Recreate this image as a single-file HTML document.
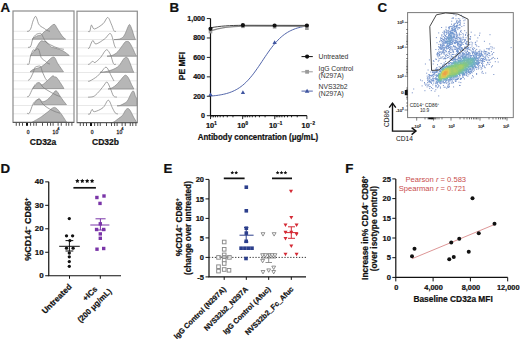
<!DOCTYPE html>
<html><head><meta charset="utf-8"><style>
html,body{margin:0;padding:0;background:#fff;width:520px;height:340px;overflow:hidden}
svg{display:block}
text{font-family:"Liberation Sans",sans-serif}
</style></head><body>
<svg width="520" height="340" viewBox="0 0 520 340">
<rect width="520" height="340" fill="#fff"/>
<text x="0.4" y="11.6" font-family="Liberation Sans" font-weight="bold" stroke="#111" stroke-width="0.22" font-size="13.3" text-anchor="start" fill="#111" >A</text>
<text x="169.5" y="11.8" font-family="Liberation Sans" font-weight="bold" stroke="#111" stroke-width="0.22" font-size="13.3" text-anchor="start" fill="#111" >B</text>
<text x="377.6" y="11.8" font-family="Liberation Sans" font-weight="bold" stroke="#111" stroke-width="0.22" font-size="13.3" text-anchor="start" fill="#111" >C</text>
<text x="0.4" y="172.8" font-family="Liberation Sans" font-weight="bold" stroke="#111" stroke-width="0.22" font-size="13.3" text-anchor="start" fill="#111" >D</text>
<text x="163.5" y="172.5" font-family="Liberation Sans" font-weight="bold" stroke="#111" stroke-width="0.22" font-size="13.3" text-anchor="start" fill="#111" >E</text>
<text x="345.3" y="173" font-family="Liberation Sans" font-weight="bold" stroke="#111" stroke-width="0.22" font-size="13.3" text-anchor="start" fill="#111" >F</text>
<rect x="13" y="11" width="61" height="111.4" fill="#fff" stroke="none"/>
<line x1="13" y1="31.3" x2="74" y2="31.3" stroke="#e2e2e2" stroke-width="0.8"/>
<line x1="13" y1="39.5" x2="74" y2="39.5" stroke="#e2e2e2" stroke-width="0.8"/>
<line x1="13" y1="47.8" x2="74" y2="47.8" stroke="#e2e2e2" stroke-width="0.8"/>
<line x1="13" y1="56.0" x2="74" y2="56.0" stroke="#e2e2e2" stroke-width="0.8"/>
<line x1="13" y1="64.3" x2="74" y2="64.3" stroke="#e2e2e2" stroke-width="0.8"/>
<line x1="13" y1="72.5" x2="74" y2="72.5" stroke="#e2e2e2" stroke-width="0.8"/>
<line x1="13" y1="80.8" x2="74" y2="80.8" stroke="#e2e2e2" stroke-width="0.8"/>
<line x1="13" y1="89.0" x2="74" y2="89.0" stroke="#e2e2e2" stroke-width="0.8"/>
<line x1="13" y1="97.3" x2="74" y2="97.3" stroke="#e2e2e2" stroke-width="0.8"/>
<line x1="13" y1="105.5" x2="74" y2="105.5" stroke="#e2e2e2" stroke-width="0.8"/>
<line x1="13" y1="113.8" x2="74" y2="113.8" stroke="#e2e2e2" stroke-width="0.8"/>
<path d="M32.20,39.20 C32.67,38.83 33.95,37.63 35.00,37.00 C36.05,36.37 37.50,35.73 38.50,35.40 C39.50,35.07 40.08,35.57 41.00,35.00 C41.92,34.43 42.83,33.00 44.00,32.00 C45.17,31.00 46.33,30.28 48.00,29.00 C49.67,27.72 52.50,24.47 54.00,24.30 C55.50,24.13 55.95,26.50 57.00,28.00 C58.05,29.50 59.30,31.80 60.30,33.30 C61.30,34.80 62.12,36.02 63.00,37.00 C63.88,37.98 65.17,38.83 65.60,39.20 Z" fill="#b6b6b6" stroke="#808080" stroke-width="0.65" stroke-linejoin="round"/>
<path d="M27.00,31.30 C27.33,31.25 28.33,31.55 29.00,31.00 C29.67,30.45 30.33,29.67 31.00,28.00 C31.67,26.33 32.27,22.93 33.00,21.00 C33.73,19.07 34.73,16.73 35.40,16.40 C36.07,16.07 36.48,17.77 37.00,19.00 C37.52,20.23 37.83,22.55 38.50,23.80 C39.17,25.05 40.02,25.72 41.00,26.50 C41.98,27.28 43.40,27.83 44.40,28.50 C45.40,29.17 46.07,30.03 47.00,30.50 C47.93,30.97 49.50,31.17 50.00,31.30" fill="none" stroke="#7a7a7a" stroke-width="0.7" stroke-linejoin="round"/>
<path d="M30.60,55.50 C31.42,54.45 34.02,51.35 35.50,49.20 C36.98,47.05 38.47,44.00 39.50,42.60 C40.53,41.20 41.07,41.02 41.70,40.80 C42.33,40.58 42.58,41.17 43.30,41.30 C44.02,41.43 45.25,41.23 46.00,41.60 C46.75,41.97 46.83,42.53 47.80,43.50 C48.77,44.47 50.92,46.73 51.80,47.40 C52.68,48.07 51.33,46.97 53.10,47.50 C54.87,48.03 59.70,49.27 62.40,50.60 C65.10,51.93 68.15,54.68 69.30,55.50 Z" fill="#b6b6b6" stroke="#808080" stroke-width="0.65" stroke-linejoin="round"/>
<path d="M28.00,47.30 C28.37,47.25 29.62,47.57 30.20,47.00 C30.78,46.43 31.07,45.30 31.50,43.90 C31.93,42.50 32.13,40.08 32.80,38.60 C33.47,37.12 34.62,35.82 35.50,35.00 C36.38,34.18 37.15,33.92 38.10,33.70 C39.05,33.48 40.32,33.03 41.20,33.70 C42.08,34.37 42.60,36.30 43.40,37.70 C44.20,39.10 44.82,40.92 46.00,42.10 C47.18,43.28 49.02,43.98 50.50,44.80 C51.98,45.62 53.43,46.38 54.90,47.00 C56.37,47.62 57.78,48.12 59.30,48.50 C60.82,48.88 63.22,49.17 64.00,49.30" fill="none" stroke="#7a7a7a" stroke-width="0.7" stroke-linejoin="round"/>
<path d="M30.00,71.80 C30.50,71.42 32.02,70.03 33.00,69.50 C33.98,68.97 34.62,69.02 35.90,68.60 C37.18,68.18 39.18,67.77 40.70,67.00 C42.22,66.23 42.88,65.67 45.00,64.00 C47.12,62.33 51.23,57.00 53.40,57.00 C55.57,57.00 56.32,61.53 58.00,64.00 C59.68,66.47 62.58,70.50 63.50,71.80 Z" fill="#b6b6b6" stroke="#808080" stroke-width="0.65" stroke-linejoin="round"/>
<path d="M27.00,64.00 C27.33,63.97 28.40,65.15 29.00,63.80 C29.60,62.45 29.90,58.20 30.60,55.90 C31.30,53.60 32.47,50.90 33.20,50.00 C33.93,49.10 34.12,50.67 35.00,50.50 C35.88,50.33 37.47,47.83 38.50,49.00 C39.53,50.17 40.05,55.47 41.20,57.50 C42.35,59.53 44.27,60.20 45.40,61.20 C46.53,62.20 47.23,63.03 48.00,63.50 C48.77,63.97 49.67,63.92 50.00,64.00" fill="none" stroke="#7a7a7a" stroke-width="0.7" stroke-linejoin="round"/>
<path d="M32.70,88.50 C33.08,88.08 34.03,86.88 35.00,86.00 C35.97,85.12 37.28,83.40 38.50,83.20 C39.72,83.00 40.62,85.42 42.30,84.80 C43.98,84.18 46.83,81.00 48.60,79.50 C50.37,78.00 51.92,76.22 52.90,75.80 C53.88,75.38 53.88,76.73 54.50,77.00 C55.12,77.27 55.63,76.45 56.60,77.40 C57.57,78.35 59.07,80.85 60.30,82.70 C61.53,84.55 63.38,87.53 64.00,88.50 Z" fill="#b6b6b6" stroke="#808080" stroke-width="0.65" stroke-linejoin="round"/>
<path d="M28.00,80.30 C28.33,80.08 29.13,80.28 30.00,79.00 C30.87,77.72 32.37,74.52 33.20,72.60 C34.03,70.68 34.37,68.52 35.00,67.50 C35.63,66.48 36.08,66.68 37.00,66.50 C37.92,66.32 39.62,65.55 40.50,66.40 C41.38,67.25 41.48,69.58 42.30,71.60 C43.12,73.62 44.62,77.05 45.40,78.50 C46.18,79.95 46.73,80.00 47.00,80.30" fill="none" stroke="#7a7a7a" stroke-width="0.7" stroke-linejoin="round"/>
<path d="M33.60,104.60 C33.98,104.05 35.03,102.20 35.90,101.30 C36.77,100.40 37.65,99.12 38.80,99.20 C39.95,99.28 41.33,101.75 42.80,101.80 C44.27,101.85 46.07,100.63 47.60,99.50 C49.13,98.37 50.60,96.47 52.00,95.00 C53.40,93.53 54.67,90.53 56.00,90.70 C57.33,90.87 58.75,94.28 60.00,96.00 C61.25,97.72 62.42,99.57 63.50,101.00 C64.58,102.43 66.00,104.00 66.50,104.60 Z" fill="#b6b6b6" stroke="#808080" stroke-width="0.65" stroke-linejoin="round"/>
<path d="M27.00,96.50 C27.33,96.42 28.05,97.33 29.00,96.00 C29.95,94.67 31.55,90.53 32.70,88.50 C33.85,86.47 34.75,84.77 35.90,83.80 C37.05,82.83 38.45,82.17 39.60,82.70 C40.75,83.23 41.57,85.78 42.80,87.00 C44.03,88.22 45.50,89.03 47.00,90.00 C48.50,90.97 50.30,91.97 51.80,92.80 C53.30,93.63 54.63,94.38 56.00,95.00 C57.37,95.62 59.33,96.25 60.00,96.50" fill="none" stroke="#7a7a7a" stroke-width="0.7" stroke-linejoin="round"/>
<path d="M32.20,122.20 C33.70,121.32 38.63,118.58 41.20,116.90 C43.77,115.22 45.40,113.68 47.60,112.10 C49.80,110.52 52.28,107.30 54.40,107.40 C56.52,107.50 58.27,110.23 60.30,112.70 C62.33,115.17 65.55,120.62 66.60,122.20 Z" fill="#b6b6b6" stroke="#808080" stroke-width="0.65" stroke-linejoin="round"/>
<path d="M27.00,113.20 C27.42,113.17 28.55,114.42 29.50,113.00 C30.45,111.58 31.72,106.70 32.70,104.70 C33.68,102.70 34.25,101.97 35.40,101.00 C36.55,100.03 38.55,98.63 39.60,98.90 C40.65,99.17 40.80,101.42 41.70,102.60 C42.60,103.78 43.67,104.93 45.00,106.00 C46.33,107.07 48.03,108.07 49.70,109.00 C51.37,109.93 53.28,110.90 55.00,111.60 C56.72,112.30 59.17,112.93 60.00,113.20" fill="none" stroke="#7a7a7a" stroke-width="0.7" stroke-linejoin="round"/>
<rect x="13" y="11" width="61" height="111.4" fill="none" stroke="#8c8c8c" stroke-width="1.2"/>
<path d="M16.25,122.4 v3.4 M19.40,122.4 v3.4 M22.50,122.4 v3.4 M30.60,122.4 v3.4 M33.75,122.4 v3.4 M36.25,122.4 v3.4 M42.50,122.4 v3.4 M47.50,122.4 v3.4 M50.60,122.4 v3.4 M53.10,122.4 v3.4 M58.10,122.4 v3.4 M61.25,122.4 v3.4 M66.25,122.4 v3.4 M68.75,122.4 v3.4 M71.90,122.4 v3.4" stroke="#222" stroke-width="0.8"/>
<rect x="26" y="122.4" width="2" height="3.4" fill="#111"/>
<line x1="13" y1="122.4" x2="74" y2="122.4" stroke="#555" stroke-width="1"/>
<text x="28.1" y="133.8" font-family="Liberation Sans" font-size="5" text-anchor="middle" fill="#333" stroke="#333" stroke-width="0.3">0</text>
<text x="55.4" y="133.8" font-family="Liberation Sans" font-size="5" text-anchor="middle" fill="#333" stroke="#333" stroke-width="0.3">10</text>
<text x="58.3" y="130.2" font-family="Liberation Sans" font-size="4" text-anchor="middle" fill="#333" stroke="#333" stroke-width="0.3">4</text>
<text x="43.1" y="144.5" font-family="Liberation Sans" font-weight="bold" stroke="#111" stroke-width="0.22" font-size="8.5" text-anchor="middle" fill="#111" >CD32a</text>
<rect x="77" y="11.2" width="60.30000000000001" height="111.39999999999999" fill="#fff" stroke="none"/>
<line x1="77" y1="31.3" x2="137.3" y2="31.3" stroke="#e2e2e2" stroke-width="0.8"/>
<line x1="77" y1="39.5" x2="137.3" y2="39.5" stroke="#e2e2e2" stroke-width="0.8"/>
<line x1="77" y1="47.8" x2="137.3" y2="47.8" stroke="#e2e2e2" stroke-width="0.8"/>
<line x1="77" y1="56.0" x2="137.3" y2="56.0" stroke="#e2e2e2" stroke-width="0.8"/>
<line x1="77" y1="64.3" x2="137.3" y2="64.3" stroke="#e2e2e2" stroke-width="0.8"/>
<line x1="77" y1="72.5" x2="137.3" y2="72.5" stroke="#e2e2e2" stroke-width="0.8"/>
<line x1="77" y1="80.8" x2="137.3" y2="80.8" stroke="#e2e2e2" stroke-width="0.8"/>
<line x1="77" y1="89.0" x2="137.3" y2="89.0" stroke="#e2e2e2" stroke-width="0.8"/>
<line x1="77" y1="97.3" x2="137.3" y2="97.3" stroke="#e2e2e2" stroke-width="0.8"/>
<line x1="77" y1="105.5" x2="137.3" y2="105.5" stroke="#e2e2e2" stroke-width="0.8"/>
<line x1="77" y1="113.8" x2="137.3" y2="113.8" stroke="#e2e2e2" stroke-width="0.8"/>
<path d="M114.00,39.60 C114.67,39.55 116.83,39.48 118.00,39.30 C119.17,39.12 120.08,38.97 121.00,38.50 C121.92,38.03 122.75,37.42 123.50,36.50 C124.25,35.58 124.83,34.42 125.50,33.00 C126.17,31.58 126.85,29.42 127.50,28.00 C128.15,26.58 128.82,24.67 129.40,24.50 C129.98,24.33 130.48,25.92 131.00,27.00 C131.52,28.08 132.00,29.50 132.50,31.00 C133.00,32.50 133.50,34.57 134.00,36.00 C134.50,37.43 135.25,39.00 135.50,39.60 Z" fill="#b6b6b6" stroke="#808080" stroke-width="0.65" stroke-linejoin="round"/>
<path d="M88.00,31.30 C88.30,31.30 89.22,32.35 89.80,31.30 C90.38,30.25 90.73,25.38 91.50,25.00 C92.27,24.62 92.48,29.20 94.40,29.00 C96.32,28.80 100.78,25.72 103.00,23.80 C105.22,21.88 106.33,17.50 107.70,17.50 C109.07,17.50 110.15,21.58 111.20,23.80 C112.25,26.02 113.20,29.55 114.00,30.80 C114.80,32.05 115.67,31.22 116.00,31.30" fill="none" stroke="#7a7a7a" stroke-width="0.7" stroke-linejoin="round"/>
<path d="M107.00,56.20 C107.80,56.08 110.47,55.87 111.80,55.50 C113.13,55.13 113.97,54.67 115.00,54.00 C116.03,53.33 117.00,52.58 118.00,51.50 C119.00,50.42 120.08,48.75 121.00,47.50 C121.92,46.25 122.78,44.95 123.50,44.00 C124.22,43.05 124.72,42.22 125.30,41.80 C125.88,41.38 126.42,41.50 127.00,41.50 C127.58,41.50 128.13,41.22 128.80,41.80 C129.47,42.38 130.22,43.63 131.00,45.00 C131.78,46.37 132.75,48.42 133.50,50.00 C134.25,51.58 134.95,53.47 135.50,54.50 C136.05,55.53 136.58,55.92 136.80,56.20 Z" fill="#b6b6b6" stroke="#808080" stroke-width="0.65" stroke-linejoin="round"/>
<path d="M88.00,48.00 C88.20,48.00 88.42,49.23 89.20,48.00 C89.98,46.77 91.57,41.27 92.70,40.60 C93.83,39.93 93.98,44.30 96.00,44.00 C98.02,43.70 102.37,40.52 104.80,38.80 C107.23,37.08 108.97,32.53 110.60,33.70 C112.23,34.87 113.70,43.45 114.60,45.80 C115.50,48.15 115.77,47.47 116.00,47.80" fill="none" stroke="#7a7a7a" stroke-width="0.7" stroke-linejoin="round"/>
<path d="M100.00,72.30 C100.83,72.22 103.33,72.10 105.00,71.80 C106.67,71.50 108.50,70.97 110.00,70.50 C111.50,70.03 112.75,69.58 114.00,69.00 C115.25,68.42 116.50,67.75 117.50,67.00 C118.50,66.25 119.17,65.58 120.00,64.50 C120.83,63.42 121.75,61.58 122.50,60.50 C123.25,59.42 123.88,58.53 124.50,58.00 C125.12,57.47 125.62,57.22 126.20,57.30 C126.78,57.38 127.37,57.55 128.00,58.50 C128.63,59.45 129.42,61.58 130.00,63.00 C130.58,64.42 131.00,65.67 131.50,67.00 C132.00,68.33 132.58,70.12 133.00,71.00 C133.42,71.88 133.83,72.08 134.00,72.30 Z" fill="#b6b6b6" stroke="#808080" stroke-width="0.65" stroke-linejoin="round"/>
<path d="M88.00,64.20 C88.20,64.20 88.42,64.68 89.20,64.20 C89.98,63.72 91.73,61.58 92.70,61.30 C93.67,61.02 93.65,63.17 95.00,62.50 C96.35,61.83 99.27,59.03 100.80,57.30 C102.33,55.57 103.15,53.35 104.20,52.10 C105.25,50.85 106.03,49.32 107.10,49.80 C108.17,50.28 109.53,52.68 110.60,55.00 C111.67,57.32 112.60,62.17 113.50,63.70 C114.40,65.23 115.58,64.12 116.00,64.20" fill="none" stroke="#7a7a7a" stroke-width="0.7" stroke-linejoin="round"/>
<path d="M108.00,89.00 C108.50,88.88 109.92,88.75 111.00,88.30 C112.08,87.85 113.40,87.10 114.50,86.30 C115.60,85.50 116.52,84.63 117.60,83.50 C118.68,82.37 120.02,80.67 121.00,79.50 C121.98,78.33 122.77,77.22 123.50,76.50 C124.23,75.78 124.73,75.20 125.40,75.20 C126.07,75.20 126.82,75.70 127.50,76.50 C128.18,77.30 128.83,78.67 129.50,80.00 C130.17,81.33 130.77,83.00 131.50,84.50 C132.23,86.00 133.50,88.25 133.90,89.00 Z" fill="#b6b6b6" stroke="#808080" stroke-width="0.65" stroke-linejoin="round"/>
<path d="M88.00,81.00 C88.30,81.00 88.25,81.78 89.80,81.00 C91.35,80.22 95.28,77.93 97.30,76.30 C99.32,74.67 100.45,72.73 101.90,71.20 C103.35,69.67 104.75,67.02 106.00,67.10 C107.25,67.18 108.63,70.45 109.40,71.70 C110.17,72.95 109.83,73.05 110.60,74.60 C111.37,76.15 113.43,79.93 114.00,81.00" fill="none" stroke="#7a7a7a" stroke-width="0.7" stroke-linejoin="round"/>
<path d="M117.00,105.80 C117.50,105.75 118.83,105.88 120.00,105.50 C121.17,105.12 122.83,104.17 124.00,103.50 C125.17,102.83 126.13,102.50 127.00,101.50 C127.87,100.50 128.60,98.68 129.20,97.50 C129.80,96.32 129.98,95.50 130.60,94.40 C131.22,93.30 132.25,91.13 132.90,90.90 C133.55,90.67 134.07,92.02 134.50,93.00 C134.93,93.98 135.12,95.83 135.50,96.80 C135.88,97.77 136.58,97.30 136.80,98.80 C137.02,100.30 136.80,104.63 136.80,105.80 Z" fill="#b6b6b6" stroke="#808080" stroke-width="0.65" stroke-linejoin="round"/>
<path d="M88.00,97.10 C88.30,97.10 88.73,97.28 89.80,97.10 C90.87,96.92 92.67,97.15 94.40,96.00 C96.13,94.85 98.57,92.03 100.20,90.20 C101.83,88.37 103.05,86.35 104.20,85.00 C105.35,83.65 106.03,81.43 107.10,82.10 C108.17,82.77 109.53,86.68 110.60,89.00 C111.67,91.32 112.43,94.65 113.50,96.00 C114.57,97.35 116.42,96.92 117.00,97.10" fill="none" stroke="#7a7a7a" stroke-width="0.7" stroke-linejoin="round"/>
<path d="M110.00,122.60 C110.50,122.55 112.12,122.57 113.00,122.30 C113.88,122.03 114.38,121.63 115.30,121.00 C116.22,120.37 117.32,119.40 118.50,118.50 C119.68,117.60 121.40,116.68 122.40,115.60 C123.40,114.52 123.92,112.98 124.50,112.00 C125.08,111.02 125.38,110.28 125.90,109.70 C126.42,109.12 127.00,108.53 127.60,108.50 C128.20,108.47 128.85,108.75 129.50,109.50 C130.15,110.25 130.83,111.75 131.50,113.00 C132.17,114.25 132.97,115.98 133.50,117.00 C134.03,118.02 134.15,118.17 134.70,119.10 C135.25,120.03 136.45,122.02 136.80,122.60 Z" fill="#b6b6b6" stroke="#808080" stroke-width="0.65" stroke-linejoin="round"/>
<path d="M88.00,114.00 C88.30,114.00 89.12,114.77 89.80,114.00 C90.48,113.23 91.33,109.78 92.10,109.40 C92.87,109.02 92.58,111.98 94.40,111.70 C96.22,111.42 100.68,109.62 103.00,107.70 C105.32,105.78 106.75,100.20 108.30,100.20 C109.85,100.20 111.15,105.58 112.30,107.70 C113.45,109.82 114.25,111.85 115.20,112.90 C116.15,113.95 117.53,113.82 118.00,114.00" fill="none" stroke="#7a7a7a" stroke-width="0.7" stroke-linejoin="round"/>
<rect x="77" y="11.2" width="60.30000000000001" height="111.39999999999999" fill="none" stroke="#8c8c8c" stroke-width="1.2"/>
<path d="M80.25,122.6 v3.4 M83.40,122.6 v3.4 M86.50,122.6 v3.4 M94.60,122.6 v3.4 M97.75,122.6 v3.4 M100.25,122.6 v3.4 M106.50,122.6 v3.4 M111.50,122.6 v3.4 M114.60,122.6 v3.4 M117.10,122.6 v3.4 M122.10,122.6 v3.4 M125.25,122.6 v3.4 M130.25,122.6 v3.4 M132.75,122.6 v3.4 M135.90,122.6 v3.4" stroke="#222" stroke-width="0.8"/>
<rect x="90" y="122.6" width="2" height="3.4" fill="#111"/>
<line x1="77" y1="122.6" x2="137.3" y2="122.6" stroke="#555" stroke-width="1"/>
<text x="92.1" y="133.8" font-family="Liberation Sans" font-size="5" text-anchor="middle" fill="#333" stroke="#333" stroke-width="0.3">0</text>
<text x="119.4" y="133.8" font-family="Liberation Sans" font-size="5" text-anchor="middle" fill="#333" stroke="#333" stroke-width="0.3">10</text>
<text x="122.3" y="130.2" font-family="Liberation Sans" font-size="4" text-anchor="middle" fill="#333" stroke="#333" stroke-width="0.3">4</text>
<text x="105.5" y="144.5" font-family="Liberation Sans" font-weight="bold" stroke="#111" stroke-width="0.22" font-size="8.5" text-anchor="middle" fill="#111" >CD32b</text>
<path d="M210.5,18.549999999999997 V115.7 H306.89" fill="none" stroke="#111" stroke-width="1.2"/>
<text x="205.0" y="118.2" font-family="Liberation Sans" font-weight="bold" stroke="#111" stroke-width="0.22" font-size="7.1" text-anchor="end" fill="#111" >0</text>
<text x="205.0" y="98.77000000000001" font-family="Liberation Sans" font-weight="bold" stroke="#111" stroke-width="0.22" font-size="7.1" text-anchor="end" fill="#111" >200</text>
<text x="205.0" y="79.34" font-family="Liberation Sans" font-weight="bold" stroke="#111" stroke-width="0.22" font-size="7.1" text-anchor="end" fill="#111" >400</text>
<text x="205.0" y="59.910000000000004" font-family="Liberation Sans" font-weight="bold" stroke="#111" stroke-width="0.22" font-size="7.1" text-anchor="end" fill="#111" >600</text>
<text x="205.0" y="40.480000000000004" font-family="Liberation Sans" font-weight="bold" stroke="#111" stroke-width="0.22" font-size="7.1" text-anchor="end" fill="#111" >800</text>
<text x="205.0" y="21.049999999999997" font-family="Liberation Sans" font-weight="bold" stroke="#111" stroke-width="0.22" font-size="7.1" text-anchor="end" fill="#111" >1,000</text>
<path d="M206.8,115.70 H210.5 M206.8,96.27 H210.5 M206.8,76.84 H210.5 M206.8,57.41 H210.5 M206.8,37.98 H210.5 M206.8,18.55 H210.5 M210.50,115.7 v3.4 M242.63,115.7 v3.4 M274.76,115.7 v3.4 M306.89,115.7 v3.4 M232.96,115.7 v1.6 M227.30,115.7 v1.6 M223.29,115.7 v1.6 M220.17,115.7 v1.6 M217.63,115.7 v1.6 M215.48,115.7 v1.6 M213.61,115.7 v1.6 M211.97,115.7 v1.6 M265.09,115.7 v1.6 M259.43,115.7 v1.6 M255.42,115.7 v1.6 M252.30,115.7 v1.6 M249.76,115.7 v1.6 M247.61,115.7 v1.6 M245.74,115.7 v1.6 M244.10,115.7 v1.6 M297.22,115.7 v1.6 M291.56,115.7 v1.6 M287.55,115.7 v1.6 M284.43,115.7 v1.6 M281.89,115.7 v1.6 M279.74,115.7 v1.6 M277.87,115.7 v1.6 M276.23,115.7 v1.6" stroke="#111" stroke-width="0.9"/>
<text x="211.3" y="127.7" font-family="Liberation Sans" font-weight="bold" stroke="#111" stroke-width="0.22" font-size="7.4" text-anchor="middle" fill="#111">10<tspan font-size="4.5" dy="-2.4">1</tspan></text>
<text x="242.6" y="127.7" font-family="Liberation Sans" font-weight="bold" stroke="#111" stroke-width="0.22" font-size="7.4" text-anchor="middle" fill="#111">10<tspan font-size="4.5" dy="-2.4">0</tspan></text>
<text x="275.6" y="127.7" font-family="Liberation Sans" font-weight="bold" stroke="#111" stroke-width="0.22" font-size="7.4" text-anchor="middle" fill="#111">10<tspan font-size="4.5" dy="-2.4">−1</tspan></text>
<text x="308.3" y="127.7" font-family="Liberation Sans" font-weight="bold" stroke="#111" stroke-width="0.22" font-size="7.4" text-anchor="middle" fill="#111">10<tspan font-size="4.5" dy="-2.4">−2</tspan></text>
<text x="257.9" y="139.8" font-family="Liberation Sans" font-weight="bold" stroke="#111" stroke-width="0.22" font-size="8.4" text-anchor="middle" fill="#111" textLength="120.5" lengthAdjust="spacingAndGlyphs">Antibody concentration (μg/mL)</text>
<text x="0" y="0" font-family="Liberation Sans" font-weight="bold" stroke="#111" stroke-width="0.22" font-size="8.5" text-anchor="middle" fill="#111" transform="translate(184.8,66.1) rotate(-90)">PE MFI</text>
<polyline points="210.50,96.08 212.11,95.95 213.71,95.79 215.32,95.62 216.93,95.42 218.53,95.19 220.14,94.93 221.75,94.64 223.35,94.31 224.96,93.94 226.56,93.52 228.17,93.05 229.78,92.52 231.38,91.92 232.99,91.24 234.60,90.49 236.20,89.66 237.81,88.72 239.42,87.69 241.02,86.55 242.63,85.30 244.24,83.93 245.84,82.44 247.45,80.82 249.06,79.08 250.66,77.22 252.27,75.25 253.88,73.16 255.48,70.98 257.09,68.72 258.69,66.38 260.30,64.00 261.91,61.58 263.51,59.16 265.12,56.75 266.73,54.38 268.33,52.06 269.94,49.81 271.55,47.64 273.15,45.58 274.76,43.63 276.37,41.79 277.97,40.08 279.58,38.49 281.19,37.02 282.79,35.67 284.40,34.44 286.01,33.33 287.61,32.31 289.22,31.40 290.82,30.58 292.43,29.85 294.04,29.19 295.64,28.60 297.25,28.08 298.86,27.62 300.46,27.21 302.07,26.85 303.68,26.53 305.28,26.24 306.89,25.99" fill="none" stroke="#3f55a0" stroke-width="0.9"/>
<path d="M210.5,30.8 C220,27.8 228,26.4 242.9,26.2 L306.9,26.3" fill="none" stroke="#8a8a8a" stroke-width="1.3"/>
<path d="M210.5,27.8 C220,26 230,25.4 242.9,25.3 L306.9,25.4" fill="none" stroke="#444" stroke-width="1.0"/>
<rect x="208.70" y="29.80" width="3.6" height="3.6" fill="#9a9a9a" stroke="none" stroke-width="0"/>
<rect x="241.10" y="24.50" width="3.6" height="3.6" fill="#9a9a9a" stroke="none" stroke-width="0"/>
<rect x="272.80" y="25.00" width="3.6" height="3.6" fill="#9a9a9a" stroke="none" stroke-width="0"/>
<rect x="305.10" y="26.40" width="3.6" height="3.6" fill="#9a9a9a" stroke="none" stroke-width="0"/>
<circle cx="210.50" cy="28.80" r="2.1" fill="#111"/>
<circle cx="242.90" cy="25.20" r="2.1" fill="#111"/>
<circle cx="274.60" cy="25.50" r="2.1" fill="#111"/>
<circle cx="306.90" cy="25.50" r="2.1" fill="#111"/>
<polygon points="210.5,92.4 208.3,96.1 212.7,96.1" fill="#3f55a0" stroke="none" stroke-width="0" stroke-linejoin="round"/>
<polygon points="242.9,90.3 240.8,94.0 245.1,94.0" fill="#3f55a0" stroke="none" stroke-width="0" stroke-linejoin="round"/>
<polygon points="274.6,40.2 272.5,43.9 276.8,43.9" fill="#3f55a0" stroke="none" stroke-width="0" stroke-linejoin="round"/>
<line x1="301.5" y1="56.6" x2="312.8" y2="56.6" stroke="#111" stroke-width="1"/>
<circle cx="307.10" cy="56.60" r="2.1" fill="#111"/>
<line x1="301.5" y1="71.8" x2="312.8" y2="71.8" stroke="#9a9a9a" stroke-width="1"/>
<rect x="305.20" y="69.90" width="3.8" height="3.8" fill="#9a9a9a" stroke="none" stroke-width="0"/>
<line x1="301.5" y1="91.1" x2="312.8" y2="91.1" stroke="#3f55a0" stroke-width="0.9"/>
<polygon points="307.1,88.7 304.8,92.7 309.4,92.7" fill="#3f55a0" stroke="none" stroke-width="0" stroke-linejoin="round"/>
<text x="318.5" y="59.1" font-family="Liberation Sans" font-size="6.8" text-anchor="start" fill="#333" >Untreated</text>
<text x="318.5" y="70.9" font-family="Liberation Sans" font-size="6.8" text-anchor="start" fill="#333" >IgG Control</text>
<text x="318.5" y="78.2" font-family="Liberation Sans" font-size="6.8" text-anchor="start" fill="#333" >(N297A)</text>
<text x="318.5" y="89.1" font-family="Liberation Sans" font-size="6.8" text-anchor="start" fill="#333" >NVS32b2</text>
<text x="318.5" y="96.0" font-family="Liberation Sans" font-size="6.8" text-anchor="start" fill="#333" >(N297A)</text>
<rect x="407.6" y="12.6" width="105.69999999999993" height="105.0" fill="#fff" stroke="#7a7a7a" stroke-width="1"/>
<g opacity="0.8"><rect x="510.6" y="47.1" width="1" height="1" fill="#5473ba"/><rect x="489.5" y="34.2" width="1" height="1" fill="#5473ba"/><rect x="424.9" y="63.5" width="1" height="1" fill="#5473ba"/><rect x="493.3" y="74.0" width="1" height="1" fill="#5473ba"/><rect x="411.8" y="92.3" width="1" height="1" fill="#5473ba"/><rect x="413.2" y="88.5" width="1" height="1" fill="#5473ba"/><rect x="435.9" y="37.1" width="1" height="1" fill="#5473ba"/><rect x="483.9" y="40.8" width="1" height="1" fill="#5473ba"/><rect x="438.2" y="95.4" width="1" height="1" fill="#5473ba"/><rect x="453.1" y="86.4" width="1" height="1" fill="#5473ba"/><rect x="441.1" y="27.0" width="1" height="1" fill="#5473ba"/><rect x="470.7" y="31.7" width="1" height="1" fill="#5474ba"/><rect x="474.4" y="34.6" width="1" height="1" fill="#5474ba"/><rect x="424.4" y="90.2" width="1" height="1" fill="#5474ba"/><rect x="489.2" y="43.4" width="1" height="1" fill="#5474ba"/><rect x="438.2" y="32.4" width="1" height="1" fill="#5474ba"/><rect x="427.6" y="69.5" width="1" height="1" fill="#5474ba"/><rect x="428.9" y="59.4" width="1" height="1" fill="#5474ba"/><rect x="477.3" y="37.4" width="1" height="1" fill="#5474ba"/><rect x="460.9" y="14.8" width="1" height="1" fill="#5474ba"/><rect x="497.7" y="61.5" width="1" height="1" fill="#5474ba"/><rect x="463.5" y="25.1" width="1" height="1" fill="#5474ba"/><rect x="497.0" y="57.9" width="1" height="1" fill="#5474ba"/><rect x="421.6" y="85.4" width="1" height="1" fill="#5474ba"/><rect x="494.8" y="61.2" width="1" height="1" fill="#5474ba"/><rect x="453.4" y="13.6" width="1" height="1" fill="#5474ba"/><rect x="420.0" y="79.5" width="1" height="1" fill="#5474ba"/><rect x="478.3" y="46.1" width="1" height="1" fill="#5474ba"/><rect x="464.2" y="30.2" width="1" height="1" fill="#5474ba"/><rect x="460.3" y="82.1" width="1" height="1" fill="#5474ba"/><rect x="432.7" y="63.5" width="1" height="1" fill="#5474ba"/><rect x="471.2" y="77.7" width="1" height="1" fill="#5474ba"/><rect x="479.4" y="32.6" width="1" height="1" fill="#5474ba"/><rect x="493.2" y="52.0" width="1" height="1" fill="#5474ba"/><rect x="434.4" y="90.7" width="1" height="1" fill="#5474ba"/><rect x="485.2" y="72.5" width="1" height="1" fill="#5374ba"/><rect x="492.0" y="65.3" width="1" height="1" fill="#5374ba"/><rect x="479.0" y="34.8" width="1" height="1" fill="#5374ba"/><rect x="455.5" y="15.2" width="1" height="1" fill="#5374ba"/><rect x="435.4" y="49.0" width="1" height="1" fill="#5374ba"/><rect x="435.3" y="89.2" width="1" height="1" fill="#5374bb"/><rect x="437.0" y="64.2" width="1" height="1" fill="#5374bb"/><rect x="421.7" y="80.3" width="1" height="1" fill="#5374bb"/><rect x="451.2" y="20.7" width="1" height="1" fill="#5374bb"/><rect x="436.5" y="42.2" width="1" height="1" fill="#5374bb"/><rect x="482.7" y="72.9" width="1" height="1" fill="#5374bb"/><rect x="432.9" y="60.2" width="1" height="1" fill="#5374bb"/><rect x="472.9" y="76.4" width="1" height="1" fill="#5374bb"/><rect x="463.7" y="22.8" width="1" height="1" fill="#5374bb"/><rect x="476.1" y="73.0" width="1" height="1" fill="#5374bb"/><rect x="476.1" y="73.9" width="1" height="1" fill="#5374bb"/><rect x="476.5" y="40.5" width="1" height="1" fill="#5374bb"/><rect x="491.0" y="66.4" width="1" height="1" fill="#5374bb"/><rect x="431.0" y="69.5" width="1" height="1" fill="#5374bb"/><rect x="433.4" y="60.9" width="1" height="1" fill="#5374bb"/><rect x="459.1" y="84.9" width="1" height="1" fill="#5374bb"/><rect x="459.5" y="85.0" width="1" height="1" fill="#5374bb"/><rect x="493.6" y="47.6" width="1" height="1" fill="#5374bb"/><rect x="486.0" y="64.4" width="1" height="1" fill="#5374bb"/><rect x="430.8" y="90.1" width="1" height="1" fill="#5374bb"/><rect x="481.4" y="72.3" width="1" height="1" fill="#5374bb"/><rect x="488.9" y="63.9" width="1" height="1" fill="#5374bb"/><rect x="463.7" y="17.2" width="1" height="1" fill="#5374bb"/><rect x="458.5" y="81.7" width="1" height="1" fill="#5374bb"/><rect x="424.0" y="82.1" width="1" height="1" fill="#5374bb"/><rect x="494.3" y="58.1" width="1" height="1" fill="#5374bb"/><rect x="484.7" y="67.2" width="1" height="1" fill="#5374bb"/><rect x="439.9" y="87.6" width="1" height="1" fill="#5374bb"/><rect x="475.8" y="44.5" width="1" height="1" fill="#5374bb"/><rect x="432.3" y="88.1" width="1" height="1" fill="#5374bb"/><rect x="463.4" y="20.2" width="1" height="1" fill="#5374bb"/><rect x="492.0" y="53.4" width="1" height="1" fill="#5374bb"/><rect x="440.6" y="63.1" width="1" height="1" fill="#5375bb"/><rect x="462.4" y="17.5" width="1" height="1" fill="#5375bb"/><rect x="481.8" y="70.9" width="1" height="1" fill="#5375bb"/><rect x="443.6" y="86.7" width="1" height="1" fill="#5375bb"/><rect x="426.2" y="72.7" width="1" height="1" fill="#5375bb"/><rect x="468.3" y="34.1" width="1" height="1" fill="#5375bb"/><rect x="490.9" y="51.1" width="1" height="1" fill="#5375bb"/><rect x="467.3" y="75.7" width="1" height="1" fill="#5375bb"/><rect x="435.3" y="58.5" width="1" height="1" fill="#5375bb"/><rect x="435.8" y="59.0" width="1" height="1" fill="#5375bb"/><rect x="476.3" y="45.6" width="1" height="1" fill="#5375bb"/><rect x="426.6" y="86.4" width="1" height="1" fill="#5375bb"/><rect x="464.6" y="19.4" width="1" height="1" fill="#5375bb"/><rect x="491.8" y="46.7" width="1" height="1" fill="#5375bb"/><rect x="465.8" y="32.3" width="1" height="1" fill="#5375bb"/><rect x="451.6" y="17.9" width="1" height="1" fill="#5375bb"/><rect x="452.6" y="17.1" width="1" height="1" fill="#5375bb"/><rect x="470.1" y="36.3" width="1" height="1" fill="#5375bb"/><rect x="469.9" y="36.1" width="1" height="1" fill="#5375bb"/><rect x="492.8" y="56.9" width="1" height="1" fill="#5375bb"/><rect x="455.4" y="18.3" width="1" height="1" fill="#5375bb"/><rect x="490.4" y="46.2" width="1" height="1" fill="#5375bb"/><rect x="445.6" y="26.6" width="1" height="1" fill="#5375bb"/><rect x="429.2" y="87.9" width="1" height="1" fill="#5375bb"/><rect x="491.6" y="48.6" width="1" height="1" fill="#5375bb"/><rect x="446.2" y="87.7" width="1" height="1" fill="#5375bb"/><rect x="442.9" y="85.0" width="1" height="1" fill="#5375bc"/><rect x="444.6" y="86.7" width="1" height="1" fill="#5375bc"/><rect x="460.6" y="29.9" width="1" height="1" fill="#5375bc"/><rect x="459.2" y="18.5" width="1" height="1" fill="#5375bc"/><rect x="486.2" y="48.2" width="1" height="1" fill="#5375bc"/><rect x="491.8" y="57.6" width="1" height="1" fill="#5375bc"/><rect x="452.8" y="17.8" width="1" height="1" fill="#5375bc"/><rect x="431.0" y="87.1" width="1" height="1" fill="#5375bc"/><rect x="491.5" y="54.2" width="1" height="1" fill="#5375bc"/><rect x="474.9" y="43.8" width="1" height="1" fill="#5375bc"/><rect x="469.5" y="38.1" width="1" height="1" fill="#5375bc"/><rect x="470.0" y="38.7" width="1" height="1" fill="#5375bc"/><rect x="457.8" y="18.1" width="1" height="1" fill="#5375bc"/><rect x="426.7" y="75.6" width="1" height="1" fill="#5375bc"/><rect x="467.0" y="35.3" width="1" height="1" fill="#5375bc"/><rect x="438.5" y="59.7" width="1" height="1" fill="#5375bc"/><rect x="437.8" y="60.6" width="1" height="1" fill="#5375bc"/><rect x="425.1" y="84.7" width="1" height="1" fill="#5375bc"/><rect x="472.0" y="75.2" width="1" height="1" fill="#5375bc"/><rect x="474.8" y="42.2" width="1" height="1" fill="#5375bc"/><rect x="475.1" y="41.8" width="1" height="1" fill="#5375bc"/><rect x="463.9" y="78.4" width="1" height="1" fill="#5375bc"/><rect x="462.4" y="33.1" width="1" height="1" fill="#5375bc"/><rect x="488.6" y="49.3" width="1" height="1" fill="#5375bc"/><rect x="451.0" y="23.7" width="1" height="1" fill="#5375bc"/><rect x="440.0" y="86.6" width="1" height="1" fill="#5375bc"/><rect x="471.5" y="45.5" width="1" height="1" fill="#5375bc"/><rect x="465.1" y="34.1" width="1" height="1" fill="#5375bc"/><rect x="469.0" y="38.4" width="1" height="1" fill="#5375bc"/><rect x="465.0" y="34.8" width="1" height="1" fill="#5375bc"/><rect x="491.1" y="58.3" width="1" height="1" fill="#5375bc"/><rect x="489.3" y="47.8" width="1" height="1" fill="#5375bc"/><rect x="428.7" y="86.1" width="1" height="1" fill="#5375bc"/><rect x="487.5" y="63.5" width="1" height="1" fill="#5375bc"/><rect x="461.3" y="26.0" width="1" height="1" fill="#5375bc"/><rect x="428.4" y="74.1" width="1" height="1" fill="#5375bc"/><rect x="460.7" y="31.8" width="1" height="1" fill="#5375bc"/><rect x="480.6" y="68.7" width="1" height="1" fill="#5375bc"/><rect x="487.5" y="48.2" width="1" height="1" fill="#5375bc"/><rect x="488.3" y="48.4" width="1" height="1" fill="#5375bc"/><rect x="432.3" y="84.4" width="1" height="1" fill="#5375bc"/><rect x="470.6" y="41.6" width="1" height="1" fill="#5275bc"/><rect x="472.1" y="42.4" width="1" height="1" fill="#5275bc"/><rect x="462.9" y="34.4" width="1" height="1" fill="#5275bc"/><rect x="465.5" y="37.2" width="1" height="1" fill="#5275bc"/><rect x="489.6" y="61.8" width="1" height="1" fill="#5275bc"/><rect x="429.7" y="85.9" width="1" height="1" fill="#5275bc"/><rect x="424.2" y="83.4" width="1" height="1" fill="#5275bc"/><rect x="483.7" y="49.7" width="1" height="1" fill="#5276bc"/><rect x="489.5" y="55.2" width="1" height="1" fill="#5276bc"/><rect x="435.4" y="86.4" width="1" height="1" fill="#5276bc"/><rect x="441.4" y="34.2" width="1" height="1" fill="#5276bc"/><rect x="471.5" y="43.7" width="1" height="1" fill="#5276bc"/><rect x="459.1" y="27.6" width="1" height="1" fill="#5276bc"/><rect x="448.6" y="86.5" width="1" height="1" fill="#5276bc"/><rect x="442.9" y="58.3" width="1" height="1" fill="#5276bd"/><rect x="489.1" y="52.9" width="1" height="1" fill="#5276bd"/><rect x="460.0" y="30.9" width="1" height="1" fill="#5276bd"/><rect x="440.4" y="58.0" width="1" height="1" fill="#5276bd"/><rect x="474.1" y="47.8" width="1" height="1" fill="#5276bd"/><rect x="489.6" y="59.1" width="1" height="1" fill="#5276bd"/><rect x="462.6" y="36.4" width="1" height="1" fill="#5276bd"/><rect x="445.1" y="60.9" width="1" height="1" fill="#5276bd"/><rect x="477.8" y="68.5" width="1" height="1" fill="#5276bd"/><rect x="441.5" y="57.2" width="1" height="1" fill="#5276bd"/><rect x="469.2" y="44.2" width="1" height="1" fill="#5276bd"/><rect x="438.6" y="66.2" width="1" height="1" fill="#5276bd"/><rect x="437.7" y="86.4" width="1" height="1" fill="#5276bd"/><rect x="440.0" y="37.4" width="1" height="1" fill="#5276bd"/><rect x="426.8" y="77.8" width="1" height="1" fill="#5276bd"/><rect x="427.7" y="84.9" width="1" height="1" fill="#5276bd"/><rect x="469.2" y="43.9" width="1" height="1" fill="#5276bd"/><rect x="487.1" y="62.0" width="1" height="1" fill="#5276bd"/><rect x="438.7" y="58.0" width="1" height="1" fill="#5276bd"/><rect x="427.0" y="79.7" width="1" height="1" fill="#5276bd"/><rect x="488.8" y="59.8" width="1" height="1" fill="#5276bd"/><rect x="459.6" y="20.0" width="1" height="1" fill="#5276bd"/><rect x="456.6" y="19.9" width="1" height="1" fill="#5276bd"/><rect x="479.4" y="49.5" width="1" height="1" fill="#5276bd"/><rect x="468.3" y="74.2" width="1" height="1" fill="#5276bd"/><rect x="436.9" y="87.2" width="1" height="1" fill="#5276bd"/><rect x="463.1" y="37.3" width="1" height="1" fill="#5276bd"/><rect x="472.8" y="47.3" width="1" height="1" fill="#5276bd"/><rect x="464.7" y="39.1" width="1" height="1" fill="#5276bd"/><rect x="453.0" y="81.9" width="1" height="1" fill="#5276bd"/><rect x="460.4" y="34.1" width="1" height="1" fill="#5276bd"/><rect x="427.0" y="82.2" width="1" height="1" fill="#5276bd"/><rect x="442.5" y="56.1" width="1" height="1" fill="#5276bd"/><rect x="430.2" y="71.5" width="1" height="1" fill="#5276bd"/><rect x="438.4" y="43.9" width="1" height="1" fill="#5276bd"/><rect x="488.1" y="57.2" width="1" height="1" fill="#5276bd"/><rect x="476.2" y="48.9" width="1" height="1" fill="#5276bd"/><rect x="442.4" y="31.9" width="1" height="1" fill="#5276bd"/><rect x="475.1" y="49.8" width="1" height="1" fill="#5276bd"/><rect x="487.4" y="61.8" width="1" height="1" fill="#5276bd"/><rect x="466.5" y="40.9" width="1" height="1" fill="#5276bd"/><rect x="447.9" y="86.8" width="1" height="1" fill="#5276bd"/><rect x="445.4" y="28.8" width="1" height="1" fill="#5276bd"/><rect x="468.8" y="42.1" width="1" height="1" fill="#5276bd"/><rect x="447.1" y="86.4" width="1" height="1" fill="#5276bd"/><rect x="447.4" y="86.4" width="1" height="1" fill="#5276bd"/><rect x="472.0" y="48.2" width="1" height="1" fill="#5276bd"/><rect x="426.7" y="84.5" width="1" height="1" fill="#5276bd"/><rect x="425.6" y="83.6" width="1" height="1" fill="#5276bd"/><rect x="449.0" y="85.7" width="1" height="1" fill="#5276bd"/><rect x="458.9" y="32.7" width="1" height="1" fill="#5276bd"/><rect x="445.3" y="57.8" width="1" height="1" fill="#5276bd"/><rect x="445.3" y="58.0" width="1" height="1" fill="#5276bd"/><rect x="459.8" y="79.0" width="1" height="1" fill="#5276bd"/><rect x="440.1" y="38.6" width="1" height="1" fill="#5276bd"/><rect x="483.5" y="65.3" width="1" height="1" fill="#5276bd"/><rect x="444.1" y="57.9" width="1" height="1" fill="#5276bd"/><rect x="484.0" y="66.5" width="1" height="1" fill="#5276bd"/><rect x="444.6" y="58.4" width="1" height="1" fill="#5276bd"/><rect x="440.3" y="56.6" width="1" height="1" fill="#5276bd"/><rect x="436.4" y="67.1" width="1" height="1" fill="#5276bd"/><rect x="436.2" y="67.7" width="1" height="1" fill="#5276bd"/><rect x="459.4" y="27.3" width="1" height="1" fill="#5276bd"/><rect x="454.9" y="22.8" width="1" height="1" fill="#5276bd"/><rect x="452.4" y="82.6" width="1" height="1" fill="#5276bd"/><rect x="451.1" y="82.5" width="1" height="1" fill="#5276bd"/><rect x="428.5" y="83.9" width="1" height="1" fill="#5276bd"/><rect x="481.4" y="67.8" width="1" height="1" fill="#5276bd"/><rect x="441.3" y="35.2" width="1" height="1" fill="#5276bd"/><rect x="457.3" y="29.1" width="1" height="1" fill="#5276bd"/><rect x="441.5" y="36.5" width="1" height="1" fill="#5276bd"/><rect x="435.5" y="85.6" width="1" height="1" fill="#5276be"/><rect x="438.2" y="85.5" width="1" height="1" fill="#5276be"/><rect x="487.4" y="59.5" width="1" height="1" fill="#5276be"/><rect x="435.2" y="84.7" width="1" height="1" fill="#5276be"/><rect x="438.4" y="85.2" width="1" height="1" fill="#5276be"/><rect x="488.5" y="59.6" width="1" height="1" fill="#5276be"/><rect x="435.7" y="85.2" width="1" height="1" fill="#5276be"/><rect x="478.4" y="67.6" width="1" height="1" fill="#5276be"/><rect x="447.6" y="85.2" width="1" height="1" fill="#5276be"/><rect x="447.6" y="52.6" width="1" height="1" fill="#5276be"/><rect x="480.6" y="67.0" width="1" height="1" fill="#5276be"/><rect x="464.9" y="39.6" width="1" height="1" fill="#5276be"/><rect x="448.6" y="83.8" width="1" height="1" fill="#5276be"/><rect x="448.6" y="83.1" width="1" height="1" fill="#5276be"/><rect x="443.6" y="62.4" width="1" height="1" fill="#5276be"/><rect x="439.8" y="40.3" width="1" height="1" fill="#5276be"/><rect x="444.6" y="63.1" width="1" height="1" fill="#5276be"/><rect x="432.2" y="70.7" width="1" height="1" fill="#5276be"/><rect x="486.0" y="59.6" width="1" height="1" fill="#5277be"/><rect x="487.6" y="52.4" width="1" height="1" fill="#5277be"/><rect x="488.4" y="52.3" width="1" height="1" fill="#5277be"/><rect x="443.4" y="33.2" width="1" height="1" fill="#5277be"/><rect x="464.2" y="39.3" width="1" height="1" fill="#5277be"/><rect x="443.8" y="53.6" width="1" height="1" fill="#5277be"/><rect x="486.2" y="51.3" width="1" height="1" fill="#5277be"/><rect x="488.6" y="54.9" width="1" height="1" fill="#5277be"/><rect x="437.7" y="56.5" width="1" height="1" fill="#5277be"/><rect x="444.9" y="55.4" width="1" height="1" fill="#5277be"/><rect x="443.3" y="53.3" width="1" height="1" fill="#5277be"/><rect x="453.2" y="53.9" width="1" height="1" fill="#5277be"/><rect x="445.8" y="53.9" width="1" height="1" fill="#5277be"/><rect x="447.7" y="84.2" width="1" height="1" fill="#5277be"/><rect x="444.4" y="57.3" width="1" height="1" fill="#5277be"/><rect x="435.8" y="68.9" width="1" height="1" fill="#5277be"/><rect x="434.9" y="68.7" width="1" height="1" fill="#5277be"/><rect x="435.8" y="69.5" width="1" height="1" fill="#5277be"/><rect x="458.8" y="34.2" width="1" height="1" fill="#5277be"/><rect x="459.0" y="34.5" width="1" height="1" fill="#5277be"/><rect x="459.6" y="20.4" width="1" height="1" fill="#5277be"/><rect x="459.4" y="21.4" width="1" height="1" fill="#5277be"/><rect x="443.7" y="30.5" width="1" height="1" fill="#5277be"/><rect x="440.0" y="83.2" width="1" height="1" fill="#5277be"/><rect x="428.3" y="76.2" width="1" height="1" fill="#5277be"/><rect x="476.1" y="68.8" width="1" height="1" fill="#5277be"/><rect x="483.1" y="51.5" width="1" height="1" fill="#5277be"/><rect x="447.7" y="57.0" width="1" height="1" fill="#5277be"/><rect x="454.7" y="54.2" width="1" height="1" fill="#5277be"/><rect x="447.0" y="57.2" width="1" height="1" fill="#5277be"/><rect x="450.1" y="25.9" width="1" height="1" fill="#5277be"/><rect x="464.0" y="46.9" width="1" height="1" fill="#5177be"/><rect x="464.6" y="46.7" width="1" height="1" fill="#5177be"/><rect x="456.0" y="20.7" width="1" height="1" fill="#5177be"/><rect x="456.8" y="21.6" width="1" height="1" fill="#5177be"/><rect x="470.3" y="47.2" width="1" height="1" fill="#5177be"/><rect x="481.5" y="51.2" width="1" height="1" fill="#5177be"/><rect x="448.7" y="56.2" width="1" height="1" fill="#5177be"/><rect x="440.7" y="53.6" width="1" height="1" fill="#5177be"/><rect x="466.3" y="41.1" width="1" height="1" fill="#5177be"/><rect x="466.1" y="42.3" width="1" height="1" fill="#5177be"/><rect x="482.0" y="64.2" width="1" height="1" fill="#5177be"/><rect x="439.1" y="41.2" width="1" height="1" fill="#5177be"/><rect x="488.4" y="53.2" width="1" height="1" fill="#5177be"/><rect x="464.2" y="40.2" width="1" height="1" fill="#5177be"/><rect x="461.0" y="77.9" width="1" height="1" fill="#5177be"/><rect x="460.2" y="78.5" width="1" height="1" fill="#5177be"/><rect x="460.8" y="78.2" width="1" height="1" fill="#5177be"/><rect x="486.7" y="56.3" width="1" height="1" fill="#5177be"/><rect x="444.2" y="52.2" width="1" height="1" fill="#5177be"/><rect x="448.6" y="51.7" width="1" height="1" fill="#5177be"/><rect x="449.3" y="54.2" width="1" height="1" fill="#5177be"/><rect x="449.1" y="53.1" width="1" height="1" fill="#5177be"/><rect x="436.9" y="55.4" width="1" height="1" fill="#5177be"/><rect x="479.7" y="65.4" width="1" height="1" fill="#5177be"/><rect x="446.1" y="63.2" width="1" height="1" fill="#5177be"/><rect x="446.3" y="63.2" width="1" height="1" fill="#5177be"/><rect x="482.1" y="65.6" width="1" height="1" fill="#5177be"/><rect x="445.2" y="54.9" width="1" height="1" fill="#5177be"/><rect x="482.1" y="65.2" width="1" height="1" fill="#5177be"/><rect x="445.7" y="51.0" width="1" height="1" fill="#5177be"/><rect x="445.7" y="51.3" width="1" height="1" fill="#5177be"/><rect x="481.9" y="65.7" width="1" height="1" fill="#5177be"/><rect x="445.6" y="55.7" width="1" height="1" fill="#5177be"/><rect x="428.9" y="74.9" width="1" height="1" fill="#5177be"/><rect x="428.7" y="74.3" width="1" height="1" fill="#5177be"/><rect x="429.2" y="74.7" width="1" height="1" fill="#5177be"/><rect x="485.5" y="51.3" width="1" height="1" fill="#5177be"/><rect x="477.5" y="67.1" width="1" height="1" fill="#5177be"/><rect x="484.1" y="50.9" width="1" height="1" fill="#5177be"/><rect x="484.9" y="51.0" width="1" height="1" fill="#5177be"/><rect x="485.0" y="51.3" width="1" height="1" fill="#5177be"/><rect x="447.4" y="55.0" width="1" height="1" fill="#5177be"/><rect x="447.1" y="54.8" width="1" height="1" fill="#5177be"/><rect x="485.4" y="59.4" width="1" height="1" fill="#5177be"/><rect x="463.9" y="41.3" width="1" height="1" fill="#5177bf"/><rect x="451.5" y="53.8" width="1" height="1" fill="#5177bf"/><rect x="452.2" y="54.0" width="1" height="1" fill="#5177bf"/><rect x="465.8" y="43.3" width="1" height="1" fill="#5177bf"/><rect x="465.1" y="43.2" width="1" height="1" fill="#5177bf"/><rect x="452.1" y="54.0" width="1" height="1" fill="#5177bf"/><rect x="465.0" y="42.7" width="1" height="1" fill="#5177bf"/><rect x="484.0" y="60.9" width="1" height="1" fill="#5177bf"/><rect x="481.5" y="62.3" width="1" height="1" fill="#5177bf"/><rect x="482.4" y="62.9" width="1" height="1" fill="#5177bf"/><rect x="449.0" y="50.8" width="1" height="1" fill="#5177bf"/><rect x="438.2" y="49.1" width="1" height="1" fill="#5177bf"/><rect x="448.2" y="51.0" width="1" height="1" fill="#5177bf"/><rect x="453.9" y="23.9" width="1" height="1" fill="#5177bf"/><rect x="441.0" y="38.0" width="1" height="1" fill="#5177bf"/><rect x="453.7" y="23.2" width="1" height="1" fill="#5177bf"/><rect x="478.7" y="65.1" width="1" height="1" fill="#5177bf"/><rect x="437.5" y="52.9" width="1" height="1" fill="#5177bf"/><rect x="437.2" y="52.0" width="1" height="1" fill="#5177bf"/><rect x="467.5" y="43.9" width="1" height="1" fill="#5177bf"/><rect x="466.5" y="43.9" width="1" height="1" fill="#5177bf"/><rect x="449.2" y="82.7" width="1" height="1" fill="#5177bf"/><rect x="438.4" y="50.8" width="1" height="1" fill="#5177bf"/><rect x="469.1" y="49.1" width="1" height="1" fill="#5177bf"/><rect x="469.8" y="49.6" width="1" height="1" fill="#5177bf"/><rect x="461.5" y="37.4" width="1" height="1" fill="#5177bf"/><rect x="427.2" y="77.2" width="1" height="1" fill="#5177bf"/><rect x="428.5" y="77.8" width="1" height="1" fill="#5177bf"/><rect x="459.9" y="22.4" width="1" height="1" fill="#5177bf"/><rect x="466.5" y="44.4" width="1" height="1" fill="#5177bf"/><rect x="467.5" y="45.5" width="1" height="1" fill="#5177bf"/><rect x="448.1" y="27.3" width="1" height="1" fill="#5177bf"/><rect x="449.1" y="26.8" width="1" height="1" fill="#5177bf"/><rect x="472.4" y="49.0" width="1" height="1" fill="#5177bf"/><rect x="472.8" y="49.3" width="1" height="1" fill="#5177bf"/><rect x="448.3" y="26.8" width="1" height="1" fill="#5177bf"/><rect x="448.9" y="26.3" width="1" height="1" fill="#5177bf"/><rect x="449.0" y="61.0" width="1" height="1" fill="#5177bf"/><rect x="433.2" y="82.6" width="1" height="1" fill="#5177bf"/><rect x="458.8" y="24.2" width="1" height="1" fill="#5177bf"/><rect x="459.8" y="23.4" width="1" height="1" fill="#5177bf"/><rect x="468.2" y="46.9" width="1" height="1" fill="#5177bf"/><rect x="459.0" y="24.3" width="1" height="1" fill="#5177bf"/><rect x="459.9" y="24.6" width="1" height="1" fill="#5177bf"/><rect x="485.6" y="55.1" width="1" height="1" fill="#5177bf"/><rect x="442.7" y="64.1" width="1" height="1" fill="#5177bf"/><rect x="457.2" y="78.8" width="1" height="1" fill="#5177bf"/><rect x="443.1" y="36.1" width="1" height="1" fill="#5177bf"/><rect x="451.0" y="55.8" width="1" height="1" fill="#5177bf"/><rect x="450.6" y="55.4" width="1" height="1" fill="#5177bf"/><rect x="462.6" y="39.0" width="1" height="1" fill="#5177bf"/><rect x="455.6" y="55.6" width="1" height="1" fill="#5177bf"/><rect x="452.6" y="51.8" width="1" height="1" fill="#5177bf"/><rect x="461.7" y="39.6" width="1" height="1" fill="#5177bf"/><rect x="437.0" y="69.0" width="1" height="1" fill="#5177bf"/><rect x="464.7" y="46.5" width="1" height="1" fill="#5177bf"/><rect x="430.9" y="83.0" width="1" height="1" fill="#5177bf"/><rect x="456.0" y="21.7" width="1" height="1" fill="#5177bf"/><rect x="430.9" y="81.7" width="1" height="1" fill="#5177bf"/><rect x="452.9" y="50.7" width="1" height="1" fill="#5177bf"/><rect x="453.1" y="51.6" width="1" height="1" fill="#5177bf"/><rect x="459.9" y="77.8" width="1" height="1" fill="#5177bf"/><rect x="485.4" y="53.3" width="1" height="1" fill="#5177bf"/><rect x="484.8" y="53.4" width="1" height="1" fill="#5177bf"/><rect x="458.0" y="21.4" width="1" height="1" fill="#5177bf"/><rect x="427.8" y="80.6" width="1" height="1" fill="#5177bf"/><rect x="428.6" y="80.6" width="1" height="1" fill="#5177bf"/><rect x="450.5" y="51.9" width="1" height="1" fill="#5177bf"/><rect x="458.6" y="20.6" width="1" height="1" fill="#5177bf"/><rect x="450.3" y="51.9" width="1" height="1" fill="#5177bf"/><rect x="438.2" y="46.0" width="1" height="1" fill="#5177bf"/><rect x="431.1" y="75.2" width="1" height="1" fill="#5178bf"/><rect x="430.1" y="75.0" width="1" height="1" fill="#5178bf"/><rect x="454.0" y="46.3" width="1" height="1" fill="#5178bf"/><rect x="453.5" y="46.3" width="1" height="1" fill="#5178bf"/><rect x="453.2" y="46.0" width="1" height="1" fill="#5178bf"/><rect x="484.4" y="52.5" width="1" height="1" fill="#5178bf"/><rect x="455.0" y="80.8" width="1" height="1" fill="#5178bf"/><rect x="455.6" y="80.7" width="1" height="1" fill="#5178bf"/><rect x="454.7" y="80.3" width="1" height="1" fill="#5178bf"/><rect x="427.6" y="78.8" width="1" height="1" fill="#5178bf"/><rect x="429.3" y="76.3" width="1" height="1" fill="#5178bf"/><rect x="487.0" y="54.1" width="1" height="1" fill="#5178bf"/><rect x="486.9" y="54.2" width="1" height="1" fill="#5178bf"/><rect x="486.5" y="53.8" width="1" height="1" fill="#5178bf"/><rect x="452.3" y="50.3" width="1" height="1" fill="#5178bf"/><rect x="452.6" y="50.9" width="1" height="1" fill="#5178bf"/><rect x="430.1" y="81.9" width="1" height="1" fill="#5178bf"/><rect x="428.6" y="82.1" width="1" height="1" fill="#5178bf"/><rect x="447.5" y="81.8" width="1" height="1" fill="#5178bf"/><rect x="443.5" y="51.7" width="1" height="1" fill="#5178bf"/><rect x="450.4" y="57.6" width="1" height="1" fill="#5178bf"/><rect x="438.6" y="47.2" width="1" height="1" fill="#5178bf"/><rect x="480.7" y="50.6" width="1" height="1" fill="#5178bf"/><rect x="439.0" y="47.4" width="1" height="1" fill="#5178bf"/><rect x="481.0" y="51.4" width="1" height="1" fill="#5178bf"/><rect x="449.6" y="58.1" width="1" height="1" fill="#5178bf"/><rect x="450.7" y="58.8" width="1" height="1" fill="#5178bf"/><rect x="457.2" y="33.7" width="1" height="1" fill="#5178bf"/><rect x="439.2" y="54.5" width="1" height="1" fill="#5178bf"/><rect x="439.2" y="53.9" width="1" height="1" fill="#5178bf"/><rect x="484.6" y="56.7" width="1" height="1" fill="#5178bf"/><rect x="438.6" y="54.6" width="1" height="1" fill="#5178bf"/><rect x="438.9" y="54.8" width="1" height="1" fill="#5178bf"/><rect x="484.7" y="56.3" width="1" height="1" fill="#5178bf"/><rect x="484.4" y="57.2" width="1" height="1" fill="#5178bf"/><rect x="438.6" y="55.5" width="1" height="1" fill="#5178bf"/><rect x="451.5" y="47.7" width="1" height="1" fill="#5178bf"/><rect x="451.8" y="49.1" width="1" height="1" fill="#5178bf"/><rect x="446.5" y="30.2" width="1" height="1" fill="#5178bf"/><rect x="445.7" y="29.7" width="1" height="1" fill="#5178bf"/><rect x="451.5" y="49.5" width="1" height="1" fill="#5178bf"/><rect x="451.5" y="46.6" width="1" height="1" fill="#5178bf"/><rect x="450.6" y="59.9" width="1" height="1" fill="#5178bf"/><rect x="455.0" y="46.5" width="1" height="1" fill="#5178bf"/><rect x="431.3" y="75.8" width="1" height="1" fill="#5178bf"/><rect x="483.8" y="53.4" width="1" height="1" fill="#5178bf"/><rect x="454.8" y="45.8" width="1" height="1" fill="#5178bf"/><rect x="466.0" y="75.1" width="1" height="1" fill="#5178bf"/><rect x="453.2" y="45.0" width="1" height="1" fill="#5178bf"/><rect x="445.1" y="31.6" width="1" height="1" fill="#5178bf"/><rect x="451.7" y="81.3" width="1" height="1" fill="#5178bf"/><rect x="451.7" y="80.3" width="1" height="1" fill="#5178bf"/><rect x="443.8" y="30.8" width="1" height="1" fill="#5178bf"/><rect x="443.9" y="31.6" width="1" height="1" fill="#5178bf"/><rect x="437.2" y="53.7" width="1" height="1" fill="#5178bf"/><rect x="437.4" y="84.0" width="1" height="1" fill="#5178bf"/><rect x="484.9" y="58.3" width="1" height="1" fill="#5178bf"/><rect x="453.5" y="48.7" width="1" height="1" fill="#5178bf"/><rect x="441.1" y="52.7" width="1" height="1" fill="#5178bf"/><rect x="436.8" y="54.4" width="1" height="1" fill="#5178bf"/><rect x="436.8" y="53.2" width="1" height="1" fill="#5178bf"/><rect x="442.0" y="52.2" width="1" height="1" fill="#5178bf"/><rect x="485.3" y="58.3" width="1" height="1" fill="#5178bf"/><rect x="436.4" y="53.7" width="1" height="1" fill="#5178bf"/><rect x="436.7" y="83.1" width="1" height="1" fill="#5178bf"/><rect x="481.0" y="62.9" width="1" height="1" fill="#5178bf"/><rect x="450.6" y="48.6" width="1" height="1" fill="#5178bf"/><rect x="451.9" y="25.7" width="1" height="1" fill="#5178bf"/><rect x="449.1" y="49.0" width="1" height="1" fill="#5178bf"/><rect x="449.5" y="49.8" width="1" height="1" fill="#5178bf"/><rect x="445.6" y="81.8" width="1" height="1" fill="#5178bf"/><rect x="446.2" y="82.9" width="1" height="1" fill="#5178bf"/><rect x="478.0" y="51.3" width="1" height="1" fill="#5178bf"/><rect x="440.3" y="43.7" width="1" height="1" fill="#5178bf"/><rect x="469.4" y="73.1" width="1" height="1" fill="#5178bf"/><rect x="469.9" y="73.1" width="1" height="1" fill="#5178bf"/><rect x="444.0" y="32.5" width="1" height="1" fill="#5178c0"/><rect x="471.8" y="51.6" width="1" height="1" fill="#5178c0"/><rect x="471.2" y="50.5" width="1" height="1" fill="#5178c0"/><rect x="444.6" y="34.9" width="1" height="1" fill="#5178c0"/><rect x="443.8" y="34.1" width="1" height="1" fill="#5178c0"/><rect x="448.5" y="28.5" width="1" height="1" fill="#5178c0"/><rect x="444.6" y="35.1" width="1" height="1" fill="#5178c0"/><rect x="448.9" y="28.2" width="1" height="1" fill="#5178c0"/><rect x="440.5" y="51.5" width="1" height="1" fill="#5178c0"/><rect x="440.4" y="51.4" width="1" height="1" fill="#5178c0"/><rect x="472.9" y="70.8" width="1" height="1" fill="#5178c0"/><rect x="463.1" y="49.8" width="1" height="1" fill="#5178c0"/><rect x="439.4" y="51.9" width="1" height="1" fill="#5178c0"/><rect x="442.0" y="38.6" width="1" height="1" fill="#5178c0"/><rect x="455.9" y="32.5" width="1" height="1" fill="#5178c0"/><rect x="455.8" y="33.4" width="1" height="1" fill="#5178c0"/><rect x="432.0" y="72.1" width="1" height="1" fill="#5178c0"/><rect x="441.4" y="38.2" width="1" height="1" fill="#5178c0"/><rect x="432.6" y="71.6" width="1" height="1" fill="#5178c0"/><rect x="461.7" y="43.4" width="1" height="1" fill="#5178c0"/><rect x="465.0" y="47.7" width="1" height="1" fill="#5178c0"/><rect x="466.3" y="46.4" width="1" height="1" fill="#5178c0"/><rect x="462.7" y="44.0" width="1" height="1" fill="#5178c0"/><rect x="457.2" y="22.7" width="1" height="1" fill="#5178c0"/><rect x="458.5" y="21.9" width="1" height="1" fill="#5178c0"/><rect x="467.8" y="48.6" width="1" height="1" fill="#5178c0"/><rect x="431.8" y="74.3" width="1" height="1" fill="#5178c0"/><rect x="431.9" y="75.1" width="1" height="1" fill="#5178c0"/><rect x="429.3" y="77.4" width="1" height="1" fill="#5178c0"/><rect x="478.7" y="50.8" width="1" height="1" fill="#5178c0"/><rect x="444.2" y="82.0" width="1" height="1" fill="#5178c0"/><rect x="479.1" y="51.3" width="1" height="1" fill="#5178c0"/><rect x="444.4" y="82.4" width="1" height="1" fill="#5178c0"/><rect x="429.3" y="77.5" width="1" height="1" fill="#5178c0"/><rect x="439.0" y="51.8" width="1" height="1" fill="#5178c0"/><rect x="437.7" y="52.9" width="1" height="1" fill="#5178c0"/><rect x="464.8" y="49.6" width="1" height="1" fill="#5178c0"/><rect x="447.8" y="30.0" width="1" height="1" fill="#5178c0"/><rect x="478.2" y="63.7" width="1" height="1" fill="#5178c0"/><rect x="450.0" y="48.2" width="1" height="1" fill="#5178c0"/><rect x="462.4" y="75.7" width="1" height="1" fill="#5178c0"/><rect x="449.6" y="47.4" width="1" height="1" fill="#5178c0"/><rect x="462.3" y="76.6" width="1" height="1" fill="#5178c0"/><rect x="462.7" y="77.0" width="1" height="1" fill="#5178c0"/><rect x="468.4" y="48.6" width="1" height="1" fill="#5178c0"/><rect x="468.1" y="47.2" width="1" height="1" fill="#5178c0"/><rect x="459.4" y="37.7" width="1" height="1" fill="#5178c0"/><rect x="459.0" y="37.8" width="1" height="1" fill="#5178c0"/><rect x="459.5" y="36.7" width="1" height="1" fill="#5178c0"/><rect x="456.4" y="53.2" width="1" height="1" fill="#5178c0"/><rect x="456.3" y="53.5" width="1" height="1" fill="#5178c0"/><rect x="482.8" y="56.3" width="1" height="1" fill="#5178c0"/><rect x="474.7" y="50.9" width="1" height="1" fill="#5178c0"/><rect x="456.9" y="23.1" width="1" height="1" fill="#5078c0"/><rect x="456.7" y="23.5" width="1" height="1" fill="#5078c0"/><rect x="458.5" y="27.0" width="1" height="1" fill="#5078c0"/><rect x="457.9" y="27.4" width="1" height="1" fill="#5078c0"/><rect x="450.8" y="26.1" width="1" height="1" fill="#5078c0"/><rect x="462.1" y="42.3" width="1" height="1" fill="#5078c0"/><rect x="462.7" y="41.8" width="1" height="1" fill="#5078c0"/><rect x="443.4" y="82.5" width="1" height="1" fill="#5078c0"/><rect x="442.6" y="81.8" width="1" height="1" fill="#5078c0"/><rect x="477.9" y="66.1" width="1" height="1" fill="#5078c0"/><rect x="441.0" y="40.0" width="1" height="1" fill="#5078c0"/><rect x="473.2" y="50.7" width="1" height="1" fill="#5078c0"/><rect x="472.3" y="51.5" width="1" height="1" fill="#5078c0"/><rect x="473.3" y="51.5" width="1" height="1" fill="#5078c0"/><rect x="433.1" y="73.7" width="1" height="1" fill="#5078c0"/><rect x="444.9" y="35.2" width="1" height="1" fill="#5078c0"/><rect x="451.5" y="56.5" width="1" height="1" fill="#5078c0"/><rect x="452.2" y="57.0" width="1" height="1" fill="#5078c0"/><rect x="452.5" y="56.1" width="1" height="1" fill="#5078c0"/><rect x="455.9" y="31.9" width="1" height="1" fill="#5078c0"/><rect x="456.0" y="32.0" width="1" height="1" fill="#5078c0"/><rect x="449.7" y="80.3" width="1" height="1" fill="#5078c0"/><rect x="482.0" y="61.4" width="1" height="1" fill="#5078c0"/><rect x="432.3" y="80.5" width="1" height="1" fill="#5078c0"/><rect x="482.3" y="61.1" width="1" height="1" fill="#5078c0"/><rect x="481.7" y="61.0" width="1" height="1" fill="#5078c0"/><rect x="458.0" y="78.1" width="1" height="1" fill="#5078c0"/><rect x="457.6" y="77.5" width="1" height="1" fill="#5078c0"/><rect x="444.2" y="63.9" width="1" height="1" fill="#5078c0"/><rect x="471.8" y="51.7" width="1" height="1" fill="#5078c0"/><rect x="473.9" y="69.6" width="1" height="1" fill="#5078c0"/><rect x="472.1" y="52.8" width="1" height="1" fill="#5078c0"/><rect x="438.6" y="53.5" width="1" height="1" fill="#5078c0"/><rect x="432.3" y="78.1" width="1" height="1" fill="#5078c0"/><rect x="432.7" y="78.2" width="1" height="1" fill="#5078c0"/><rect x="432.5" y="77.3" width="1" height="1" fill="#5078c0"/><rect x="460.1" y="38.3" width="1" height="1" fill="#5078c0"/><rect x="460.6" y="38.7" width="1" height="1" fill="#5078c0"/><rect x="464.3" y="50.7" width="1" height="1" fill="#5078c0"/><rect x="433.1" y="75.9" width="1" height="1" fill="#5078c0"/><rect x="455.7" y="33.8" width="1" height="1" fill="#5078c0"/><rect x="455.7" y="34.6" width="1" height="1" fill="#5078c0"/><rect x="483.0" y="60.5" width="1" height="1" fill="#5078c0"/><rect x="454.6" y="47.7" width="1" height="1" fill="#5078c0"/><rect x="470.7" y="71.4" width="1" height="1" fill="#5078c0"/><rect x="471.6" y="72.3" width="1" height="1" fill="#5078c0"/><rect x="470.6" y="71.8" width="1" height="1" fill="#5078c0"/><rect x="470.7" y="71.2" width="1" height="1" fill="#5078c0"/><rect x="455.8" y="55.9" width="1" height="1" fill="#5078c0"/><rect x="455.9" y="55.6" width="1" height="1" fill="#5078c0"/><rect x="466.6" y="49.3" width="1" height="1" fill="#5079c0"/><rect x="457.0" y="78.9" width="1" height="1" fill="#5079c0"/><rect x="455.6" y="79.2" width="1" height="1" fill="#5079c0"/><rect x="455.8" y="79.2" width="1" height="1" fill="#5079c0"/><rect x="456.5" y="78.9" width="1" height="1" fill="#5079c0"/><rect x="465.3" y="51.6" width="1" height="1" fill="#5079c0"/><rect x="462.6" y="48.3" width="1" height="1" fill="#5079c0"/><rect x="462.0" y="47.6" width="1" height="1" fill="#5079c0"/><rect x="457.4" y="25.0" width="1" height="1" fill="#5079c0"/><rect x="457.3" y="35.5" width="1" height="1" fill="#5079c0"/><rect x="455.2" y="56.8" width="1" height="1" fill="#5079c0"/><rect x="455.0" y="56.5" width="1" height="1" fill="#5079c0"/><rect x="437.2" y="70.6" width="1" height="1" fill="#5079c0"/><rect x="469.7" y="52.8" width="1" height="1" fill="#5079c0"/><rect x="440.3" y="48.9" width="1" height="1" fill="#5079c0"/><rect x="445.3" y="50.0" width="1" height="1" fill="#5079c0"/><rect x="455.7" y="46.9" width="1" height="1" fill="#5079c0"/><rect x="442.3" y="50.6" width="1" height="1" fill="#5079c0"/><rect x="442.5" y="51.3" width="1" height="1" fill="#5079c0"/><rect x="441.3" y="41.4" width="1" height="1" fill="#5079c0"/><rect x="441.9" y="41.2" width="1" height="1" fill="#5079c0"/><rect x="442.8" y="51.5" width="1" height="1" fill="#5079c0"/><rect x="442.5" y="51.6" width="1" height="1" fill="#5079c0"/><rect x="467.0" y="50.9" width="1" height="1" fill="#5079c0"/><rect x="466.8" y="50.5" width="1" height="1" fill="#5079c0"/><rect x="467.2" y="51.0" width="1" height="1" fill="#5079c0"/><rect x="466.9" y="47.6" width="1" height="1" fill="#5079c1"/><rect x="438.0" y="68.8" width="1" height="1" fill="#5079c1"/><rect x="466.2" y="48.1" width="1" height="1" fill="#5079c1"/><rect x="467.0" y="47.9" width="1" height="1" fill="#5079c1"/><rect x="467.4" y="47.2" width="1" height="1" fill="#5079c1"/><rect x="466.4" y="48.3" width="1" height="1" fill="#5079c1"/><rect x="446.0" y="32.1" width="1" height="1" fill="#5079c1"/><rect x="429.2" y="79.6" width="1" height="1" fill="#5079c1"/><rect x="446.3" y="30.7" width="1" height="1" fill="#5079c1"/><rect x="446.5" y="33.2" width="1" height="1" fill="#5079c1"/><rect x="433.3" y="74.2" width="1" height="1" fill="#5079c1"/><rect x="433.4" y="74.4" width="1" height="1" fill="#5079c1"/><rect x="450.5" y="46.2" width="1" height="1" fill="#5079c1"/><rect x="429.0" y="80.6" width="1" height="1" fill="#5079c1"/><rect x="450.1" y="46.5" width="1" height="1" fill="#5079c1"/><rect x="429.6" y="80.7" width="1" height="1" fill="#5079c1"/><rect x="428.9" y="80.9" width="1" height="1" fill="#5079c1"/><rect x="433.2" y="80.1" width="1" height="1" fill="#5079c1"/><rect x="433.3" y="80.6" width="1" height="1" fill="#5079c1"/><rect x="475.6" y="67.0" width="1" height="1" fill="#5079c1"/><rect x="475.4" y="67.2" width="1" height="1" fill="#5079c1"/><rect x="461.9" y="48.8" width="1" height="1" fill="#5079c1"/><rect x="462.8" y="49.9" width="1" height="1" fill="#5079c1"/><rect x="461.8" y="50.0" width="1" height="1" fill="#5079c1"/><rect x="462.1" y="49.5" width="1" height="1" fill="#5079c1"/><rect x="453.7" y="24.8" width="1" height="1" fill="#5079c1"/><rect x="454.0" y="26.0" width="1" height="1" fill="#5079c1"/><rect x="453.7" y="26.0" width="1" height="1" fill="#5079c1"/><rect x="453.2" y="25.2" width="1" height="1" fill="#5079c1"/><rect x="452.9" y="24.6" width="1" height="1" fill="#5079c1"/><rect x="435.5" y="83.0" width="1" height="1" fill="#5079c1"/><rect x="484.0" y="58.9" width="1" height="1" fill="#5079c1"/><rect x="435.1" y="82.5" width="1" height="1" fill="#5079c1"/><rect x="482.9" y="58.0" width="1" height="1" fill="#5079c1"/><rect x="448.2" y="47.6" width="1" height="1" fill="#5079c1"/><rect x="442.1" y="65.5" width="1" height="1" fill="#5079c1"/><rect x="442.0" y="65.4" width="1" height="1" fill="#5079c1"/><rect x="441.8" y="66.2" width="1" height="1" fill="#5079c1"/><rect x="453.2" y="78.8" width="1" height="1" fill="#5079c1"/><rect x="445.9" y="33.8" width="1" height="1" fill="#5079c1"/><rect x="431.4" y="80.2" width="1" height="1" fill="#5079c1"/><rect x="430.2" y="81.2" width="1" height="1" fill="#5079c1"/><rect x="448.4" y="80.5" width="1" height="1" fill="#5079c1"/><rect x="448.4" y="81.3" width="1" height="1" fill="#5079c1"/><rect x="454.8" y="49.0" width="1" height="1" fill="#5079c1"/><rect x="433.8" y="78.2" width="1" height="1" fill="#5079c1"/><rect x="455.6" y="78.9" width="1" height="1" fill="#5079c1"/><rect x="454.5" y="78.6" width="1" height="1" fill="#5079c1"/><rect x="455.4" y="78.7" width="1" height="1" fill="#5079c1"/><rect x="454.6" y="49.0" width="1" height="1" fill="#5079c1"/><rect x="457.6" y="37.3" width="1" height="1" fill="#5079c1"/><rect x="457.7" y="37.0" width="1" height="1" fill="#5079c1"/><rect x="459.6" y="38.8" width="1" height="1" fill="#5079c1"/><rect x="432.9" y="79.6" width="1" height="1" fill="#5079c1"/><rect x="432.5" y="79.4" width="1" height="1" fill="#5079c1"/><rect x="432.4" y="80.0" width="1" height="1" fill="#5079c1"/><rect x="457.3" y="39.2" width="1" height="1" fill="#5079c1"/><rect x="457.1" y="44.1" width="1" height="1" fill="#5079c1"/><rect x="440.0" y="44.7" width="1" height="1" fill="#5079c1"/><rect x="440.4" y="45.1" width="1" height="1" fill="#5079c1"/><rect x="450.1" y="62.0" width="1" height="1" fill="#5079c1"/><rect x="440.4" y="44.6" width="1" height="1" fill="#5079c1"/><rect x="440.3" y="44.4" width="1" height="1" fill="#5079c1"/><rect x="431.5" y="79.8" width="1" height="1" fill="#5079c1"/><rect x="441.2" y="82.6" width="1" height="1" fill="#5079c1"/><rect x="458.7" y="76.5" width="1" height="1" fill="#5079c1"/><rect x="430.6" y="78.9" width="1" height="1" fill="#5079c1"/><rect x="430.7" y="79.3" width="1" height="1" fill="#5079c1"/><rect x="444.1" y="37.8" width="1" height="1" fill="#5079c1"/><rect x="444.1" y="37.0" width="1" height="1" fill="#5079c1"/><rect x="444.9" y="37.9" width="1" height="1" fill="#5079c1"/><rect x="473.1" y="52.0" width="1" height="1" fill="#5079c1"/><rect x="451.7" y="26.8" width="1" height="1" fill="#5079c1"/><rect x="444.5" y="50.1" width="1" height="1" fill="#5079c1"/><rect x="443.7" y="48.8" width="1" height="1" fill="#5079c1"/><rect x="441.3" y="49.0" width="1" height="1" fill="#5079c1"/><rect x="454.3" y="34.3" width="1" height="1" fill="#5079c1"/><rect x="482.4" y="55.4" width="1" height="1" fill="#5079c1"/><rect x="440.0" y="68.1" width="1" height="1" fill="#5079c1"/><rect x="440.3" y="66.6" width="1" height="1" fill="#5079c1"/><rect x="451.1" y="28.2" width="1" height="1" fill="#5079c1"/><rect x="482.5" y="55.8" width="1" height="1" fill="#5079c1"/><rect x="439.6" y="66.8" width="1" height="1" fill="#5079c1"/><rect x="472.0" y="53.3" width="1" height="1" fill="#5079c1"/><rect x="443.1" y="39.5" width="1" height="1" fill="#5079c1"/><rect x="456.3" y="39.6" width="1" height="1" fill="#5079c1"/><rect x="442.7" y="39.1" width="1" height="1" fill="#5079c1"/><rect x="443.1" y="38.9" width="1" height="1" fill="#5079c1"/><rect x="466.2" y="73.7" width="1" height="1" fill="#5079c1"/><rect x="466.6" y="73.2" width="1" height="1" fill="#5079c1"/><rect x="433.2" y="71.7" width="1" height="1" fill="#5079c1"/><rect x="451.2" y="58.9" width="1" height="1" fill="#5079c1"/><rect x="434.3" y="71.6" width="1" height="1" fill="#5079c1"/><rect x="433.8" y="72.5" width="1" height="1" fill="#5079c1"/><rect x="451.3" y="58.6" width="1" height="1" fill="#5079c1"/><rect x="434.6" y="72.1" width="1" height="1" fill="#5079c1"/><rect x="433.7" y="71.5" width="1" height="1" fill="#5079c1"/><rect x="461.4" y="51.4" width="1" height="1" fill="#5079c1"/><rect x="460.4" y="40.3" width="1" height="1" fill="#5079c1"/><rect x="482.1" y="54.5" width="1" height="1" fill="#5079c1"/><rect x="481.5" y="54.3" width="1" height="1" fill="#5079c1"/><rect x="461.3" y="51.6" width="1" height="1" fill="#5079c1"/><rect x="460.6" y="40.7" width="1" height="1" fill="#5079c1"/><rect x="481.2" y="54.3" width="1" height="1" fill="#5079c1"/><rect x="481.2" y="53.5" width="1" height="1" fill="#5079c1"/><rect x="447.8" y="31.5" width="1" height="1" fill="#5079c1"/><rect x="448.0" y="31.6" width="1" height="1" fill="#5079c1"/><rect x="446.8" y="31.6" width="1" height="1" fill="#5079c1"/><rect x="482.4" y="59.1" width="1" height="1" fill="#5079c1"/><rect x="457.5" y="54.4" width="1" height="1" fill="#5079c1"/><rect x="441.8" y="43.6" width="1" height="1" fill="#5079c1"/><rect x="481.5" y="58.0" width="1" height="1" fill="#5079c1"/><rect x="482.3" y="58.4" width="1" height="1" fill="#5079c1"/><rect x="482.4" y="58.6" width="1" height="1" fill="#5079c1"/><rect x="457.5" y="53.4" width="1" height="1" fill="#5079c1"/><rect x="478.9" y="62.5" width="1" height="1" fill="#5079c1"/><rect x="442.8" y="49.5" width="1" height="1" fill="#5079c1"/><rect x="442.8" y="49.8" width="1" height="1" fill="#5079c1"/><rect x="443.3" y="49.5" width="1" height="1" fill="#5079c1"/><rect x="434.2" y="73.0" width="1" height="1" fill="#5079c1"/><rect x="433.3" y="73.9" width="1" height="1" fill="#5079c1"/><rect x="451.4" y="79.0" width="1" height="1" fill="#5079c1"/><rect x="481.2" y="60.0" width="1" height="1" fill="#5079c1"/><rect x="482.1" y="59.8" width="1" height="1" fill="#5079c1"/><rect x="481.9" y="59.5" width="1" height="1" fill="#5079c1"/><rect x="456.6" y="25.1" width="1" height="1" fill="#5079c1"/><rect x="468.0" y="52.1" width="1" height="1" fill="#5079c1"/><rect x="468.9" y="52.2" width="1" height="1" fill="#5079c1"/><rect x="456.0" y="35.8" width="1" height="1" fill="#5079c1"/><rect x="455.8" y="25.0" width="1" height="1" fill="#5079c1"/><rect x="457.0" y="35.3" width="1" height="1" fill="#5079c1"/><rect x="468.4" y="52.7" width="1" height="1" fill="#5079c1"/><rect x="456.2" y="36.6" width="1" height="1" fill="#5079c1"/><rect x="455.8" y="35.5" width="1" height="1" fill="#5079c1"/><rect x="455.9" y="25.6" width="1" height="1" fill="#5079c1"/><rect x="456.3" y="25.7" width="1" height="1" fill="#5079c1"/><rect x="460.5" y="44.2" width="1" height="1" fill="#5079c2"/><rect x="460.4" y="43.5" width="1" height="1" fill="#5079c2"/><rect x="460.7" y="44.5" width="1" height="1" fill="#5079c2"/><rect x="461.0" y="44.7" width="1" height="1" fill="#5079c2"/><rect x="460.3" y="45.2" width="1" height="1" fill="#5079c2"/><rect x="446.0" y="64.9" width="1" height="1" fill="#507ac2"/><rect x="448.0" y="80.4" width="1" height="1" fill="#507ac2"/><rect x="480.9" y="57.9" width="1" height="1" fill="#507ac2"/><rect x="480.1" y="58.6" width="1" height="1" fill="#507ac2"/><rect x="462.5" y="52.8" width="1" height="1" fill="#507ac2"/><rect x="462.2" y="52.3" width="1" height="1" fill="#507ac2"/><rect x="462.3" y="52.9" width="1" height="1" fill="#507ac2"/><rect x="480.9" y="53.0" width="1" height="1" fill="#507ac2"/><rect x="480.8" y="53.0" width="1" height="1" fill="#507ac2"/><rect x="456.2" y="38.0" width="1" height="1" fill="#507ac2"/><rect x="456.3" y="38.0" width="1" height="1" fill="#507ac2"/><rect x="456.5" y="37.3" width="1" height="1" fill="#507ac2"/><rect x="480.7" y="52.3" width="1" height="1" fill="#507ac2"/><rect x="436.0" y="71.1" width="1" height="1" fill="#507ac2"/><rect x="434.8" y="71.5" width="1" height="1" fill="#507ac2"/><rect x="435.3" y="71.6" width="1" height="1" fill="#507ac2"/><rect x="435.8" y="71.7" width="1" height="1" fill="#507ac2"/><rect x="440.3" y="47.6" width="1" height="1" fill="#507ac2"/><rect x="460.7" y="41.3" width="1" height="1" fill="#507ac2"/><rect x="461.1" y="42.2" width="1" height="1" fill="#507ac2"/><rect x="457.2" y="54.8" width="1" height="1" fill="#507ac2"/><rect x="440.3" y="47.2" width="1" height="1" fill="#507ac2"/><rect x="440.3" y="47.6" width="1" height="1" fill="#507ac2"/><rect x="457.9" y="55.9" width="1" height="1" fill="#507ac2"/><rect x="461.1" y="42.5" width="1" height="1" fill="#507ac2"/><rect x="439.6" y="47.7" width="1" height="1" fill="#507ac2"/><rect x="460.2" y="41.7" width="1" height="1" fill="#507ac2"/><rect x="448.1" y="63.5" width="1" height="1" fill="#507ac2"/><rect x="448.4" y="62.7" width="1" height="1" fill="#507ac2"/><rect x="449.0" y="63.2" width="1" height="1" fill="#507ac2"/><rect x="448.6" y="63.3" width="1" height="1" fill="#507ac2"/><rect x="448.3" y="62.4" width="1" height="1" fill="#507ac2"/><rect x="481.1" y="60.3" width="1" height="1" fill="#507ac2"/><rect x="479.8" y="59.6" width="1" height="1" fill="#507ac2"/><rect x="459.3" y="53.4" width="1" height="1" fill="#507ac2"/><rect x="447.5" y="47.5" width="1" height="1" fill="#507ac2"/><rect x="447.7" y="47.7" width="1" height="1" fill="#507ac2"/><rect x="448.0" y="47.4" width="1" height="1" fill="#507ac2"/><rect x="464.4" y="74.8" width="1" height="1" fill="#4f7ac2"/><rect x="463.6" y="74.5" width="1" height="1" fill="#4f7ac2"/><rect x="456.0" y="47.6" width="1" height="1" fill="#4f7ac2"/><rect x="459.1" y="41.1" width="1" height="1" fill="#4f7ac2"/><rect x="445.2" y="35.8" width="1" height="1" fill="#4f7ac2"/><rect x="459.7" y="41.1" width="1" height="1" fill="#4f7ac2"/><rect x="458.7" y="40.6" width="1" height="1" fill="#4f7ac2"/><rect x="459.9" y="40.4" width="1" height="1" fill="#4f7ac2"/><rect x="446.0" y="36.3" width="1" height="1" fill="#4f7ac2"/><rect x="457.7" y="40.9" width="1" height="1" fill="#4f7ac2"/><rect x="456.7" y="77.9" width="1" height="1" fill="#4f7ac2"/><rect x="460.2" y="48.6" width="1" height="1" fill="#4f7ac2"/><rect x="461.1" y="47.0" width="1" height="1" fill="#4f7ac2"/><rect x="439.7" y="46.5" width="1" height="1" fill="#4f7ac2"/><rect x="439.7" y="46.5" width="1" height="1" fill="#4f7ac2"/><rect x="456.3" y="26.2" width="1" height="1" fill="#4f7ac2"/><rect x="455.9" y="26.2" width="1" height="1" fill="#4f7ac2"/><rect x="456.2" y="26.6" width="1" height="1" fill="#4f7ac2"/><rect x="456.8" y="27.6" width="1" height="1" fill="#4f7ac2"/><rect x="456.3" y="26.4" width="1" height="1" fill="#4f7ac2"/><rect x="463.2" y="52.4" width="1" height="1" fill="#4f7ac2"/><rect x="464.2" y="53.1" width="1" height="1" fill="#4f7ac2"/><rect x="469.4" y="54.3" width="1" height="1" fill="#4f7ac2"/><rect x="470.7" y="70.1" width="1" height="1" fill="#4f7ac2"/><rect x="471.8" y="70.3" width="1" height="1" fill="#4f7ac2"/><rect x="442.8" y="48.4" width="1" height="1" fill="#4f7ac2"/><rect x="454.5" y="43.1" width="1" height="1" fill="#4f7ac2"/><rect x="466.0" y="51.7" width="1" height="1" fill="#4f7ac2"/><rect x="459.6" y="52.6" width="1" height="1" fill="#4f7ac2"/><rect x="459.4" y="53.0" width="1" height="1" fill="#4f7ac2"/><rect x="465.5" y="52.5" width="1" height="1" fill="#4f7ac2"/><rect x="459.4" y="53.1" width="1" height="1" fill="#4f7ac2"/><rect x="459.1" y="52.8" width="1" height="1" fill="#4f7ac2"/><rect x="458.8" y="52.7" width="1" height="1" fill="#4f7ac2"/><rect x="476.7" y="52.3" width="1" height="1" fill="#4f7ac2"/><rect x="476.8" y="52.8" width="1" height="1" fill="#4f7ac2"/><rect x="447.9" y="32.7" width="1" height="1" fill="#4f7ac2"/><rect x="478.6" y="52.8" width="1" height="1" fill="#4f7ac2"/><rect x="478.7" y="52.5" width="1" height="1" fill="#4f7ac2"/><rect x="435.8" y="74.3" width="1" height="1" fill="#4f7ac2"/><rect x="434.7" y="74.8" width="1" height="1" fill="#4f7ac2"/><rect x="435.9" y="74.7" width="1" height="1" fill="#4f7ac2"/><rect x="474.8" y="52.1" width="1" height="1" fill="#4f7ac2"/><rect x="474.3" y="52.3" width="1" height="1" fill="#4f7ac2"/><rect x="467.5" y="52.8" width="1" height="1" fill="#4f7ac2"/><rect x="453.3" y="26.9" width="1" height="1" fill="#4f7ac2"/><rect x="451.8" y="43.4" width="1" height="1" fill="#4f7ac2"/><rect x="443.7" y="48.4" width="1" height="1" fill="#4f7ac2"/><rect x="451.2" y="44.0" width="1" height="1" fill="#4f7ac2"/><rect x="452.2" y="43.1" width="1" height="1" fill="#4f7ac2"/><rect x="451.6" y="43.1" width="1" height="1" fill="#4f7ac2"/><rect x="444.2" y="48.3" width="1" height="1" fill="#4f7ac2"/><rect x="451.6" y="59.8" width="1" height="1" fill="#4f7ac2"/><rect x="451.9" y="59.7" width="1" height="1" fill="#4f7ac2"/><rect x="455.9" y="51.1" width="1" height="1" fill="#4f7ac2"/><rect x="457.0" y="51.5" width="1" height="1" fill="#4f7ac2"/><rect x="456.3" y="50.5" width="1" height="1" fill="#4f7ac2"/><rect x="456.8" y="51.0" width="1" height="1" fill="#4f7ac2"/><rect x="472.4" y="53.4" width="1" height="1" fill="#4f7ac2"/><rect x="455.0" y="38.4" width="1" height="1" fill="#4f7ac2"/><rect x="454.5" y="39.6" width="1" height="1" fill="#4f7ac2"/><rect x="472.3" y="68.1" width="1" height="1" fill="#4f7ac2"/><rect x="473.6" y="68.4" width="1" height="1" fill="#4f7ac2"/><rect x="457.4" y="52.0" width="1" height="1" fill="#4f7ac2"/><rect x="473.3" y="68.2" width="1" height="1" fill="#4f7ac2"/><rect x="457.8" y="52.9" width="1" height="1" fill="#4f7ac2"/><rect x="472.3" y="69.1" width="1" height="1" fill="#4f7ac2"/><rect x="436.8" y="71.4" width="1" height="1" fill="#4f7ac2"/><rect x="436.2" y="71.1" width="1" height="1" fill="#4f7ac2"/><rect x="460.8" y="54.5" width="1" height="1" fill="#4f7ac2"/><rect x="436.1" y="71.8" width="1" height="1" fill="#4f7ac2"/><rect x="439.2" y="82.5" width="1" height="1" fill="#4f7ac2"/><rect x="439.4" y="82.2" width="1" height="1" fill="#4f7ac2"/><rect x="440.2" y="82.3" width="1" height="1" fill="#4f7ac2"/><rect x="436.9" y="82.2" width="1" height="1" fill="#4f7ac2"/><rect x="435.9" y="76.3" width="1" height="1" fill="#4f7ac2"/><rect x="437.5" y="82.0" width="1" height="1" fill="#4f7ac2"/><rect x="436.7" y="82.1" width="1" height="1" fill="#4f7ac2"/><rect x="461.3" y="48.5" width="1" height="1" fill="#4f7ac2"/><rect x="461.1" y="48.3" width="1" height="1" fill="#4f7ac2"/><rect x="461.2" y="47.8" width="1" height="1" fill="#4f7ac2"/><rect x="442.6" y="40.6" width="1" height="1" fill="#4f7ac2"/><rect x="441.4" y="48.0" width="1" height="1" fill="#4f7ac2"/><rect x="441.3" y="48.3" width="1" height="1" fill="#4f7ac2"/><rect x="441.5" y="47.8" width="1" height="1" fill="#4f7ac2"/><rect x="442.5" y="40.6" width="1" height="1" fill="#4f7ac2"/><rect x="446.1" y="48.4" width="1" height="1" fill="#4f7ac2"/><rect x="458.7" y="54.7" width="1" height="1" fill="#4f7ac2"/><rect x="445.9" y="47.2" width="1" height="1" fill="#4f7ac2"/><rect x="459.8" y="54.6" width="1" height="1" fill="#4f7ac2"/><rect x="446.6" y="48.3" width="1" height="1" fill="#4f7ac2"/><rect x="445.7" y="47.7" width="1" height="1" fill="#4f7ac2"/><rect x="479.2" y="57.4" width="1" height="1" fill="#4f7ac2"/><rect x="478.4" y="57.6" width="1" height="1" fill="#4f7ac2"/><rect x="478.3" y="56.9" width="1" height="1" fill="#4f7ac2"/><rect x="479.4" y="56.3" width="1" height="1" fill="#4f7ac2"/><rect x="478.6" y="56.5" width="1" height="1" fill="#4f7ac2"/><rect x="449.0" y="47.0" width="1" height="1" fill="#4f7ac2"/><rect x="477.5" y="63.7" width="1" height="1" fill="#4f7ac2"/><rect x="477.3" y="65.0" width="1" height="1" fill="#4f7ac2"/><rect x="476.9" y="63.7" width="1" height="1" fill="#4f7ac2"/><rect x="458.3" y="45.8" width="1" height="1" fill="#4f7ac2"/><rect x="444.7" y="46.4" width="1" height="1" fill="#4f7ac2"/><rect x="443.8" y="47.1" width="1" height="1" fill="#4f7ac2"/><rect x="444.7" y="46.8" width="1" height="1" fill="#4f7ac2"/><rect x="476.4" y="51.6" width="1" height="1" fill="#4f7ac2"/><rect x="476.4" y="53.0" width="1" height="1" fill="#4f7ac2"/><rect x="476.1" y="52.4" width="1" height="1" fill="#4f7ac2"/><rect x="469.1" y="72.1" width="1" height="1" fill="#4f7ac2"/><rect x="470.1" y="71.2" width="1" height="1" fill="#4f7ac2"/><rect x="455.2" y="58.4" width="1" height="1" fill="#4f7ac2"/><rect x="454.9" y="59.0" width="1" height="1" fill="#4f7ac2"/><rect x="454.1" y="58.6" width="1" height="1" fill="#4f7ac2"/><rect x="454.9" y="58.6" width="1" height="1" fill="#4f7ac2"/><rect x="444.5" y="39.5" width="1" height="1" fill="#4f7ac2"/><rect x="444.3" y="39.4" width="1" height="1" fill="#4f7ac2"/><rect x="442.9" y="46.9" width="1" height="1" fill="#4f7ac2"/><rect x="438.8" y="70.5" width="1" height="1" fill="#4f7ac2"/><rect x="453.2" y="57.8" width="1" height="1" fill="#4f7ac2"/><rect x="453.5" y="58.7" width="1" height="1" fill="#4f7ac2"/><rect x="453.7" y="59.0" width="1" height="1" fill="#4f7ac2"/><rect x="453.9" y="57.7" width="1" height="1" fill="#4f7ac2"/><rect x="459.1" y="41.5" width="1" height="1" fill="#4f7ac2"/><rect x="442.1" y="45.5" width="1" height="1" fill="#4f7ac3"/><rect x="441.9" y="45.2" width="1" height="1" fill="#4f7ac3"/><rect x="443.8" y="44.8" width="1" height="1" fill="#4f7ac3"/><rect x="457.1" y="45.2" width="1" height="1" fill="#4f7ac3"/><rect x="458.3" y="45.3" width="1" height="1" fill="#4f7ac3"/><rect x="450.4" y="29.8" width="1" height="1" fill="#4f7ac3"/><rect x="456.0" y="40.4" width="1" height="1" fill="#4f7ac3"/><rect x="458.0" y="56.6" width="1" height="1" fill="#4f7ac3"/><rect x="457.6" y="57.6" width="1" height="1" fill="#4f7ac3"/><rect x="458.2" y="57.4" width="1" height="1" fill="#4f7ac3"/><rect x="442.8" y="44.5" width="1" height="1" fill="#4f7ac3"/><rect x="460.1" y="50.2" width="1" height="1" fill="#4f7ac3"/><rect x="442.5" y="44.6" width="1" height="1" fill="#4f7ac3"/><rect x="443.5" y="44.6" width="1" height="1" fill="#4f7ac3"/><rect x="442.6" y="45.3" width="1" height="1" fill="#4f7ac3"/><rect x="454.4" y="26.5" width="1" height="1" fill="#4f7ac3"/><rect x="454.8" y="26.1" width="1" height="1" fill="#4f7ac3"/><rect x="443.2" y="43.5" width="1" height="1" fill="#4f7ac3"/><rect x="443.6" y="43.0" width="1" height="1" fill="#4f7ac3"/><rect x="442.2" y="42.7" width="1" height="1" fill="#4f7ac3"/><rect x="442.7" y="42.4" width="1" height="1" fill="#4f7ac3"/><rect x="443.2" y="41.8" width="1" height="1" fill="#4f7ac3"/><rect x="445.6" y="80.4" width="1" height="1" fill="#4f7ac3"/><rect x="445.5" y="80.2" width="1" height="1" fill="#4f7ac3"/><rect x="454.2" y="36.7" width="1" height="1" fill="#4f7ac3"/><rect x="455.0" y="37.7" width="1" height="1" fill="#4f7ac3"/><rect x="449.6" y="31.6" width="1" height="1" fill="#4f7ac3"/><rect x="449.6" y="31.4" width="1" height="1" fill="#4f7ac3"/><rect x="456.2" y="59.0" width="1" height="1" fill="#4f7ac3"/><rect x="449.2" y="30.7" width="1" height="1" fill="#4f7ac3"/><rect x="455.5" y="30.9" width="1" height="1" fill="#4f7ac3"/><rect x="459.6" y="43.8" width="1" height="1" fill="#4f7ac3"/><rect x="454.1" y="30.9" width="1" height="1" fill="#4f7ac3"/><rect x="454.7" y="31.5" width="1" height="1" fill="#4f7ac3"/><rect x="479.6" y="61.5" width="1" height="1" fill="#4f7ac3"/><rect x="479.1" y="62.1" width="1" height="1" fill="#4f7ac3"/><rect x="478.3" y="61.9" width="1" height="1" fill="#4f7ac3"/><rect x="457.3" y="75.9" width="1" height="1" fill="#4f7ac3"/><rect x="449.6" y="79.4" width="1" height="1" fill="#4f7ac3"/><rect x="451.1" y="79.2" width="1" height="1" fill="#4f7ac3"/><rect x="450.3" y="78.7" width="1" height="1" fill="#4f7ac3"/><rect x="435.7" y="80.4" width="1" height="1" fill="#4f7ac3"/><rect x="435.8" y="81.4" width="1" height="1" fill="#4f7ac3"/><rect x="448.0" y="34.8" width="1" height="1" fill="#4f7ac3"/><rect x="441.7" y="46.4" width="1" height="1" fill="#4f7ac3"/><rect x="446.2" y="37.5" width="1" height="1" fill="#4f7ac3"/><rect x="441.2" y="46.2" width="1" height="1" fill="#4f7ac3"/><rect x="441.8" y="47.1" width="1" height="1" fill="#4f7ac3"/><rect x="451.8" y="29.0" width="1" height="1" fill="#4f7ac3"/><rect x="451.7" y="27.9" width="1" height="1" fill="#4f7ac3"/><rect x="452.5" y="28.5" width="1" height="1" fill="#4f7ac3"/><rect x="456.8" y="49.1" width="1" height="1" fill="#4f7ac3"/><rect x="456.3" y="48.7" width="1" height="1" fill="#4f7ac3"/><rect x="456.8" y="49.7" width="1" height="1" fill="#4f7ac3"/><rect x="456.6" y="49.9" width="1" height="1" fill="#4f7ac3"/><rect x="456.6" y="50.1" width="1" height="1" fill="#4f7ac3"/><rect x="451.9" y="28.4" width="1" height="1" fill="#4f7ac3"/><rect x="475.8" y="66.6" width="1" height="1" fill="#4f7bc3"/><rect x="434.8" y="77.8" width="1" height="1" fill="#4f7bc3"/><rect x="478.5" y="59.7" width="1" height="1" fill="#4f7bc3"/><rect x="435.5" y="78.0" width="1" height="1" fill="#4f7bc3"/><rect x="479.5" y="60.0" width="1" height="1" fill="#4f7bc3"/><rect x="435.2" y="77.3" width="1" height="1" fill="#4f7bc3"/><rect x="443.1" y="65.7" width="1" height="1" fill="#4f7bc3"/><rect x="480.7" y="55.1" width="1" height="1" fill="#4f7bc3"/><rect x="479.8" y="55.9" width="1" height="1" fill="#4f7bc3"/><rect x="479.9" y="55.9" width="1" height="1" fill="#4f7bc3"/><rect x="480.2" y="55.8" width="1" height="1" fill="#4f7bc3"/><rect x="479.9" y="55.0" width="1" height="1" fill="#4f7bc3"/><rect x="460.0" y="45.0" width="1" height="1" fill="#4f7bc3"/><rect x="458.9" y="44.5" width="1" height="1" fill="#4f7bc3"/><rect x="460.0" y="44.3" width="1" height="1" fill="#4f7bc3"/><rect x="446.5" y="46.0" width="1" height="1" fill="#4f7bc3"/><rect x="445.8" y="46.7" width="1" height="1" fill="#4f7bc3"/><rect x="453.6" y="33.9" width="1" height="1" fill="#4f7bc3"/><rect x="452.8" y="41.4" width="1" height="1" fill="#4f7bc3"/><rect x="453.9" y="42.6" width="1" height="1" fill="#4f7bc3"/><rect x="453.9" y="42.3" width="1" height="1" fill="#4f7bc3"/><rect x="459.7" y="49.4" width="1" height="1" fill="#4f7bc3"/><rect x="460.0" y="50.0" width="1" height="1" fill="#4f7bc3"/><rect x="459.3" y="48.8" width="1" height="1" fill="#4f7bc3"/><rect x="455.0" y="40.3" width="1" height="1" fill="#4f7bc3"/><rect x="454.5" y="40.0" width="1" height="1" fill="#4f7bc3"/><rect x="458.5" y="48.6" width="1" height="1" fill="#4f7bc3"/><rect x="458.1" y="48.0" width="1" height="1" fill="#4f7bc3"/><rect x="478.7" y="55.4" width="1" height="1" fill="#4f7bc3"/><rect x="456.9" y="43.2" width="1" height="1" fill="#4f7bc3"/><rect x="478.4" y="55.0" width="1" height="1" fill="#4f7bc3"/><rect x="457.6" y="47.2" width="1" height="1" fill="#4f7bc3"/><rect x="456.8" y="43.5" width="1" height="1" fill="#4f7bc3"/><rect x="457.1" y="48.1" width="1" height="1" fill="#4f7bc3"/><rect x="465.3" y="73.5" width="1" height="1" fill="#4f7bc3"/><rect x="480.1" y="53.5" width="1" height="1" fill="#4f7bc3"/><rect x="481.0" y="54.2" width="1" height="1" fill="#4f7bc3"/><rect x="468.7" y="53.5" width="1" height="1" fill="#4f7bc3"/><rect x="467.7" y="54.4" width="1" height="1" fill="#4f7bc3"/><rect x="467.7" y="53.2" width="1" height="1" fill="#4f7bc3"/><rect x="468.1" y="54.2" width="1" height="1" fill="#4f7bc3"/><rect x="477.3" y="54.9" width="1" height="1" fill="#4f7bc3"/><rect x="458.1" y="42.5" width="1" height="1" fill="#4f7bc3"/><rect x="457.7" y="42.4" width="1" height="1" fill="#4f7bc3"/><rect x="471.5" y="55.0" width="1" height="1" fill="#4f7bc3"/><rect x="471.1" y="55.3" width="1" height="1" fill="#4f7bc3"/><rect x="452.9" y="40.4" width="1" height="1" fill="#4f7bc3"/><rect x="459.2" y="46.4" width="1" height="1" fill="#4f7bc3"/><rect x="459.4" y="46.2" width="1" height="1" fill="#4f7bc3"/><rect x="459.6" y="46.6" width="1" height="1" fill="#4f7bc3"/><rect x="459.7" y="45.7" width="1" height="1" fill="#4f7bc3"/><rect x="447.5" y="46.0" width="1" height="1" fill="#4f7bc3"/><rect x="447.9" y="45.7" width="1" height="1" fill="#4f7bc3"/><rect x="478.3" y="54.4" width="1" height="1" fill="#4f7bc3"/><rect x="479.1" y="53.7" width="1" height="1" fill="#4f7bc3"/><rect x="479.5" y="53.5" width="1" height="1" fill="#4f7bc3"/><rect x="478.9" y="54.4" width="1" height="1" fill="#4f7bc3"/><rect x="446.9" y="45.8" width="1" height="1" fill="#4f7bc3"/><rect x="457.1" y="51.5" width="1" height="1" fill="#4f7bc3"/><rect x="457.2" y="51.3" width="1" height="1" fill="#4f7bc3"/><rect x="457.4" y="50.9" width="1" height="1" fill="#4f7bc3"/><rect x="458.0" y="51.2" width="1" height="1" fill="#4f7bc3"/><rect x="457.5" y="43.3" width="1" height="1" fill="#4f7bc3"/><rect x="457.9" y="43.2" width="1" height="1" fill="#4f7bc3"/><rect x="458.6" y="43.8" width="1" height="1" fill="#4f7bc3"/><rect x="457.3" y="43.8" width="1" height="1" fill="#4f7bc3"/><rect x="458.4" y="43.3" width="1" height="1" fill="#4f7bc3"/><rect x="477.5" y="53.4" width="1" height="1" fill="#4f7bc3"/><rect x="459.3" y="47.3" width="1" height="1" fill="#4f7bc3"/><rect x="459.5" y="47.2" width="1" height="1" fill="#4f7bc3"/><rect x="458.6" y="48.2" width="1" height="1" fill="#4f7bc3"/><rect x="446.2" y="45.2" width="1" height="1" fill="#4f7bc3"/><rect x="445.8" y="45.5" width="1" height="1" fill="#4f7bc3"/><rect x="455.3" y="27.9" width="1" height="1" fill="#4f7bc3"/><rect x="454.4" y="27.8" width="1" height="1" fill="#4f7bc3"/><rect x="455.0" y="28.2" width="1" height="1" fill="#4f7bc3"/><rect x="453.9" y="33.5" width="1" height="1" fill="#4f7bc4"/><rect x="453.1" y="33.3" width="1" height="1" fill="#4f7bc4"/><rect x="452.7" y="32.8" width="1" height="1" fill="#4f7bc4"/><rect x="461.2" y="55.7" width="1" height="1" fill="#4f7bc4"/><rect x="462.8" y="74.1" width="1" height="1" fill="#4f7bc4"/><rect x="462.1" y="74.7" width="1" height="1" fill="#4f7bc4"/><rect x="462.4" y="75.0" width="1" height="1" fill="#4f7bc4"/><rect x="445.0" y="80.8" width="1" height="1" fill="#4f7bc4"/><rect x="474.9" y="66.9" width="1" height="1" fill="#4f7bc4"/><rect x="475.0" y="67.1" width="1" height="1" fill="#4f7bc4"/><rect x="436.1" y="78.7" width="1" height="1" fill="#4f7bc4"/><rect x="435.4" y="78.8" width="1" height="1" fill="#4f7bc4"/><rect x="436.1" y="78.8" width="1" height="1" fill="#4f7bc4"/><rect x="435.5" y="79.0" width="1" height="1" fill="#4f7bc4"/><rect x="444.8" y="42.9" width="1" height="1" fill="#4e7bc4"/><rect x="467.0" y="54.1" width="1" height="1" fill="#4e7bc4"/><rect x="466.5" y="54.6" width="1" height="1" fill="#4e7bc4"/><rect x="466.1" y="53.3" width="1" height="1" fill="#4e7bc4"/><rect x="466.3" y="53.9" width="1" height="1" fill="#4e7bc4"/><rect x="466.2" y="54.4" width="1" height="1" fill="#4e7bc4"/><rect x="453.2" y="39.1" width="1" height="1" fill="#4e7bc4"/><rect x="457.7" y="49.8" width="1" height="1" fill="#4e7bc4"/><rect x="461.8" y="53.2" width="1" height="1" fill="#4e7bc4"/><rect x="462.3" y="53.3" width="1" height="1" fill="#4e7bc4"/><rect x="462.1" y="53.6" width="1" height="1" fill="#4e7bc4"/><rect x="455.1" y="29.5" width="1" height="1" fill="#4e7bc4"/><rect x="458.7" y="57.3" width="1" height="1" fill="#4e7bc4"/><rect x="459.8" y="56.1" width="1" height="1" fill="#4e7bc4"/><rect x="454.7" y="30.6" width="1" height="1" fill="#4e7bc4"/><rect x="459.3" y="57.2" width="1" height="1" fill="#4e7bc4"/><rect x="454.7" y="30.2" width="1" height="1" fill="#4e7bc4"/><rect x="454.2" y="29.5" width="1" height="1" fill="#4e7bc4"/><rect x="454.7" y="30.2" width="1" height="1" fill="#4e7bc4"/><rect x="459.9" y="57.5" width="1" height="1" fill="#4e7bc4"/><rect x="454.7" y="29.3" width="1" height="1" fill="#4e7bc4"/><rect x="459.4" y="57.4" width="1" height="1" fill="#4e7bc4"/><rect x="455.3" y="30.1" width="1" height="1" fill="#4e7bc4"/><rect x="452.0" y="41.7" width="1" height="1" fill="#4e7bc4"/><rect x="471.4" y="68.7" width="1" height="1" fill="#4e7bc4"/><rect x="468.4" y="71.8" width="1" height="1" fill="#4e7bc4"/><rect x="467.8" y="72.1" width="1" height="1" fill="#4e7bc4"/><rect x="453.7" y="27.6" width="1" height="1" fill="#4e7bc4"/><rect x="468.4" y="72.1" width="1" height="1" fill="#4e7bc4"/><rect x="467.8" y="71.8" width="1" height="1" fill="#4e7bc4"/><rect x="468.4" y="71.2" width="1" height="1" fill="#4e7bc4"/><rect x="454.0" y="28.9" width="1" height="1" fill="#4e7bc4"/><rect x="473.9" y="53.4" width="1" height="1" fill="#4e7bc4"/><rect x="474.9" y="54.1" width="1" height="1" fill="#4e7bc4"/><rect x="474.5" y="53.3" width="1" height="1" fill="#4e7bc4"/><rect x="474.2" y="53.3" width="1" height="1" fill="#4e7bc4"/><rect x="454.1" y="41.9" width="1" height="1" fill="#4e7bc4"/><rect x="455.0" y="42.6" width="1" height="1" fill="#4e7bc4"/><rect x="455.1" y="41.4" width="1" height="1" fill="#4e7bc4"/><rect x="455.3" y="41.7" width="1" height="1" fill="#4e7bc4"/><rect x="454.3" y="42.3" width="1" height="1" fill="#4e7bc4"/><rect x="454.4" y="41.9" width="1" height="1" fill="#4e7bc4"/><rect x="454.2" y="41.9" width="1" height="1" fill="#4e7bc4"/><rect x="454.0" y="35.4" width="1" height="1" fill="#4e7bc4"/><rect x="452.8" y="35.6" width="1" height="1" fill="#4e7bc4"/><rect x="454.1" y="36.2" width="1" height="1" fill="#4e7bc4"/><rect x="453.3" y="36.1" width="1" height="1" fill="#4e7bc4"/><rect x="452.6" y="35.3" width="1" height="1" fill="#4e7bc4"/><rect x="452.7" y="35.8" width="1" height="1" fill="#4e7bc4"/><rect x="470.3" y="55.2" width="1" height="1" fill="#4e7bc4"/><rect x="470.6" y="55.4" width="1" height="1" fill="#4e7bc4"/><rect x="470.2" y="55.5" width="1" height="1" fill="#4e7bc4"/><rect x="449.0" y="79.5" width="1" height="1" fill="#4e7bc4"/><rect x="449.1" y="78.8" width="1" height="1" fill="#4e7bc4"/><rect x="449.6" y="78.6" width="1" height="1" fill="#4e7bc4"/><rect x="470.0" y="54.9" width="1" height="1" fill="#4e7bc4"/><rect x="446.0" y="38.9" width="1" height="1" fill="#4e7bc4"/><rect x="446.2" y="38.2" width="1" height="1" fill="#4e7bc4"/><rect x="465.4" y="54.4" width="1" height="1" fill="#4e7bc4"/><rect x="473.2" y="55.0" width="1" height="1" fill="#4e7bc4"/><rect x="473.2" y="54.9" width="1" height="1" fill="#4e7bc4"/><rect x="472.9" y="55.2" width="1" height="1" fill="#4e7bc4"/><rect x="465.4" y="54.5" width="1" height="1" fill="#4e7bc4"/><rect x="473.1" y="55.9" width="1" height="1" fill="#4e7bc4"/><rect x="456.8" y="42.1" width="1" height="1" fill="#4e7bc4"/><rect x="456.0" y="41.9" width="1" height="1" fill="#4e7bc4"/><rect x="456.9" y="41.5" width="1" height="1" fill="#4e7bc4"/><rect x="456.5" y="41.2" width="1" height="1" fill="#4e7bc4"/><rect x="456.5" y="41.4" width="1" height="1" fill="#4e7bc4"/><rect x="443.8" y="39.7" width="1" height="1" fill="#4e7bc4"/><rect x="452.7" y="77.7" width="1" height="1" fill="#4e7bc4"/><rect x="445.0" y="40.8" width="1" height="1" fill="#4e7bc4"/><rect x="453.9" y="77.4" width="1" height="1" fill="#4e7bc4"/><rect x="444.4" y="40.8" width="1" height="1" fill="#4e7bc4"/><rect x="476.4" y="54.4" width="1" height="1" fill="#4e7cc4"/><rect x="476.3" y="53.8" width="1" height="1" fill="#4e7cc4"/><rect x="475.5" y="53.6" width="1" height="1" fill="#4e7cc4"/><rect x="475.4" y="53.7" width="1" height="1" fill="#4e7cc4"/><rect x="475.9" y="53.2" width="1" height="1" fill="#4e7cc4"/><rect x="476.0" y="53.7" width="1" height="1" fill="#4e7cc4"/><rect x="448.0" y="35.5" width="1" height="1" fill="#4e7cc4"/><rect x="447.1" y="36.4" width="1" height="1" fill="#4e7cc4"/><rect x="448.0" y="35.4" width="1" height="1" fill="#4e7cc4"/><rect x="470.3" y="70.8" width="1" height="1" fill="#4e7cc4"/><rect x="451.3" y="30.4" width="1" height="1" fill="#4e7cc4"/><rect x="451.4" y="29.7" width="1" height="1" fill="#4e7cc4"/><rect x="451.8" y="30.2" width="1" height="1" fill="#4e7cc4"/><rect x="452.0" y="30.1" width="1" height="1" fill="#4e7cc4"/><rect x="451.5" y="30.0" width="1" height="1" fill="#4e7cc4"/><rect x="440.4" y="69.0" width="1" height="1" fill="#4e7cc4"/><rect x="477.0" y="58.2" width="1" height="1" fill="#4e7cc4"/><rect x="476.8" y="57.9" width="1" height="1" fill="#4e7cc4"/><rect x="477.6" y="58.0" width="1" height="1" fill="#4e7cc4"/><rect x="463.5" y="53.6" width="1" height="1" fill="#4e7cc4"/><rect x="463.4" y="53.9" width="1" height="1" fill="#4e7cc4"/><rect x="463.4" y="53.7" width="1" height="1" fill="#4e7cc4"/><rect x="463.6" y="54.2" width="1" height="1" fill="#4e7cc4"/><rect x="442.9" y="81.3" width="1" height="1" fill="#4e7cc4"/><rect x="442.5" y="80.6" width="1" height="1" fill="#4e7cc4"/><rect x="442.6" y="81.4" width="1" height="1" fill="#4e7cc4"/><rect x="448.5" y="33.3" width="1" height="1" fill="#4e7cc5"/><rect x="449.6" y="33.2" width="1" height="1" fill="#4e7cc5"/><rect x="449.5" y="32.7" width="1" height="1" fill="#4e7cc5"/><rect x="453.2" y="37.1" width="1" height="1" fill="#4e7cc5"/><rect x="452.6" y="37.4" width="1" height="1" fill="#4e7cc5"/><rect x="453.3" y="37.2" width="1" height="1" fill="#4e7cc5"/><rect x="453.8" y="37.5" width="1" height="1" fill="#4e7cc5"/><rect x="449.8" y="31.1" width="1" height="1" fill="#4e7cc5"/><rect x="450.2" y="31.5" width="1" height="1" fill="#4e7cc5"/><rect x="476.1" y="55.3" width="1" height="1" fill="#4e7cc5"/><rect x="450.8" y="31.8" width="1" height="1" fill="#4e7cc5"/><rect x="475.9" y="56.0" width="1" height="1" fill="#4e7cc5"/><rect x="475.3" y="54.7" width="1" height="1" fill="#4e7cc5"/><rect x="453.8" y="31.1" width="1" height="1" fill="#4e7cc5"/><rect x="452.4" y="62.0" width="1" height="1" fill="#4e7cc5"/><rect x="468.8" y="55.7" width="1" height="1" fill="#4e7cc5"/><rect x="468.5" y="55.1" width="1" height="1" fill="#4e7cc5"/><rect x="453.1" y="59.2" width="1" height="1" fill="#4e7cc5"/><rect x="452.7" y="59.5" width="1" height="1" fill="#4e7cc5"/><rect x="449.8" y="62.2" width="1" height="1" fill="#4e7cc5"/><rect x="450.9" y="62.5" width="1" height="1" fill="#4e7cc5"/><rect x="457.6" y="57.8" width="1" height="1" fill="#4e7cc5"/><rect x="458.3" y="58.0" width="1" height="1" fill="#4e7cc5"/><rect x="449.1" y="44.1" width="1" height="1" fill="#4e7cc5"/><rect x="448.6" y="45.4" width="1" height="1" fill="#4e7cc5"/><rect x="449.3" y="44.4" width="1" height="1" fill="#4e7cc5"/><rect x="449.3" y="45.3" width="1" height="1" fill="#4e7cc5"/><rect x="448.2" y="44.8" width="1" height="1" fill="#4e7cc5"/><rect x="451.8" y="41.1" width="1" height="1" fill="#4e7cc5"/><rect x="452.3" y="40.5" width="1" height="1" fill="#4e7cc5"/><rect x="451.4" y="40.3" width="1" height="1" fill="#4e7cc5"/><rect x="449.9" y="44.0" width="1" height="1" fill="#4e7cc5"/><rect x="450.4" y="42.6" width="1" height="1" fill="#4e7cc5"/><rect x="449.7" y="42.8" width="1" height="1" fill="#4e7cc5"/><rect x="444.7" y="41.4" width="1" height="1" fill="#4e7cc5"/><rect x="444.6" y="41.9" width="1" height="1" fill="#4e7cc5"/><rect x="444.4" y="41.9" width="1" height="1" fill="#4e7cc5"/><rect x="445.1" y="41.8" width="1" height="1" fill="#4e7cc5"/><rect x="478.0" y="62.8" width="1" height="1" fill="#4e7cc5"/><rect x="477.4" y="63.3" width="1" height="1" fill="#4e7cc5"/><rect x="478.0" y="63.2" width="1" height="1" fill="#4e7cc5"/><rect x="447.2" y="45.5" width="1" height="1" fill="#4e7cc5"/><rect x="448.0" y="45.3" width="1" height="1" fill="#4e7cc5"/><rect x="447.4" y="45.1" width="1" height="1" fill="#4e7cc5"/><rect x="441.9" y="68.1" width="1" height="1" fill="#4e7cc5"/><rect x="453.2" y="29.7" width="1" height="1" fill="#4e7cc5"/><rect x="452.9" y="29.6" width="1" height="1" fill="#4e7cc5"/><rect x="453.4" y="29.1" width="1" height="1" fill="#4e7cc5"/><rect x="444.9" y="65.8" width="1" height="1" fill="#4e7cc5"/><rect x="443.8" y="65.9" width="1" height="1" fill="#4e7cc5"/><rect x="446.5" y="43.2" width="1" height="1" fill="#4e7cc5"/><rect x="437.7" y="72.5" width="1" height="1" fill="#4e7cc5"/><rect x="461.5" y="56.4" width="1" height="1" fill="#4e7cc5"/><rect x="452.6" y="33.8" width="1" height="1" fill="#4e7cc5"/><rect x="474.5" y="55.2" width="1" height="1" fill="#4e7cc5"/><rect x="466.1" y="72.5" width="1" height="1" fill="#4e7cc5"/><rect x="466.2" y="71.6" width="1" height="1" fill="#4e7cc5"/><rect x="466.7" y="71.1" width="1" height="1" fill="#4e7cc5"/><rect x="451.2" y="32.0" width="1" height="1" fill="#4e7cc5"/><rect x="452.6" y="31.6" width="1" height="1" fill="#4e7cc5"/><rect x="449.1" y="34.0" width="1" height="1" fill="#4e7cc5"/><rect x="448.8" y="34.3" width="1" height="1" fill="#4e7cc5"/><rect x="448.4" y="33.8" width="1" height="1" fill="#4e7cc5"/><rect x="449.4" y="34.8" width="1" height="1" fill="#4e7cc5"/><rect x="449.4" y="34.3" width="1" height="1" fill="#4e7cc5"/><rect x="452.2" y="77.4" width="1" height="1" fill="#4e7cc5"/><rect x="451.6" y="78.4" width="1" height="1" fill="#4e7cc5"/><rect x="476.4" y="63.7" width="1" height="1" fill="#4d7dc5"/><rect x="476.2" y="56.9" width="1" height="1" fill="#4d7dc5"/><rect x="476.4" y="57.2" width="1" height="1" fill="#4d7dc5"/><rect x="447.0" y="37.3" width="1" height="1" fill="#4d7dc5"/><rect x="447.7" y="37.9" width="1" height="1" fill="#4d7dc5"/><rect x="447.1" y="37.3" width="1" height="1" fill="#4d7dc5"/><rect x="447.8" y="37.0" width="1" height="1" fill="#4d7dc5"/><rect x="447.9" y="37.8" width="1" height="1" fill="#4d7dc5"/><rect x="451.9" y="32.1" width="1" height="1" fill="#4d7dc5"/><rect x="451.4" y="32.3" width="1" height="1" fill="#4d7dc5"/><rect x="452.0" y="32.2" width="1" height="1" fill="#4d7dc5"/><rect x="452.3" y="32.8" width="1" height="1" fill="#4d7dc5"/><rect x="451.2" y="33.5" width="1" height="1" fill="#4d7dc5"/><rect x="451.5" y="33.3" width="1" height="1" fill="#4d7dc5"/><rect x="452.1" y="32.4" width="1" height="1" fill="#4d7dc5"/><rect x="452.2" y="33.1" width="1" height="1" fill="#4d7dc5"/><rect x="455.3" y="59.7" width="1" height="1" fill="#4d7dc5"/><rect x="454.4" y="59.9" width="1" height="1" fill="#4d7dc5"/><rect x="462.5" y="54.6" width="1" height="1" fill="#4d7dc5"/><rect x="462.5" y="55.7" width="1" height="1" fill="#4d7dc5"/><rect x="461.7" y="55.9" width="1" height="1" fill="#4d7dc5"/><rect x="461.7" y="55.4" width="1" height="1" fill="#4d7dc5"/><rect x="462.5" y="55.0" width="1" height="1" fill="#4d7dc5"/><rect x="461.7" y="56.1" width="1" height="1" fill="#4d7dc5"/><rect x="445.8" y="40.4" width="1" height="1" fill="#4d7ec5"/><rect x="451.2" y="38.5" width="1" height="1" fill="#4d7ec5"/><rect x="451.5" y="38.7" width="1" height="1" fill="#4d7ec5"/><rect x="452.1" y="39.5" width="1" height="1" fill="#4d7ec5"/><rect x="459.0" y="74.3" width="1" height="1" fill="#4d7ec5"/><rect x="447.9" y="79.1" width="1" height="1" fill="#4d7ec5"/><rect x="446.8" y="79.5" width="1" height="1" fill="#4d7ec5"/><rect x="459.4" y="74.9" width="1" height="1" fill="#4d7ec5"/><rect x="459.0" y="74.6" width="1" height="1" fill="#4d7ec5"/><rect x="459.3" y="74.3" width="1" height="1" fill="#4d7ec5"/><rect x="459.6" y="75.3" width="1" height="1" fill="#4d7ec5"/><rect x="477.1" y="59.9" width="1" height="1" fill="#4d7ec5"/><rect x="478.0" y="59.4" width="1" height="1" fill="#4d7ec5"/><rect x="477.5" y="59.3" width="1" height="1" fill="#4d7ec5"/><rect x="477.4" y="60.3" width="1" height="1" fill="#4d7ec5"/><rect x="470.1" y="68.1" width="1" height="1" fill="#4d7ec5"/><rect x="464.0" y="73.9" width="1" height="1" fill="#4d7ec5"/><rect x="470.1" y="68.9" width="1" height="1" fill="#4d7ec5"/><rect x="470.6" y="68.5" width="1" height="1" fill="#4d7ec5"/><rect x="469.7" y="69.2" width="1" height="1" fill="#4d7ec5"/><rect x="469.4" y="68.5" width="1" height="1" fill="#4d7ec5"/><rect x="463.1" y="73.2" width="1" height="1" fill="#4d7ec5"/><rect x="463.3" y="73.9" width="1" height="1" fill="#4d7ec5"/><rect x="469.3" y="69.2" width="1" height="1" fill="#4d7ec5"/><rect x="463.9" y="73.1" width="1" height="1" fill="#4d7ec5"/><rect x="472.5" y="67.2" width="1" height="1" fill="#4d7ec4"/><rect x="473.0" y="66.9" width="1" height="1" fill="#4d7ec4"/><rect x="472.3" y="66.8" width="1" height="1" fill="#4d7ec4"/><rect x="465.3" y="55.7" width="1" height="1" fill="#4d7fc4"/><rect x="464.9" y="55.8" width="1" height="1" fill="#4d7fc4"/><rect x="465.6" y="54.6" width="1" height="1" fill="#4d7fc4"/><rect x="455.6" y="76.4" width="1" height="1" fill="#4d7fc4"/><rect x="456.4" y="76.5" width="1" height="1" fill="#4d7fc4"/><rect x="436.6" y="80.7" width="1" height="1" fill="#4d7fc4"/><rect x="436.3" y="81.5" width="1" height="1" fill="#4d7fc4"/><rect x="436.7" y="81.6" width="1" height="1" fill="#4d7fc4"/><rect x="437.3" y="80.1" width="1" height="1" fill="#4d7fc4"/><rect x="450.4" y="32.3" width="1" height="1" fill="#4d7fc4"/><rect x="449.8" y="33.0" width="1" height="1" fill="#4d7fc4"/><rect x="451.0" y="32.6" width="1" height="1" fill="#4d7fc4"/><rect x="450.0" y="32.3" width="1" height="1" fill="#4d7fc4"/><rect x="477.7" y="61.6" width="1" height="1" fill="#4d7fc4"/><rect x="477.8" y="61.2" width="1" height="1" fill="#4d7fc4"/><rect x="477.6" y="61.8" width="1" height="1" fill="#4d7fc4"/><rect x="476.8" y="61.5" width="1" height="1" fill="#4d7fc4"/><rect x="450.8" y="42.0" width="1" height="1" fill="#4d80c4"/><rect x="451.0" y="42.0" width="1" height="1" fill="#4d80c4"/><rect x="449.8" y="41.5" width="1" height="1" fill="#4d80c4"/><rect x="450.3" y="41.7" width="1" height="1" fill="#4d80c4"/><rect x="468.5" y="70.9" width="1" height="1" fill="#4d80c3"/><rect x="468.2" y="70.0" width="1" height="1" fill="#4d80c3"/><rect x="467.8" y="70.1" width="1" height="1" fill="#4d80c3"/><rect x="468.4" y="71.0" width="1" height="1" fill="#4d80c3"/><rect x="448.2" y="35.4" width="1" height="1" fill="#4d80c3"/><rect x="449.5" y="35.3" width="1" height="1" fill="#4d80c3"/><rect x="449.0" y="36.5" width="1" height="1" fill="#4d80c3"/><rect x="451.6" y="37.4" width="1" height="1" fill="#4d80c3"/><rect x="451.4" y="37.3" width="1" height="1" fill="#4d80c3"/><rect x="451.4" y="38.0" width="1" height="1" fill="#4d80c3"/><rect x="451.4" y="37.1" width="1" height="1" fill="#4d80c3"/><rect x="452.5" y="36.8" width="1" height="1" fill="#4d80c3"/><rect x="451.3" y="36.6" width="1" height="1" fill="#4d80c3"/><rect x="459.7" y="57.9" width="1" height="1" fill="#4d80c3"/><rect x="459.6" y="57.7" width="1" height="1" fill="#4d80c3"/><rect x="450.5" y="34.4" width="1" height="1" fill="#4d80c3"/><rect x="450.4" y="34.7" width="1" height="1" fill="#4d80c3"/><rect x="450.4" y="34.7" width="1" height="1" fill="#4d80c3"/><rect x="446.6" y="41.3" width="1" height="1" fill="#4d81c3"/><rect x="446.4" y="42.2" width="1" height="1" fill="#4d81c3"/><rect x="446.3" y="41.7" width="1" height="1" fill="#4d81c3"/><rect x="445.3" y="41.5" width="1" height="1" fill="#4d81c3"/><rect x="446.2" y="42.1" width="1" height="1" fill="#4d81c3"/><rect x="446.6" y="41.3" width="1" height="1" fill="#4d81c3"/><rect x="445.9" y="41.3" width="1" height="1" fill="#4d81c3"/><rect x="446.4" y="41.2" width="1" height="1" fill="#4d81c3"/><rect x="446.5" y="41.4" width="1" height="1" fill="#4d81c3"/><rect x="447.8" y="38.4" width="1" height="1" fill="#4d81c3"/><rect x="446.8" y="38.4" width="1" height="1" fill="#4d81c3"/><rect x="447.4" y="43.2" width="1" height="1" fill="#4d81c3"/><rect x="447.1" y="43.5" width="1" height="1" fill="#4d81c3"/><rect x="446.8" y="43.8" width="1" height="1" fill="#4d81c3"/><rect x="446.7" y="43.3" width="1" height="1" fill="#4d81c3"/><rect x="474.7" y="66.3" width="1" height="1" fill="#4d82c3"/><rect x="473.8" y="66.2" width="1" height="1" fill="#4d82c3"/><rect x="474.4" y="66.1" width="1" height="1" fill="#4d82c3"/><rect x="474.8" y="66.4" width="1" height="1" fill="#4d82c3"/><rect x="473.6" y="65.4" width="1" height="1" fill="#4d82c3"/><rect x="450.9" y="35.5" width="1" height="1" fill="#4d82c2"/><rect x="450.2" y="35.2" width="1" height="1" fill="#4d82c2"/><rect x="450.5" y="36.3" width="1" height="1" fill="#4d82c2"/><rect x="450.9" y="35.8" width="1" height="1" fill="#4d82c2"/><rect x="449.9" y="36.1" width="1" height="1" fill="#4d82c2"/><rect x="449.7" y="35.5" width="1" height="1" fill="#4d82c2"/><rect x="449.5" y="43.7" width="1" height="1" fill="#4d82c2"/><rect x="448.8" y="42.7" width="1" height="1" fill="#4d82c2"/><rect x="449.3" y="43.0" width="1" height="1" fill="#4d82c2"/><rect x="448.4" y="43.3" width="1" height="1" fill="#4d82c2"/><rect x="448.7" y="43.4" width="1" height="1" fill="#4d82c2"/><rect x="449.6" y="43.9" width="1" height="1" fill="#4d82c2"/><rect x="448.5" y="65.1" width="1" height="1" fill="#4d82c2"/><rect x="463.8" y="55.5" width="1" height="1" fill="#4d82c2"/><rect x="463.8" y="55.8" width="1" height="1" fill="#4d82c2"/><rect x="449.8" y="77.7" width="1" height="1" fill="#4d83c2"/><rect x="450.9" y="77.3" width="1" height="1" fill="#4d83c2"/><rect x="450.6" y="78.6" width="1" height="1" fill="#4d83c2"/><rect x="450.4" y="77.3" width="1" height="1" fill="#4d83c2"/><rect x="441.0" y="80.4" width="1" height="1" fill="#4d83c2"/><rect x="441.4" y="81.3" width="1" height="1" fill="#4d83c2"/><rect x="437.3" y="74.9" width="1" height="1" fill="#4d83c2"/><rect x="436.9" y="75.0" width="1" height="1" fill="#4d83c2"/><rect x="437.0" y="75.2" width="1" height="1" fill="#4d83c2"/><rect x="471.5" y="66.7" width="1" height="1" fill="#4d83c2"/><rect x="471.9" y="67.3" width="1" height="1" fill="#4d83c2"/><rect x="450.8" y="39.7" width="1" height="1" fill="#4d84c1"/><rect x="449.8" y="41.1" width="1" height="1" fill="#4d84c1"/><rect x="449.9" y="40.0" width="1" height="1" fill="#4d84c1"/><rect x="450.2" y="40.9" width="1" height="1" fill="#4d84c1"/><rect x="465.4" y="72.1" width="1" height="1" fill="#4d85c1"/><rect x="464.9" y="71.9" width="1" height="1" fill="#4d85c1"/><rect x="465.4" y="71.2" width="1" height="1" fill="#4d85c1"/><rect x="465.7" y="72.2" width="1" height="1" fill="#4d85c1"/><rect x="475.2" y="59.0" width="1" height="1" fill="#4d85c1"/><rect x="476.2" y="57.6" width="1" height="1" fill="#4d85c1"/><rect x="475.2" y="58.1" width="1" height="1" fill="#4d85c1"/><rect x="475.2" y="58.3" width="1" height="1" fill="#4d85c1"/><rect x="475.8" y="57.8" width="1" height="1" fill="#4d85c1"/><rect x="447.3" y="40.8" width="1" height="1" fill="#4d85c1"/><rect x="446.6" y="40.6" width="1" height="1" fill="#4d85c1"/><rect x="447.5" y="40.2" width="1" height="1" fill="#4d85c1"/><rect x="447.6" y="39.7" width="1" height="1" fill="#4d85c1"/><rect x="447.5" y="40.9" width="1" height="1" fill="#4d85c1"/><rect x="472.2" y="57.2" width="1" height="1" fill="#4d85c1"/><rect x="473.6" y="56.9" width="1" height="1" fill="#4d85c0"/><rect x="474.8" y="56.3" width="1" height="1" fill="#4d85c0"/><rect x="473.9" y="56.8" width="1" height="1" fill="#4d85c0"/><rect x="473.9" y="56.5" width="1" height="1" fill="#4d85c0"/><rect x="474.6" y="57.0" width="1" height="1" fill="#4d85c0"/><rect x="474.1" y="57.0" width="1" height="1" fill="#4d85c0"/><rect x="474.2" y="57.4" width="1" height="1" fill="#4d85c0"/><rect x="474.2" y="57.5" width="1" height="1" fill="#4d85c0"/><rect x="448.6" y="37.5" width="1" height="1" fill="#4d86c0"/><rect x="449.4" y="36.7" width="1" height="1" fill="#4d86c0"/><rect x="448.8" y="37.0" width="1" height="1" fill="#4d86c0"/><rect x="462.5" y="56.3" width="1" height="1" fill="#4d86c0"/><rect x="462.1" y="57.3" width="1" height="1" fill="#4d86c0"/><rect x="462.2" y="57.0" width="1" height="1" fill="#4d86c0"/><rect x="462.8" y="57.3" width="1" height="1" fill="#4d86c0"/><rect x="448.0" y="42.5" width="1" height="1" fill="#4d86c0"/><rect x="447.8" y="41.1" width="1" height="1" fill="#4d86c0"/><rect x="450.4" y="36.9" width="1" height="1" fill="#4d86c0"/><rect x="450.5" y="36.9" width="1" height="1" fill="#4d86c0"/><rect x="449.8" y="37.8" width="1" height="1" fill="#4d86c0"/><rect x="469.8" y="57.4" width="1" height="1" fill="#4d86c0"/><rect x="469.9" y="56.5" width="1" height="1" fill="#4d86c0"/><rect x="469.5" y="57.2" width="1" height="1" fill="#4d86c0"/><rect x="469.8" y="57.5" width="1" height="1" fill="#4d86c0"/><rect x="470.3" y="57.0" width="1" height="1" fill="#4d86c0"/><rect x="448.7" y="41.3" width="1" height="1" fill="#4d87c0"/><rect x="449.6" y="42.0" width="1" height="1" fill="#4d87c0"/><rect x="448.9" y="42.6" width="1" height="1" fill="#4d87c0"/><rect x="448.6" y="41.3" width="1" height="1" fill="#4d87c0"/><rect x="460.5" y="57.7" width="1" height="1" fill="#4d87c0"/><rect x="460.8" y="58.5" width="1" height="1" fill="#4d87c0"/><rect x="476.5" y="63.1" width="1" height="1" fill="#4d87c0"/><rect x="476.2" y="63.4" width="1" height="1" fill="#4d87c0"/><rect x="476.5" y="63.6" width="1" height="1" fill="#4d87c0"/><rect x="475.5" y="63.3" width="1" height="1" fill="#4d87c0"/><rect x="475.4" y="62.2" width="1" height="1" fill="#4d87c0"/><rect x="476.0" y="62.9" width="1" height="1" fill="#4d87c0"/><rect x="476.6" y="63.3" width="1" height="1" fill="#4d87c0"/><rect x="446.3" y="66.4" width="1" height="1" fill="#4d87bf"/><rect x="445.8" y="66.2" width="1" height="1" fill="#4d87bf"/><rect x="446.1" y="66.1" width="1" height="1" fill="#4d87bf"/><rect x="450.9" y="39.6" width="1" height="1" fill="#4d87bf"/><rect x="450.5" y="39.1" width="1" height="1" fill="#4d87bf"/><rect x="450.1" y="38.3" width="1" height="1" fill="#4d87bf"/><rect x="450.2" y="38.3" width="1" height="1" fill="#4d87bf"/><rect x="439.6" y="71.0" width="1" height="1" fill="#4d88bf"/><rect x="439.6" y="71.0" width="1" height="1" fill="#4d88bf"/><rect x="439.4" y="70.0" width="1" height="1" fill="#4d88bf"/><rect x="440.1" y="70.9" width="1" height="1" fill="#4d88bf"/><rect x="439.9" y="70.5" width="1" height="1" fill="#4d88bf"/><rect x="439.6" y="69.8" width="1" height="1" fill="#4d88bf"/><rect x="436.6" y="75.8" width="1" height="1" fill="#4d88bf"/><rect x="436.2" y="75.8" width="1" height="1" fill="#4d88bf"/><rect x="467.2" y="56.5" width="1" height="1" fill="#4d88bf"/><rect x="467.2" y="57.5" width="1" height="1" fill="#4d88bf"/><rect x="466.3" y="57.2" width="1" height="1" fill="#4d88bf"/><rect x="467.8" y="56.8" width="1" height="1" fill="#4d88bf"/><rect x="467.8" y="56.3" width="1" height="1" fill="#4d88bf"/><rect x="446.3" y="80.0" width="1" height="1" fill="#4d89be"/><rect x="446.4" y="78.8" width="1" height="1" fill="#4d89be"/><rect x="445.3" y="78.8" width="1" height="1" fill="#4d89be"/><rect x="445.9" y="79.5" width="1" height="1" fill="#4d89be"/><rect x="448.6" y="40.9" width="1" height="1" fill="#4d89be"/><rect x="449.2" y="40.1" width="1" height="1" fill="#4d89be"/><rect x="448.8" y="40.8" width="1" height="1" fill="#4d89be"/><rect x="449.1" y="40.5" width="1" height="1" fill="#4d89be"/><rect x="466.6" y="70.1" width="1" height="1" fill="#4d89be"/><rect x="468.7" y="68.4" width="1" height="1" fill="#4d89be"/><rect x="466.3" y="70.6" width="1" height="1" fill="#4d89be"/><rect x="468.5" y="68.9" width="1" height="1" fill="#4d89be"/><rect x="468.4" y="68.7" width="1" height="1" fill="#4d89be"/><rect x="437.3" y="78.7" width="1" height="1" fill="#4d89be"/><rect x="437.1" y="79.4" width="1" height="1" fill="#4d89be"/><rect x="437.3" y="79.0" width="1" height="1" fill="#4d89be"/><rect x="462.6" y="73.1" width="1" height="1" fill="#4d89be"/><rect x="463.0" y="73.1" width="1" height="1" fill="#4d89be"/><rect x="462.2" y="73.2" width="1" height="1" fill="#4d89be"/><rect x="462.1" y="74.0" width="1" height="1" fill="#4d89be"/><rect x="462.6" y="72.6" width="1" height="1" fill="#4d89be"/><rect x="448.5" y="38.5" width="1" height="1" fill="#4d8abe"/><rect x="448.3" y="38.9" width="1" height="1" fill="#4d8abe"/><rect x="448.4" y="38.6" width="1" height="1" fill="#4d8abe"/><rect x="448.7" y="38.3" width="1" height="1" fill="#4d8abe"/><rect x="448.8" y="38.4" width="1" height="1" fill="#4d8abe"/><rect x="448.6" y="38.3" width="1" height="1" fill="#4d8abe"/><rect x="448.6" y="38.6" width="1" height="1" fill="#4d8abe"/><rect x="448.3" y="38.2" width="1" height="1" fill="#4d8abe"/><rect x="469.4" y="67.8" width="1" height="1" fill="#4d8abe"/><rect x="449.5" y="78.5" width="1" height="1" fill="#4d8abe"/><rect x="449.6" y="77.5" width="1" height="1" fill="#4d8abe"/><rect x="436.5" y="77.8" width="1" height="1" fill="#4c8abe"/><rect x="436.4" y="78.2" width="1" height="1" fill="#4c8abe"/><rect x="475.6" y="59.4" width="1" height="1" fill="#4c8abd"/><rect x="475.9" y="60.4" width="1" height="1" fill="#4c8abd"/><rect x="475.4" y="59.4" width="1" height="1" fill="#4c8abd"/><rect x="476.3" y="60.1" width="1" height="1" fill="#4c8abd"/><rect x="475.5" y="60.5" width="1" height="1" fill="#4c8abd"/><rect x="465.1" y="56.2" width="1" height="1" fill="#4c8bbd"/><rect x="464.7" y="56.1" width="1" height="1" fill="#4c8bbd"/><rect x="465.1" y="56.5" width="1" height="1" fill="#4c8bbd"/><rect x="465.2" y="56.1" width="1" height="1" fill="#4c8bbd"/><rect x="465.3" y="57.4" width="1" height="1" fill="#4c8bbd"/><rect x="465.2" y="56.7" width="1" height="1" fill="#4c8bbd"/><rect x="465.9" y="56.5" width="1" height="1" fill="#4c8bbd"/><rect x="453.1" y="61.5" width="1" height="1" fill="#4c8bbd"/><rect x="453.9" y="61.8" width="1" height="1" fill="#4c8bbd"/><rect x="452.9" y="60.6" width="1" height="1" fill="#4c8bbd"/><rect x="458.5" y="59.7" width="1" height="1" fill="#4c8bbd"/><rect x="457.7" y="60.3" width="1" height="1" fill="#4c8bbd"/><rect x="457.1" y="59.2" width="1" height="1" fill="#4c8bbd"/><rect x="457.9" y="60.0" width="1" height="1" fill="#4c8bbd"/><rect x="457.2" y="59.4" width="1" height="1" fill="#4c8bbd"/><rect x="475.4" y="62.0" width="1" height="1" fill="#4c8bbd"/><rect x="475.3" y="62.1" width="1" height="1" fill="#4c8bbd"/><rect x="476.5" y="61.9" width="1" height="1" fill="#4c8bbd"/><rect x="476.6" y="60.9" width="1" height="1" fill="#4c8bbd"/><rect x="439.1" y="80.4" width="1" height="1" fill="#4c8cbd"/><rect x="438.5" y="80.4" width="1" height="1" fill="#4c8cbd"/><rect x="438.2" y="80.8" width="1" height="1" fill="#4c8cbd"/><rect x="438.3" y="80.8" width="1" height="1" fill="#4c8cbd"/><rect x="474.3" y="64.1" width="1" height="1" fill="#4c8cbd"/><rect x="473.8" y="64.8" width="1" height="1" fill="#4c8cbd"/><rect x="474.6" y="63.9" width="1" height="1" fill="#4c8cbd"/><rect x="474.8" y="64.8" width="1" height="1" fill="#4c8cbd"/><rect x="474.1" y="64.5" width="1" height="1" fill="#4c8cbd"/><rect x="443.0" y="68.0" width="1" height="1" fill="#4c8cbd"/><rect x="442.5" y="67.0" width="1" height="1" fill="#4c8cbd"/><rect x="442.2" y="68.0" width="1" height="1" fill="#4c8cbd"/><rect x="443.6" y="67.4" width="1" height="1" fill="#4c8cbd"/><rect x="442.6" y="67.7" width="1" height="1" fill="#4c8cbd"/><rect x="442.5" y="67.5" width="1" height="1" fill="#4c8cbd"/><rect x="452.0" y="63.3" width="1" height="1" fill="#4c8cbd"/><rect x="452.2" y="63.2" width="1" height="1" fill="#4c8cbd"/><rect x="451.1" y="63.2" width="1" height="1" fill="#4c8cbd"/><rect x="451.4" y="62.3" width="1" height="1" fill="#4c8cbd"/><rect x="464.5" y="56.7" width="1" height="1" fill="#4c8dbc"/><rect x="463.6" y="56.7" width="1" height="1" fill="#4c8dbc"/><rect x="464.3" y="57.4" width="1" height="1" fill="#4c8dbc"/><rect x="464.2" y="56.7" width="1" height="1" fill="#4c8dbc"/><rect x="463.3" y="57.4" width="1" height="1" fill="#4c8dbc"/><rect x="464.2" y="57.1" width="1" height="1" fill="#4c8dbc"/><rect x="454.9" y="76.2" width="1" height="1" fill="#4c8dbc"/><rect x="454.4" y="76.0" width="1" height="1" fill="#4c8dbc"/><rect x="455.3" y="76.4" width="1" height="1" fill="#4c8dbc"/><rect x="455.3" y="76.4" width="1" height="1" fill="#4c8dbc"/><rect x="439.9" y="80.9" width="1" height="1" fill="#4c8dbc"/><rect x="439.3" y="81.4" width="1" height="1" fill="#4c8dbc"/><rect x="440.4" y="80.5" width="1" height="1" fill="#4c8dbc"/><rect x="440.0" y="80.6" width="1" height="1" fill="#4c8dbc"/><rect x="472.4" y="65.9" width="1" height="1" fill="#4c8fbb"/><rect x="472.2" y="65.2" width="1" height="1" fill="#4c8fbb"/><rect x="472.1" y="65.9" width="1" height="1" fill="#4c8fbb"/><rect x="472.1" y="65.3" width="1" height="1" fill="#4c8fbb"/><rect x="472.5" y="66.5" width="1" height="1" fill="#4c8fbb"/><rect x="472.2" y="66.0" width="1" height="1" fill="#4c8fbb"/><rect x="463.2" y="72.3" width="1" height="1" fill="#4c90ba"/><rect x="463.8" y="71.3" width="1" height="1" fill="#4c90ba"/><rect x="463.3" y="72.6" width="1" height="1" fill="#4c90ba"/><rect x="463.3" y="72.5" width="1" height="1" fill="#4c90ba"/><rect x="473.9" y="58.3" width="1" height="1" fill="#4c90ba"/><rect x="474.6" y="58.1" width="1" height="1" fill="#4c90ba"/><rect x="473.8" y="57.9" width="1" height="1" fill="#4c90ba"/><rect x="443.9" y="79.7" width="1" height="1" fill="#4c90ba"/><rect x="445.0" y="79.1" width="1" height="1" fill="#4c90ba"/><rect x="444.4" y="78.7" width="1" height="1" fill="#4c90ba"/><rect x="444.3" y="79.1" width="1" height="1" fill="#4c90ba"/><rect x="443.7" y="78.6" width="1" height="1" fill="#4c90ba"/><rect x="441.7" y="69.2" width="1" height="1" fill="#4c90ba"/><rect x="441.0" y="68.6" width="1" height="1" fill="#4c90ba"/><rect x="441.5" y="68.2" width="1" height="1" fill="#4c90ba"/><rect x="441.3" y="69.0" width="1" height="1" fill="#4c90ba"/><rect x="441.8" y="68.5" width="1" height="1" fill="#4c90ba"/><rect x="441.8" y="69.1" width="1" height="1" fill="#4c90ba"/><rect x="437.9" y="74.0" width="1" height="1" fill="#4c91ba"/><rect x="437.8" y="73.9" width="1" height="1" fill="#4c91ba"/><rect x="438.3" y="73.6" width="1" height="1" fill="#4c91ba"/><rect x="438.6" y="73.5" width="1" height="1" fill="#4c91ba"/><rect x="438.8" y="73.3" width="1" height="1" fill="#4c91ba"/><rect x="438.4" y="73.4" width="1" height="1" fill="#4c91ba"/><rect x="458.6" y="60.6" width="1" height="1" fill="#4c91ba"/><rect x="459.2" y="60.5" width="1" height="1" fill="#4c91ba"/><rect x="459.8" y="60.0" width="1" height="1" fill="#4c91ba"/><rect x="459.7" y="60.6" width="1" height="1" fill="#4c91ba"/><rect x="458.6" y="59.5" width="1" height="1" fill="#4c91ba"/><rect x="458.7" y="59.5" width="1" height="1" fill="#4c91ba"/><rect x="459.7" y="60.2" width="1" height="1" fill="#4c91ba"/><rect x="474.3" y="62.5" width="1" height="1" fill="#4c91b9"/><rect x="475.0" y="62.6" width="1" height="1" fill="#4c91b9"/><rect x="473.8" y="62.9" width="1" height="1" fill="#4c91b9"/><rect x="474.7" y="62.3" width="1" height="1" fill="#4c91b9"/><rect x="462.7" y="58.1" width="1" height="1" fill="#4c92b9"/><rect x="462.7" y="58.0" width="1" height="1" fill="#4c92b9"/><rect x="462.8" y="58.4" width="1" height="1" fill="#4c92b9"/><rect x="462.9" y="57.6" width="1" height="1" fill="#4c92b9"/><rect x="462.4" y="57.7" width="1" height="1" fill="#4c92b9"/><rect x="450.8" y="64.8" width="1" height="1" fill="#4c92b9"/><rect x="450.3" y="63.8" width="1" height="1" fill="#4c92b9"/><rect x="461.2" y="73.4" width="1" height="1" fill="#4c92b9"/><rect x="461.6" y="73.0" width="1" height="1" fill="#4c92b9"/><rect x="460.4" y="72.8" width="1" height="1" fill="#4c92b9"/><rect x="467.6" y="68.6" width="1" height="1" fill="#4c93b9"/><rect x="466.2" y="68.4" width="1" height="1" fill="#4c93b9"/><rect x="466.3" y="68.6" width="1" height="1" fill="#4c93b9"/><rect x="466.1" y="68.3" width="1" height="1" fill="#4c93b9"/><rect x="466.1" y="68.7" width="1" height="1" fill="#4c93b9"/><rect x="466.1" y="68.2" width="1" height="1" fill="#4c93b9"/><rect x="467.0" y="68.9" width="1" height="1" fill="#4c93b9"/><rect x="466.1" y="70.2" width="1" height="1" fill="#4c93b8"/><rect x="465.5" y="70.8" width="1" height="1" fill="#4c93b8"/><rect x="466.0" y="70.5" width="1" height="1" fill="#4c93b8"/><rect x="466.0" y="69.8" width="1" height="1" fill="#4c93b8"/><rect x="464.8" y="70.1" width="1" height="1" fill="#4c93b8"/><rect x="465.2" y="70.2" width="1" height="1" fill="#4c93b8"/><rect x="465.6" y="70.3" width="1" height="1" fill="#4c93b8"/><rect x="471.2" y="65.6" width="1" height="1" fill="#4c94b8"/><rect x="471.2" y="65.4" width="1" height="1" fill="#4c94b8"/><rect x="472.0" y="66.2" width="1" height="1" fill="#4c94b8"/><rect x="471.4" y="66.2" width="1" height="1" fill="#4c94b8"/><rect x="471.3" y="66.3" width="1" height="1" fill="#4c94b8"/><rect x="472.1" y="66.5" width="1" height="1" fill="#4c94b8"/><rect x="471.4" y="65.4" width="1" height="1" fill="#4c94b8"/><rect x="473.7" y="61.9" width="1" height="1" fill="#4c95b8"/><rect x="473.9" y="60.7" width="1" height="1" fill="#4c95b8"/><rect x="473.7" y="61.1" width="1" height="1" fill="#4c95b8"/><rect x="474.0" y="61.3" width="1" height="1" fill="#4c95b8"/><rect x="460.7" y="59.9" width="1" height="1" fill="#4c95b8"/><rect x="461.1" y="60.5" width="1" height="1" fill="#4c95b8"/><rect x="460.5" y="59.2" width="1" height="1" fill="#4c95b8"/><rect x="460.7" y="59.2" width="1" height="1" fill="#4c95b8"/><rect x="460.4" y="59.5" width="1" height="1" fill="#4c95b8"/><rect x="454.1" y="61.1" width="1" height="1" fill="#4c95b8"/><rect x="454.8" y="60.8" width="1" height="1" fill="#4c95b8"/><rect x="455.2" y="61.6" width="1" height="1" fill="#4c95b8"/><rect x="454.7" y="62.0" width="1" height="1" fill="#4c95b8"/><rect x="455.2" y="61.0" width="1" height="1" fill="#4c95b8"/><rect x="455.1" y="60.7" width="1" height="1" fill="#4c95b8"/><rect x="455.2" y="61.5" width="1" height="1" fill="#4c95b8"/><rect x="473.7" y="59.6" width="1" height="1" fill="#4c95b7"/><rect x="474.8" y="59.1" width="1" height="1" fill="#4c95b7"/><rect x="474.8" y="59.4" width="1" height="1" fill="#4c95b7"/><rect x="473.8" y="60.2" width="1" height="1" fill="#4c95b7"/><rect x="473.7" y="59.4" width="1" height="1" fill="#4c95b7"/><rect x="453.8" y="76.3" width="1" height="1" fill="#4c96b7"/><rect x="453.2" y="75.9" width="1" height="1" fill="#4c96b7"/><rect x="453.1" y="76.5" width="1" height="1" fill="#4c96b7"/><rect x="453.3" y="76.4" width="1" height="1" fill="#4c96b7"/><rect x="452.8" y="76.6" width="1" height="1" fill="#4c96b7"/><rect x="467.9" y="66.6" width="1" height="1" fill="#4c96b7"/><rect x="467.8" y="66.9" width="1" height="1" fill="#4c96b7"/><rect x="468.2" y="67.1" width="1" height="1" fill="#4c96b7"/><rect x="468.1" y="66.8" width="1" height="1" fill="#4c96b7"/><rect x="468.4" y="67.2" width="1" height="1" fill="#4c96b7"/><rect x="467.9" y="66.7" width="1" height="1" fill="#4c96b7"/><rect x="446.8" y="65.8" width="1" height="1" fill="#4c97b7"/><rect x="447.0" y="66.4" width="1" height="1" fill="#4c97b7"/><rect x="447.9" y="65.9" width="1" height="1" fill="#4c97b7"/><rect x="447.4" y="65.3" width="1" height="1" fill="#4c97b7"/><rect x="447.0" y="66.2" width="1" height="1" fill="#4c97b7"/><rect x="448.0" y="66.0" width="1" height="1" fill="#4c97b7"/><rect x="473.0" y="59.0" width="1" height="1" fill="#4b98b6"/><rect x="472.6" y="58.6" width="1" height="1" fill="#4b98b6"/><rect x="473.4" y="57.7" width="1" height="1" fill="#4b98b6"/><rect x="472.1" y="57.8" width="1" height="1" fill="#4b98b6"/><rect x="472.1" y="58.9" width="1" height="1" fill="#4b98b6"/><rect x="472.8" y="57.9" width="1" height="1" fill="#4b98b6"/><rect x="472.4" y="59.1" width="1" height="1" fill="#4b98b6"/><rect x="472.7" y="58.4" width="1" height="1" fill="#4b98b6"/><rect x="472.7" y="59.0" width="1" height="1" fill="#4b98b6"/><rect x="469.4" y="65.8" width="1" height="1" fill="#4b98b6"/><rect x="469.5" y="66.2" width="1" height="1" fill="#4b98b6"/><rect x="469.6" y="65.3" width="1" height="1" fill="#4b98b6"/><rect x="469.3" y="65.4" width="1" height="1" fill="#4b98b6"/><rect x="470.1" y="66.0" width="1" height="1" fill="#4b98b6"/><rect x="469.9" y="66.5" width="1" height="1" fill="#4b98b6"/><rect x="447.0" y="78.0" width="1" height="1" fill="#4b98b5"/><rect x="447.1" y="77.2" width="1" height="1" fill="#4b98b5"/><rect x="447.3" y="77.2" width="1" height="1" fill="#4b98b5"/><rect x="447.0" y="77.2" width="1" height="1" fill="#4b98b5"/><rect x="447.2" y="78.2" width="1" height="1" fill="#4b98b5"/><rect x="442.9" y="78.7" width="1" height="1" fill="#4b99b5"/><rect x="442.8" y="79.7" width="1" height="1" fill="#4b99b5"/><rect x="442.4" y="79.4" width="1" height="1" fill="#4b99b5"/><rect x="472.3" y="64.2" width="1" height="1" fill="#4b99b5"/><rect x="472.9" y="63.9" width="1" height="1" fill="#4b99b5"/><rect x="472.2" y="64.8" width="1" height="1" fill="#4b99b5"/><rect x="473.4" y="64.0" width="1" height="1" fill="#4b99b5"/><rect x="472.4" y="64.1" width="1" height="1" fill="#4b99b5"/><rect x="456.2" y="60.7" width="1" height="1" fill="#4b99b5"/><rect x="455.7" y="61.9" width="1" height="1" fill="#4b99b5"/><rect x="456.4" y="61.8" width="1" height="1" fill="#4b99b5"/><rect x="456.3" y="61.8" width="1" height="1" fill="#4b99b5"/><rect x="463.6" y="58.7" width="1" height="1" fill="#4b9ab4"/><rect x="463.6" y="59.0" width="1" height="1" fill="#4b9ab4"/><rect x="464.4" y="58.0" width="1" height="1" fill="#4b9ab4"/><rect x="464.3" y="58.2" width="1" height="1" fill="#4b9ab4"/><rect x="439.5" y="71.3" width="1" height="1" fill="#4b9bb4"/><rect x="440.2" y="72.6" width="1" height="1" fill="#4b9bb4"/><rect x="439.4" y="72.5" width="1" height="1" fill="#4b9bb4"/><rect x="470.6" y="58.5" width="1" height="1" fill="#4b9bb4"/><rect x="471.1" y="58.1" width="1" height="1" fill="#4b9bb4"/><rect x="471.9" y="58.6" width="1" height="1" fill="#4b9bb4"/><rect x="470.8" y="57.6" width="1" height="1" fill="#4b9bb4"/><rect x="471.5" y="58.2" width="1" height="1" fill="#4b9bb4"/><rect x="451.2" y="76.4" width="1" height="1" fill="#4b9bb4"/><rect x="451.4" y="76.4" width="1" height="1" fill="#4b9bb4"/><rect x="451.6" y="75.7" width="1" height="1" fill="#4b9bb4"/><rect x="459.8" y="73.2" width="1" height="1" fill="#4b9cb3"/><rect x="458.8" y="73.6" width="1" height="1" fill="#4b9cb3"/><rect x="458.6" y="74.1" width="1" height="1" fill="#4b9cb3"/><rect x="458.9" y="73.3" width="1" height="1" fill="#4b9cb3"/><rect x="458.8" y="72.7" width="1" height="1" fill="#4b9cb3"/><rect x="459.1" y="73.8" width="1" height="1" fill="#4b9cb3"/><rect x="464.7" y="58.0" width="1" height="1" fill="#4b9cb3"/><rect x="472.2" y="62.2" width="1" height="1" fill="#4b9db3"/><rect x="472.5" y="63.1" width="1" height="1" fill="#4b9db3"/><rect x="473.4" y="63.2" width="1" height="1" fill="#4b9db3"/><rect x="473.4" y="62.8" width="1" height="1" fill="#4b9db3"/><rect x="472.4" y="62.6" width="1" height="1" fill="#4b9db3"/><rect x="473.1" y="62.8" width="1" height="1" fill="#4b9db3"/><rect x="465.2" y="68.8" width="1" height="1" fill="#4b9db3"/><rect x="465.5" y="68.5" width="1" height="1" fill="#4b9db3"/><rect x="465.6" y="68.2" width="1" height="1" fill="#4b9db3"/><rect x="466.0" y="69.2" width="1" height="1" fill="#4b9db3"/><rect x="465.1" y="68.7" width="1" height="1" fill="#4b9db3"/><rect x="462.3" y="71.2" width="1" height="1" fill="#4b9db3"/><rect x="461.9" y="72.3" width="1" height="1" fill="#4b9db3"/><rect x="462.8" y="71.9" width="1" height="1" fill="#4b9db3"/><rect x="462.4" y="71.2" width="1" height="1" fill="#4b9db3"/><rect x="462.5" y="71.3" width="1" height="1" fill="#4b9db3"/><rect x="462.3" y="72.1" width="1" height="1" fill="#4b9db3"/><rect x="469.7" y="58.3" width="1" height="1" fill="#4b9db3"/><rect x="469.2" y="58.8" width="1" height="1" fill="#4b9db3"/><rect x="470.4" y="57.9" width="1" height="1" fill="#4b9db3"/><rect x="469.5" y="58.9" width="1" height="1" fill="#4b9db3"/><rect x="469.9" y="58.2" width="1" height="1" fill="#4b9db3"/><rect x="467.6" y="58.7" width="1" height="1" fill="#4b9db3"/><rect x="467.3" y="58.5" width="1" height="1" fill="#4b9db3"/><rect x="466.2" y="58.3" width="1" height="1" fill="#4b9db3"/><rect x="466.5" y="58.6" width="1" height="1" fill="#4b9db3"/><rect x="466.4" y="58.9" width="1" height="1" fill="#4b9db3"/><rect x="466.2" y="58.0" width="1" height="1" fill="#4b9db3"/><rect x="443.6" y="67.8" width="1" height="1" fill="#4b9eb2"/><rect x="444.6" y="67.4" width="1" height="1" fill="#4b9eb2"/><rect x="444.5" y="67.1" width="1" height="1" fill="#4b9eb2"/><rect x="444.5" y="67.3" width="1" height="1" fill="#4b9eb2"/><rect x="444.5" y="67.0" width="1" height="1" fill="#4b9eb2"/><rect x="463.7" y="70.3" width="1" height="1" fill="#4b9eb2"/><rect x="464.2" y="69.8" width="1" height="1" fill="#4b9eb2"/><rect x="463.6" y="70.2" width="1" height="1" fill="#4b9eb2"/><rect x="463.3" y="69.6" width="1" height="1" fill="#4b9eb2"/><rect x="463.5" y="69.7" width="1" height="1" fill="#4b9eb2"/><rect x="463.2" y="70.1" width="1" height="1" fill="#4b9eb2"/><rect x="455.8" y="75.6" width="1" height="1" fill="#4b9eb2"/><rect x="467.6" y="57.8" width="1" height="1" fill="#4b9eb2"/><rect x="457.0" y="74.9" width="1" height="1" fill="#4b9eb2"/><rect x="468.2" y="58.0" width="1" height="1" fill="#4b9eb2"/><rect x="456.2" y="74.7" width="1" height="1" fill="#4b9eb2"/><rect x="468.5" y="58.3" width="1" height="1" fill="#4b9eb2"/><rect x="455.7" y="75.1" width="1" height="1" fill="#4b9eb2"/><rect x="468.3" y="58.9" width="1" height="1" fill="#4b9eb2"/><rect x="468.5" y="58.2" width="1" height="1" fill="#4b9eb2"/><rect x="468.9" y="58.5" width="1" height="1" fill="#4b9eb2"/><rect x="467.7" y="58.8" width="1" height="1" fill="#4b9eb2"/><rect x="467.8" y="58.6" width="1" height="1" fill="#4b9eb2"/><rect x="468.0" y="58.8" width="1" height="1" fill="#4b9eb2"/><rect x="456.5" y="75.1" width="1" height="1" fill="#4b9eb2"/><rect x="456.0" y="74.3" width="1" height="1" fill="#4b9eb2"/><rect x="458.5" y="61.6" width="1" height="1" fill="#4b9fb2"/><rect x="458.4" y="61.9" width="1" height="1" fill="#4b9fb2"/><rect x="457.6" y="61.4" width="1" height="1" fill="#4b9fb2"/><rect x="458.5" y="61.5" width="1" height="1" fill="#4b9fb2"/><rect x="458.1" y="61.1" width="1" height="1" fill="#4b9fb2"/><rect x="457.5" y="60.9" width="1" height="1" fill="#4b9fb2"/><rect x="458.5" y="60.9" width="1" height="1" fill="#4b9fb2"/><rect x="458.5" y="61.0" width="1" height="1" fill="#4b9fb2"/><rect x="458.0" y="61.7" width="1" height="1" fill="#4b9fb2"/><rect x="457.5" y="62.0" width="1" height="1" fill="#4b9fb2"/><rect x="458.3" y="62.0" width="1" height="1" fill="#4b9fb2"/><rect x="463.1" y="60.0" width="1" height="1" fill="#4b9fb2"/><rect x="462.1" y="60.2" width="1" height="1" fill="#4b9fb2"/><rect x="462.4" y="59.8" width="1" height="1" fill="#4b9fb2"/><rect x="462.2" y="59.7" width="1" height="1" fill="#4b9fb2"/><rect x="462.7" y="60.4" width="1" height="1" fill="#4b9fb2"/><rect x="462.7" y="59.7" width="1" height="1" fill="#4b9fb2"/><rect x="471.2" y="65.1" width="1" height="1" fill="#4ba0b1"/><rect x="470.8" y="65.0" width="1" height="1" fill="#4ba0b1"/><rect x="471.2" y="64.8" width="1" height="1" fill="#4ba0b1"/><rect x="471.2" y="64.1" width="1" height="1" fill="#4ba0b1"/><rect x="471.2" y="64.7" width="1" height="1" fill="#4ba0b1"/><rect x="471.6" y="64.1" width="1" height="1" fill="#4ba0b1"/><rect x="471.4" y="65.0" width="1" height="1" fill="#4ba0b1"/><rect x="471.0" y="64.8" width="1" height="1" fill="#4ba0b1"/><rect x="451.0" y="76.4" width="1" height="1" fill="#4ba0b1"/><rect x="450.8" y="76.9" width="1" height="1" fill="#4ba0b1"/><rect x="449.7" y="76.7" width="1" height="1" fill="#4ba0b1"/><rect x="450.5" y="76.7" width="1" height="1" fill="#4ba0b1"/><rect x="451.1" y="76.2" width="1" height="1" fill="#4ba0b1"/><rect x="449.6" y="75.8" width="1" height="1" fill="#4ba0b1"/><rect x="450.1" y="77.0" width="1" height="1" fill="#4ba0b1"/><rect x="472.2" y="61.1" width="1" height="1" fill="#4ba1b1"/><rect x="473.1" y="61.8" width="1" height="1" fill="#4ba1b1"/><rect x="473.0" y="62.0" width="1" height="1" fill="#4ba1b1"/><rect x="472.2" y="61.4" width="1" height="1" fill="#4ba1b1"/><rect x="472.5" y="61.2" width="1" height="1" fill="#4ba1b1"/><rect x="473.2" y="61.4" width="1" height="1" fill="#4ba1b1"/><rect x="459.3" y="60.7" width="1" height="1" fill="#4ba2b0"/><rect x="459.8" y="62.0" width="1" height="1" fill="#4ba2b0"/><rect x="459.4" y="61.2" width="1" height="1" fill="#4ba2b0"/><rect x="459.6" y="61.0" width="1" height="1" fill="#4ba2b0"/><rect x="473.4" y="60.2" width="1" height="1" fill="#4ba2b0"/><rect x="473.2" y="60.4" width="1" height="1" fill="#4ba2b0"/><rect x="473.5" y="59.6" width="1" height="1" fill="#4ba2b0"/><rect x="473.5" y="60.3" width="1" height="1" fill="#4ba2b0"/><rect x="472.8" y="60.0" width="1" height="1" fill="#4ba2b0"/><rect x="453.4" y="62.3" width="1" height="1" fill="#4ba2b0"/><rect x="453.8" y="62.2" width="1" height="1" fill="#4ba2b0"/><rect x="452.9" y="62.1" width="1" height="1" fill="#4ba2b0"/><rect x="453.3" y="63.3" width="1" height="1" fill="#4ba2b0"/><rect x="453.9" y="62.2" width="1" height="1" fill="#4ba2b0"/><rect x="453.1" y="63.2" width="1" height="1" fill="#4ba2b0"/><rect x="453.5" y="63.0" width="1" height="1" fill="#4ba2b0"/><rect x="453.9" y="63.3" width="1" height="1" fill="#4ba2b0"/><rect x="452.8" y="63.0" width="1" height="1" fill="#4ba2b0"/><rect x="453.9" y="63.2" width="1" height="1" fill="#4ba2b0"/><rect x="467.1" y="68.1" width="1" height="1" fill="#4ba2b0"/><rect x="466.3" y="67.8" width="1" height="1" fill="#4ba2b0"/><rect x="460.3" y="61.1" width="1" height="1" fill="#4ba3b0"/><rect x="461.2" y="61.4" width="1" height="1" fill="#4ba3b0"/><rect x="460.3" y="61.3" width="1" height="1" fill="#4ba3b0"/><rect x="460.5" y="61.0" width="1" height="1" fill="#4ba3b0"/><rect x="461.5" y="61.1" width="1" height="1" fill="#4ba3b0"/><rect x="470.6" y="65.0" width="1" height="1" fill="#4ba3af"/><rect x="469.8" y="64.4" width="1" height="1" fill="#4ba3af"/><rect x="469.3" y="64.0" width="1" height="1" fill="#4ba3af"/><rect x="469.4" y="64.3" width="1" height="1" fill="#4ba3af"/><rect x="438.1" y="78.7" width="1" height="1" fill="#4ba4af"/><rect x="437.8" y="80.0" width="1" height="1" fill="#4ba4af"/><rect x="438.3" y="79.2" width="1" height="1" fill="#4ba4af"/><rect x="438.3" y="78.7" width="1" height="1" fill="#4ba4af"/><rect x="438.4" y="79.1" width="1" height="1" fill="#4ba4af"/><rect x="437.8" y="79.5" width="1" height="1" fill="#4ba4af"/><rect x="438.3" y="79.6" width="1" height="1" fill="#4ba4af"/><rect x="438.6" y="79.2" width="1" height="1" fill="#4ba4af"/><rect x="438.0" y="79.7" width="1" height="1" fill="#4ba4af"/><rect x="438.7" y="79.6" width="1" height="1" fill="#4ba4af"/><rect x="468.2" y="66.1" width="1" height="1" fill="#4ba5ae"/><rect x="468.8" y="66.3" width="1" height="1" fill="#4ba5ae"/><rect x="468.4" y="66.4" width="1" height="1" fill="#4ba5ae"/><rect x="468.3" y="65.9" width="1" height="1" fill="#4ba5ae"/><rect x="467.9" y="65.9" width="1" height="1" fill="#4ba5ae"/><rect x="468.7" y="65.8" width="1" height="1" fill="#4ba5ae"/><rect x="451.3" y="64.6" width="1" height="1" fill="#4ba5ae"/><rect x="451.3" y="64.8" width="1" height="1" fill="#4ba5ae"/><rect x="451.6" y="64.7" width="1" height="1" fill="#4ba5ae"/><rect x="451.5" y="64.4" width="1" height="1" fill="#4ba5ae"/><rect x="451.9" y="65.0" width="1" height="1" fill="#4ba5ae"/><rect x="448.8" y="65.9" width="1" height="1" fill="#4ba5ad"/><rect x="449.3" y="66.1" width="1" height="1" fill="#4ba5ad"/><rect x="448.9" y="65.2" width="1" height="1" fill="#4ba5ad"/><rect x="448.7" y="66.5" width="1" height="1" fill="#4ba5ad"/><rect x="448.7" y="66.5" width="1" height="1" fill="#4ba5ad"/><rect x="449.1" y="76.5" width="1" height="1" fill="#4ca5ab"/><rect x="449.6" y="75.8" width="1" height="1" fill="#4ca5ab"/><rect x="449.1" y="76.9" width="1" height="1" fill="#4ca5ab"/><rect x="448.2" y="76.6" width="1" height="1" fill="#4ca5ab"/><rect x="471.5" y="62.3" width="1" height="1" fill="#4ca6ab"/><rect x="471.2" y="63.6" width="1" height="1" fill="#4ca6ab"/><rect x="471.3" y="63.0" width="1" height="1" fill="#4ca6ab"/><rect x="471.2" y="62.4" width="1" height="1" fill="#4ca6ab"/><rect x="471.4" y="62.9" width="1" height="1" fill="#4ca6ab"/><rect x="440.7" y="79.1" width="1" height="1" fill="#4ea7a6"/><rect x="441.2" y="79.5" width="1" height="1" fill="#4ea7a6"/><rect x="441.2" y="79.2" width="1" height="1" fill="#4ea7a6"/><rect x="437.8" y="74.4" width="1" height="1" fill="#4ea7a6"/><rect x="438.7" y="74.7" width="1" height="1" fill="#4ea7a6"/><rect x="438.0" y="75.5" width="1" height="1" fill="#4ea7a6"/><rect x="438.1" y="75.4" width="1" height="1" fill="#4ea7a6"/><rect x="438.2" y="75.1" width="1" height="1" fill="#4ea7a6"/><rect x="438.4" y="74.3" width="1" height="1" fill="#4ea7a6"/><rect x="438.2" y="74.6" width="1" height="1" fill="#4ea7a6"/><rect x="438.6" y="74.2" width="1" height="1" fill="#4ea7a6"/><rect x="464.5" y="59.8" width="1" height="1" fill="#4ea7a5"/><rect x="464.3" y="60.2" width="1" height="1" fill="#4ea7a5"/><rect x="464.5" y="60.3" width="1" height="1" fill="#4ea7a5"/><rect x="464.4" y="59.3" width="1" height="1" fill="#4ea7a5"/><rect x="463.4" y="60.3" width="1" height="1" fill="#4ea7a5"/><rect x="463.7" y="60.6" width="1" height="1" fill="#4ea7a5"/><rect x="464.2" y="60.5" width="1" height="1" fill="#4ea7a5"/><rect x="463.4" y="59.6" width="1" height="1" fill="#4ea7a5"/><rect x="464.5" y="60.3" width="1" height="1" fill="#4ea7a5"/><rect x="464.4" y="59.5" width="1" height="1" fill="#4ea7a5"/><rect x="464.0" y="60.4" width="1" height="1" fill="#4ea7a5"/><rect x="464.5" y="59.4" width="1" height="1" fill="#4ea7a5"/><rect x="463.7" y="59.1" width="1" height="1" fill="#4ea7a5"/><rect x="461.0" y="71.6" width="1" height="1" fill="#50a8a2"/><rect x="464.6" y="69.1" width="1" height="1" fill="#50a8a2"/><rect x="463.8" y="69.5" width="1" height="1" fill="#50a8a2"/><rect x="460.4" y="72.0" width="1" height="1" fill="#50a8a2"/><rect x="461.3" y="72.1" width="1" height="1" fill="#50a8a2"/><rect x="460.9" y="71.7" width="1" height="1" fill="#50a8a2"/><rect x="463.8" y="69.2" width="1" height="1" fill="#50a8a2"/><rect x="463.3" y="68.1" width="1" height="1" fill="#50a8a2"/><rect x="461.2" y="72.3" width="1" height="1" fill="#50a8a2"/><rect x="460.5" y="71.6" width="1" height="1" fill="#50a8a2"/><rect x="463.7" y="69.4" width="1" height="1" fill="#50a8a2"/><rect x="463.8" y="69.5" width="1" height="1" fill="#50a8a2"/><rect x="463.7" y="69.4" width="1" height="1" fill="#50a8a2"/><rect x="460.6" y="71.6" width="1" height="1" fill="#50a8a2"/><rect x="461.2" y="71.2" width="1" height="1" fill="#50a8a2"/><rect x="460.4" y="72.2" width="1" height="1" fill="#50a8a2"/><rect x="461.5" y="71.7" width="1" height="1" fill="#50a8a2"/><rect x="465.2" y="67.0" width="1" height="1" fill="#50a8a2"/><rect x="465.0" y="67.6" width="1" height="1" fill="#50a8a2"/><rect x="465.6" y="67.8" width="1" height="1" fill="#50a8a2"/><rect x="465.4" y="67.4" width="1" height="1" fill="#50a8a2"/><rect x="464.9" y="66.9" width="1" height="1" fill="#50a8a2"/><rect x="457.6" y="72.9" width="1" height="1" fill="#50a8a1"/><rect x="457.7" y="72.7" width="1" height="1" fill="#50a8a1"/><rect x="458.4" y="73.3" width="1" height="1" fill="#50a8a1"/><rect x="458.0" y="73.8" width="1" height="1" fill="#50a8a1"/><rect x="458.1" y="72.9" width="1" height="1" fill="#50a8a1"/><rect x="457.1" y="72.7" width="1" height="1" fill="#50a8a1"/><rect x="458.1" y="73.5" width="1" height="1" fill="#50a8a1"/><rect x="458.4" y="72.7" width="1" height="1" fill="#50a8a1"/><rect x="462.3" y="60.6" width="1" height="1" fill="#50a8a1"/><rect x="461.7" y="61.6" width="1" height="1" fill="#50a8a1"/><rect x="462.3" y="61.8" width="1" height="1" fill="#50a8a1"/><rect x="462.3" y="60.9" width="1" height="1" fill="#50a8a1"/><rect x="470.4" y="62.4" width="1" height="1" fill="#51a9a0"/><rect x="464.7" y="59.8" width="1" height="1" fill="#51a9a0"/><rect x="469.3" y="62.8" width="1" height="1" fill="#51a9a0"/><rect x="464.8" y="60.0" width="1" height="1" fill="#51a9a0"/><rect x="465.4" y="59.4" width="1" height="1" fill="#51a9a0"/><rect x="469.4" y="62.8" width="1" height="1" fill="#51a9a0"/><rect x="469.7" y="63.1" width="1" height="1" fill="#51a9a0"/><rect x="470.4" y="62.9" width="1" height="1" fill="#51a9a0"/><rect x="470.5" y="63.4" width="1" height="1" fill="#51a9a0"/><rect x="465.2" y="60.0" width="1" height="1" fill="#51a9a0"/><rect x="469.7" y="63.5" width="1" height="1" fill="#51a9a0"/><rect x="465.7" y="59.9" width="1" height="1" fill="#51a9a0"/><rect x="465.4" y="59.6" width="1" height="1" fill="#51a9a0"/><rect x="470.1" y="63.6" width="1" height="1" fill="#51a9a0"/><rect x="469.7" y="62.8" width="1" height="1" fill="#51a9a0"/><rect x="465.6" y="60.1" width="1" height="1" fill="#51a9a0"/><rect x="471.4" y="60.0" width="1" height="1" fill="#51a9a0"/><rect x="471.7" y="60.3" width="1" height="1" fill="#51a9a0"/><rect x="471.6" y="59.4" width="1" height="1" fill="#51a9a0"/><rect x="470.7" y="60.1" width="1" height="1" fill="#51a9a0"/><rect x="471.4" y="59.3" width="1" height="1" fill="#51a9a0"/><rect x="471.1" y="60.3" width="1" height="1" fill="#51a9a0"/><rect x="471.8" y="60.4" width="1" height="1" fill="#51a9a0"/><rect x="471.0" y="59.7" width="1" height="1" fill="#51a9a0"/><rect x="470.9" y="59.8" width="1" height="1" fill="#51a9a0"/><rect x="471.4" y="60.1" width="1" height="1" fill="#51a9a0"/><rect x="471.4" y="60.3" width="1" height="1" fill="#51a9a0"/><rect x="471.9" y="59.8" width="1" height="1" fill="#51a9a0"/><rect x="471.2" y="59.4" width="1" height="1" fill="#51a9a0"/><rect x="462.3" y="69.7" width="1" height="1" fill="#51a99f"/><rect x="462.5" y="69.7" width="1" height="1" fill="#51a99f"/><rect x="462.2" y="70.3" width="1" height="1" fill="#51a99f"/><rect x="462.6" y="70.0" width="1" height="1" fill="#51a99f"/><rect x="471.6" y="61.9" width="1" height="1" fill="#51a99e"/><rect x="466.7" y="59.1" width="1" height="1" fill="#51a99e"/><rect x="471.0" y="61.5" width="1" height="1" fill="#51a99e"/><rect x="466.2" y="60.5" width="1" height="1" fill="#51a99e"/><rect x="467.2" y="60.3" width="1" height="1" fill="#51a99e"/><rect x="466.2" y="60.4" width="1" height="1" fill="#51a99e"/><rect x="466.5" y="59.2" width="1" height="1" fill="#51a99e"/><rect x="467.4" y="60.1" width="1" height="1" fill="#51a99e"/><rect x="471.5" y="61.8" width="1" height="1" fill="#51a99e"/><rect x="471.6" y="61.9" width="1" height="1" fill="#51a99e"/><rect x="467.2" y="60.4" width="1" height="1" fill="#51a99e"/><rect x="466.4" y="60.6" width="1" height="1" fill="#51a99e"/><rect x="467.4" y="60.6" width="1" height="1" fill="#51a99e"/><rect x="466.7" y="60.5" width="1" height="1" fill="#51a99e"/><rect x="472.0" y="61.7" width="1" height="1" fill="#51a99e"/><rect x="471.9" y="62.0" width="1" height="1" fill="#51a99e"/><rect x="467.2" y="59.4" width="1" height="1" fill="#51a99e"/><rect x="471.8" y="60.7" width="1" height="1" fill="#51a99e"/><rect x="446.3" y="77.7" width="1" height="1" fill="#52aa9d"/><rect x="446.4" y="77.2" width="1" height="1" fill="#52aa9d"/><rect x="446.3" y="77.9" width="1" height="1" fill="#52aa9d"/><rect x="446.1" y="77.3" width="1" height="1" fill="#52aa9d"/><rect x="468.3" y="64.3" width="1" height="1" fill="#52aa9d"/><rect x="445.7" y="78.5" width="1" height="1" fill="#52aa9d"/><rect x="468.0" y="64.6" width="1" height="1" fill="#52aa9d"/><rect x="445.3" y="77.1" width="1" height="1" fill="#52aa9d"/><rect x="468.2" y="63.9" width="1" height="1" fill="#52aa9d"/><rect x="446.4" y="77.9" width="1" height="1" fill="#52aa9d"/><rect x="443.2" y="69.0" width="1" height="1" fill="#52aa9c"/><rect x="442.8" y="68.5" width="1" height="1" fill="#52aa9c"/><rect x="442.2" y="68.2" width="1" height="1" fill="#52aa9c"/><rect x="442.3" y="69.2" width="1" height="1" fill="#52aa9c"/><rect x="443.3" y="69.3" width="1" height="1" fill="#52aa9c"/><rect x="442.6" y="69.6" width="1" height="1" fill="#52aa9c"/><rect x="468.9" y="59.6" width="1" height="1" fill="#52aa9b"/><rect x="468.0" y="60.5" width="1" height="1" fill="#52aa9b"/><rect x="468.2" y="60.4" width="1" height="1" fill="#52aa9b"/><rect x="468.1" y="59.5" width="1" height="1" fill="#52aa9b"/><rect x="467.8" y="59.5" width="1" height="1" fill="#52aa9b"/><rect x="468.7" y="59.3" width="1" height="1" fill="#52aa9b"/><rect x="467.9" y="60.5" width="1" height="1" fill="#52aa9b"/><rect x="470.5" y="59.3" width="1" height="1" fill="#53aa9b"/><rect x="470.3" y="59.8" width="1" height="1" fill="#53aa9b"/><rect x="469.7" y="60.2" width="1" height="1" fill="#53aa9b"/><rect x="469.6" y="60.1" width="1" height="1" fill="#53aa9b"/><rect x="470.3" y="59.3" width="1" height="1" fill="#53aa9b"/><rect x="469.7" y="60.3" width="1" height="1" fill="#53aa9b"/><rect x="455.4" y="62.6" width="1" height="1" fill="#53ab9a"/><rect x="454.4" y="62.7" width="1" height="1" fill="#53ab9a"/><rect x="454.8" y="62.9" width="1" height="1" fill="#53ab9a"/><rect x="454.5" y="62.5" width="1" height="1" fill="#53ab9a"/><rect x="455.4" y="63.5" width="1" height="1" fill="#53ab9a"/><rect x="454.2" y="62.5" width="1" height="1" fill="#53ab9a"/><rect x="455.1" y="63.4" width="1" height="1" fill="#53ab9a"/><rect x="455.1" y="62.9" width="1" height="1" fill="#53ab9a"/><rect x="454.2" y="63.3" width="1" height="1" fill="#53ab9a"/><rect x="455.1" y="62.2" width="1" height="1" fill="#53ab9a"/><rect x="441.5" y="70.6" width="1" height="1" fill="#53ab99"/><rect x="440.7" y="71.1" width="1" height="1" fill="#53ab99"/><rect x="441.8" y="70.3" width="1" height="1" fill="#53ab99"/><rect x="441.5" y="70.0" width="1" height="1" fill="#53ab99"/><rect x="456.5" y="63.4" width="1" height="1" fill="#54ab98"/><rect x="457.1" y="63.0" width="1" height="1" fill="#54ab98"/><rect x="456.6" y="63.0" width="1" height="1" fill="#54ab98"/><rect x="455.8" y="63.2" width="1" height="1" fill="#54ab98"/><rect x="468.6" y="63.6" width="1" height="1" fill="#54ab97"/><rect x="468.4" y="63.5" width="1" height="1" fill="#54ab97"/><rect x="467.9" y="62.2" width="1" height="1" fill="#54ab97"/><rect x="468.2" y="62.8" width="1" height="1" fill="#54ab97"/><rect x="468.0" y="63.0" width="1" height="1" fill="#54ab97"/><rect x="467.6" y="62.9" width="1" height="1" fill="#54ab97"/><rect x="468.7" y="63.0" width="1" height="1" fill="#54ab97"/><rect x="469.1" y="62.2" width="1" height="1" fill="#54ab97"/><rect x="467.7" y="62.1" width="1" height="1" fill="#54ab97"/><rect x="455.0" y="75.1" width="1" height="1" fill="#55ac95"/><rect x="454.4" y="74.4" width="1" height="1" fill="#55ac95"/><rect x="454.8" y="75.3" width="1" height="1" fill="#55ac95"/><rect x="454.4" y="75.3" width="1" height="1" fill="#55ac95"/><rect x="454.9" y="74.2" width="1" height="1" fill="#55ac95"/><rect x="454.9" y="74.7" width="1" height="1" fill="#55ac95"/><rect x="454.1" y="74.2" width="1" height="1" fill="#55ac95"/><rect x="454.6" y="74.5" width="1" height="1" fill="#55ac95"/><rect x="454.4" y="75.0" width="1" height="1" fill="#55ac95"/><rect x="455.0" y="74.8" width="1" height="1" fill="#55ac95"/><rect x="457.4" y="62.2" width="1" height="1" fill="#55ac94"/><rect x="457.4" y="63.3" width="1" height="1" fill="#55ac94"/><rect x="458.2" y="63.3" width="1" height="1" fill="#55ac94"/><rect x="457.6" y="63.6" width="1" height="1" fill="#55ac94"/><rect x="457.3" y="62.5" width="1" height="1" fill="#55ac94"/><rect x="457.1" y="62.6" width="1" height="1" fill="#55ac94"/><rect x="470.1" y="61.7" width="1" height="1" fill="#55ac94"/><rect x="469.5" y="62.0" width="1" height="1" fill="#55ac94"/><rect x="470.6" y="61.9" width="1" height="1" fill="#55ac94"/><rect x="469.8" y="61.8" width="1" height="1" fill="#55ac94"/><rect x="469.2" y="60.7" width="1" height="1" fill="#55ac94"/><rect x="469.8" y="61.0" width="1" height="1" fill="#55ac94"/><rect x="469.4" y="61.7" width="1" height="1" fill="#55ac94"/><rect x="469.4" y="60.9" width="1" height="1" fill="#55ac94"/><rect x="468.5" y="62.1" width="1" height="1" fill="#56ac94"/><rect x="468.4" y="61.6" width="1" height="1" fill="#56ac94"/><rect x="467.7" y="61.6" width="1" height="1" fill="#56ac94"/><rect x="468.4" y="61.1" width="1" height="1" fill="#56ac94"/><rect x="468.2" y="61.2" width="1" height="1" fill="#56ac94"/><rect x="468.2" y="61.6" width="1" height="1" fill="#56ac94"/><rect x="467.4" y="61.6" width="1" height="1" fill="#56ad92"/><rect x="466.4" y="61.8" width="1" height="1" fill="#56ad92"/><rect x="466.6" y="60.8" width="1" height="1" fill="#56ad92"/><rect x="466.6" y="60.6" width="1" height="1" fill="#56ad92"/><rect x="467.3" y="61.1" width="1" height="1" fill="#56ad92"/><rect x="467.0" y="61.8" width="1" height="1" fill="#56ad92"/><rect x="467.4" y="62.1" width="1" height="1" fill="#56ad92"/><rect x="446.3" y="68.1" width="1" height="1" fill="#56ad91"/><rect x="446.2" y="67.5" width="1" height="1" fill="#56ad91"/><rect x="446.2" y="68.1" width="1" height="1" fill="#56ad91"/><rect x="445.7" y="67.6" width="1" height="1" fill="#56ad91"/><rect x="438.6" y="77.2" width="1" height="1" fill="#57ad91"/><rect x="438.9" y="78.5" width="1" height="1" fill="#57ad91"/><rect x="438.8" y="78.4" width="1" height="1" fill="#57ad91"/><rect x="438.6" y="77.8" width="1" height="1" fill="#57ad91"/><rect x="439.9" y="79.7" width="1" height="1" fill="#57ad91"/><rect x="440.6" y="78.9" width="1" height="1" fill="#57ad91"/><rect x="439.5" y="78.6" width="1" height="1" fill="#57ad91"/><rect x="439.3" y="79.1" width="1" height="1" fill="#57ad91"/><rect x="439.4" y="79.8" width="1" height="1" fill="#57ad91"/><rect x="439.5" y="78.7" width="1" height="1" fill="#57ad91"/><rect x="439.9" y="79.3" width="1" height="1" fill="#57ad91"/><rect x="439.4" y="79.8" width="1" height="1" fill="#57ad91"/><rect x="440.1" y="78.9" width="1" height="1" fill="#57ad91"/><rect x="440.0" y="79.9" width="1" height="1" fill="#57ad91"/><rect x="440.4" y="79.1" width="1" height="1" fill="#57ad91"/><rect x="440.1" y="79.8" width="1" height="1" fill="#57ad91"/><rect x="451.0" y="66.0" width="1" height="1" fill="#57ad90"/><rect x="450.4" y="65.8" width="1" height="1" fill="#57ad90"/><rect x="450.8" y="65.1" width="1" height="1" fill="#57ad90"/><rect x="450.4" y="65.9" width="1" height="1" fill="#57ad90"/><rect x="450.5" y="65.3" width="1" height="1" fill="#57ad90"/><rect x="450.7" y="66.1" width="1" height="1" fill="#57ad90"/><rect x="450.3" y="65.9" width="1" height="1" fill="#57ad90"/><rect x="449.9" y="65.8" width="1" height="1" fill="#57ad90"/><rect x="450.1" y="65.6" width="1" height="1" fill="#57ad90"/><rect x="449.9" y="65.9" width="1" height="1" fill="#57ad90"/><rect x="450.1" y="66.1" width="1" height="1" fill="#57ad90"/><rect x="464.0" y="60.9" width="1" height="1" fill="#58ae8e"/><rect x="463.6" y="61.1" width="1" height="1" fill="#58ae8e"/><rect x="463.7" y="61.1" width="1" height="1" fill="#58ae8e"/><rect x="463.7" y="61.0" width="1" height="1" fill="#58ae8e"/><rect x="464.3" y="60.7" width="1" height="1" fill="#58ae8e"/><rect x="464.1" y="61.6" width="1" height="1" fill="#58ae8e"/><rect x="464.3" y="61.0" width="1" height="1" fill="#58ae8e"/><rect x="464.0" y="61.3" width="1" height="1" fill="#58ae8e"/><rect x="465.9" y="60.6" width="1" height="1" fill="#58ae8d"/><rect x="465.5" y="61.8" width="1" height="1" fill="#58ae8d"/><rect x="465.2" y="61.7" width="1" height="1" fill="#58ae8d"/><rect x="465.3" y="62.1" width="1" height="1" fill="#58ae8d"/><rect x="465.7" y="62.1" width="1" height="1" fill="#58ae8d"/><rect x="458.9" y="63.5" width="1" height="1" fill="#59af8c"/><rect x="458.6" y="62.2" width="1" height="1" fill="#59af8c"/><rect x="460.0" y="63.1" width="1" height="1" fill="#59af8c"/><rect x="459.1" y="62.4" width="1" height="1" fill="#59af8c"/><rect x="459.5" y="62.4" width="1" height="1" fill="#59af8c"/><rect x="458.6" y="62.1" width="1" height="1" fill="#59af8c"/><rect x="460.0" y="63.6" width="1" height="1" fill="#59af8c"/><rect x="438.6" y="76.0" width="1" height="1" fill="#59af8c"/><rect x="438.1" y="76.3" width="1" height="1" fill="#59af8c"/><rect x="438.2" y="77.0" width="1" height="1" fill="#59af8c"/><rect x="438.6" y="76.4" width="1" height="1" fill="#59af8c"/><rect x="438.5" y="75.9" width="1" height="1" fill="#59af8c"/><rect x="438.8" y="77.0" width="1" height="1" fill="#59af8c"/><rect x="438.6" y="76.4" width="1" height="1" fill="#59af8c"/><rect x="459.5" y="71.7" width="1" height="1" fill="#59af8b"/><rect x="458.6" y="71.5" width="1" height="1" fill="#59af8b"/><rect x="460.0" y="71.3" width="1" height="1" fill="#59af8b"/><rect x="459.5" y="71.9" width="1" height="1" fill="#59af8b"/><rect x="459.2" y="72.5" width="1" height="1" fill="#59af8b"/><rect x="459.5" y="71.4" width="1" height="1" fill="#59af8b"/><rect x="459.1" y="71.8" width="1" height="1" fill="#59af8b"/><rect x="459.2" y="71.4" width="1" height="1" fill="#59af8b"/><rect x="459.5" y="72.1" width="1" height="1" fill="#59af8b"/><rect x="466.9" y="66.2" width="1" height="1" fill="#59af8b"/><rect x="466.9" y="66.2" width="1" height="1" fill="#59af8b"/><rect x="466.1" y="65.8" width="1" height="1" fill="#59af8b"/><rect x="466.8" y="66.3" width="1" height="1" fill="#59af8b"/><rect x="466.7" y="65.8" width="1" height="1" fill="#59af8b"/><rect x="466.9" y="65.7" width="1" height="1" fill="#59af8b"/><rect x="466.6" y="65.3" width="1" height="1" fill="#59af8b"/><rect x="466.4" y="65.6" width="1" height="1" fill="#59af8b"/><rect x="466.3" y="66.4" width="1" height="1" fill="#59af8b"/><rect x="466.4" y="66.5" width="1" height="1" fill="#59af8b"/><rect x="467.3" y="65.5" width="1" height="1" fill="#59af8b"/><rect x="467.6" y="65.7" width="1" height="1" fill="#59af8b"/><rect x="466.4" y="65.4" width="1" height="1" fill="#59af8b"/><rect x="466.2" y="66.2" width="1" height="1" fill="#59af8b"/><rect x="466.3" y="66.0" width="1" height="1" fill="#59af8b"/><rect x="466.8" y="62.2" width="1" height="1" fill="#5ab089"/><rect x="467.4" y="62.3" width="1" height="1" fill="#5ab089"/><rect x="466.4" y="63.6" width="1" height="1" fill="#5ab089"/><rect x="466.6" y="62.5" width="1" height="1" fill="#5ab089"/><rect x="466.1" y="62.7" width="1" height="1" fill="#5ab089"/><rect x="467.5" y="63.1" width="1" height="1" fill="#5ab089"/><rect x="466.4" y="63.3" width="1" height="1" fill="#5ab089"/><rect x="460.7" y="62.9" width="1" height="1" fill="#5bb087"/><rect x="460.3" y="62.9" width="1" height="1" fill="#5bb087"/><rect x="460.9" y="62.3" width="1" height="1" fill="#5bb087"/><rect x="460.5" y="63.1" width="1" height="1" fill="#5bb087"/><rect x="461.1" y="63.4" width="1" height="1" fill="#5bb087"/><rect x="460.5" y="62.3" width="1" height="1" fill="#5bb087"/><rect x="460.3" y="62.4" width="1" height="1" fill="#5bb087"/><rect x="461.4" y="63.5" width="1" height="1" fill="#5bb087"/><rect x="461.6" y="62.5" width="1" height="1" fill="#5bb087"/><rect x="439.7" y="73.6" width="1" height="1" fill="#5bb087"/><rect x="439.4" y="73.9" width="1" height="1" fill="#5bb087"/><rect x="453.6" y="64.8" width="1" height="1" fill="#5bb086"/><rect x="452.9" y="65.0" width="1" height="1" fill="#5bb086"/><rect x="452.9" y="64.5" width="1" height="1" fill="#5bb086"/><rect x="453.0" y="65.1" width="1" height="1" fill="#5bb086"/><rect x="464.1" y="67.8" width="1" height="1" fill="#5bb185"/><rect x="464.2" y="67.0" width="1" height="1" fill="#5bb185"/><rect x="464.3" y="67.6" width="1" height="1" fill="#5bb185"/><rect x="463.4" y="66.8" width="1" height="1" fill="#5bb185"/><rect x="463.7" y="66.7" width="1" height="1" fill="#5bb185"/><rect x="464.6" y="67.7" width="1" height="1" fill="#5bb185"/><rect x="448.1" y="76.2" width="1" height="1" fill="#5cb183"/><rect x="446.8" y="75.8" width="1" height="1" fill="#5cb183"/><rect x="447.5" y="76.8" width="1" height="1" fill="#5cb183"/><rect x="446.7" y="76.7" width="1" height="1" fill="#5cb183"/><rect x="448.0" y="76.3" width="1" height="1" fill="#5cb183"/><rect x="447.0" y="77.0" width="1" height="1" fill="#5cb183"/><rect x="452.9" y="74.2" width="1" height="1" fill="#5db281"/><rect x="453.1" y="75.4" width="1" height="1" fill="#5db281"/><rect x="454.1" y="74.1" width="1" height="1" fill="#5db281"/><rect x="453.1" y="74.2" width="1" height="1" fill="#5db281"/><rect x="452.9" y="74.4" width="1" height="1" fill="#5db281"/><rect x="453.8" y="74.4" width="1" height="1" fill="#5db281"/><rect x="453.9" y="74.8" width="1" height="1" fill="#5db281"/><rect x="452.8" y="74.8" width="1" height="1" fill="#5db281"/><rect x="452.8" y="75.0" width="1" height="1" fill="#5db281"/><rect x="460.7" y="70.6" width="1" height="1" fill="#5db281"/><rect x="460.6" y="69.7" width="1" height="1" fill="#5db281"/><rect x="460.7" y="70.1" width="1" height="1" fill="#5db281"/><rect x="460.2" y="71.0" width="1" height="1" fill="#5db281"/><rect x="461.5" y="70.0" width="1" height="1" fill="#5db281"/><rect x="461.3" y="71.1" width="1" height="1" fill="#5db281"/><rect x="460.2" y="70.9" width="1" height="1" fill="#5db281"/><rect x="460.4" y="70.3" width="1" height="1" fill="#5db281"/><rect x="460.1" y="71.0" width="1" height="1" fill="#5db281"/><rect x="462.7" y="69.5" width="1" height="1" fill="#5eb37f"/><rect x="462.3" y="69.1" width="1" height="1" fill="#5eb37f"/><rect x="461.8" y="68.2" width="1" height="1" fill="#5eb37f"/><rect x="462.0" y="68.8" width="1" height="1" fill="#5eb37f"/><rect x="462.6" y="68.9" width="1" height="1" fill="#5eb37f"/><rect x="462.4" y="69.0" width="1" height="1" fill="#5eb37f"/><rect x="463.0" y="69.2" width="1" height="1" fill="#5eb37f"/><rect x="461.9" y="69.1" width="1" height="1" fill="#5eb37f"/><rect x="463.0" y="69.3" width="1" height="1" fill="#5eb37f"/><rect x="462.6" y="69.6" width="1" height="1" fill="#5eb37f"/><rect x="462.9" y="63.0" width="1" height="1" fill="#5eb37f"/><rect x="463.0" y="62.2" width="1" height="1" fill="#5eb37f"/><rect x="463.0" y="63.2" width="1" height="1" fill="#5eb37f"/><rect x="462.0" y="62.9" width="1" height="1" fill="#5eb37f"/><rect x="462.8" y="62.5" width="1" height="1" fill="#5eb37f"/><rect x="462.2" y="62.5" width="1" height="1" fill="#5eb37f"/><rect x="467.2" y="65.0" width="1" height="1" fill="#5fb37e"/><rect x="466.2" y="64.2" width="1" height="1" fill="#5fb37e"/><rect x="467.4" y="63.6" width="1" height="1" fill="#5fb37e"/><rect x="466.8" y="63.9" width="1" height="1" fill="#5fb37e"/><rect x="467.0" y="64.2" width="1" height="1" fill="#5fb37e"/><rect x="467.5" y="64.0" width="1" height="1" fill="#5fb37e"/><rect x="466.3" y="64.4" width="1" height="1" fill="#5fb37e"/><rect x="466.9" y="64.3" width="1" height="1" fill="#5fb37e"/><rect x="466.7" y="65.0" width="1" height="1" fill="#5fb37e"/><rect x="467.6" y="64.7" width="1" height="1" fill="#5fb37e"/><rect x="465.3" y="65.6" width="1" height="1" fill="#60b47b"/><rect x="465.0" y="65.1" width="1" height="1" fill="#60b47b"/><rect x="465.4" y="65.1" width="1" height="1" fill="#60b47b"/><rect x="465.3" y="66.3" width="1" height="1" fill="#60b47b"/><rect x="465.0" y="66.6" width="1" height="1" fill="#60b47b"/><rect x="465.1" y="66.4" width="1" height="1" fill="#60b47b"/><rect x="466.1" y="65.9" width="1" height="1" fill="#60b47b"/><rect x="464.8" y="65.4" width="1" height="1" fill="#60b47b"/><rect x="465.2" y="65.9" width="1" height="1" fill="#60b47b"/><rect x="465.6" y="65.1" width="1" height="1" fill="#60b47b"/><rect x="444.4" y="78.3" width="1" height="1" fill="#60b47a"/><rect x="444.5" y="78.1" width="1" height="1" fill="#60b47a"/><rect x="444.8" y="77.2" width="1" height="1" fill="#60b47a"/><rect x="444.7" y="77.8" width="1" height="1" fill="#60b47a"/><rect x="444.2" y="77.1" width="1" height="1" fill="#60b47a"/><rect x="444.0" y="78.3" width="1" height="1" fill="#60b47a"/><rect x="465.7" y="63.2" width="1" height="1" fill="#60b47a"/><rect x="465.8" y="62.3" width="1" height="1" fill="#60b47a"/><rect x="465.1" y="62.6" width="1" height="1" fill="#60b47a"/><rect x="464.8" y="63.2" width="1" height="1" fill="#60b47a"/><rect x="464.9" y="62.9" width="1" height="1" fill="#60b47a"/><rect x="465.9" y="63.1" width="1" height="1" fill="#60b47a"/><rect x="465.3" y="63.6" width="1" height="1" fill="#60b47a"/><rect x="457.1" y="73.3" width="1" height="1" fill="#61b578"/><rect x="455.8" y="73.4" width="1" height="1" fill="#61b578"/><rect x="456.6" y="73.3" width="1" height="1" fill="#61b578"/><rect x="455.9" y="72.9" width="1" height="1" fill="#61b578"/><rect x="455.9" y="73.8" width="1" height="1" fill="#61b578"/><rect x="456.9" y="72.6" width="1" height="1" fill="#61b578"/><rect x="456.7" y="73.0" width="1" height="1" fill="#61b578"/><rect x="456.9" y="73.6" width="1" height="1" fill="#61b578"/><rect x="456.4" y="73.0" width="1" height="1" fill="#61b578"/><rect x="455.7" y="73.5" width="1" height="1" fill="#61b578"/><rect x="464.4" y="63.1" width="1" height="1" fill="#62b576"/><rect x="451.8" y="75.1" width="1" height="1" fill="#62b576"/><rect x="464.1" y="62.7" width="1" height="1" fill="#62b576"/><rect x="452.3" y="74.8" width="1" height="1" fill="#62b576"/><rect x="451.7" y="75.3" width="1" height="1" fill="#62b576"/><rect x="464.5" y="63.5" width="1" height="1" fill="#62b576"/><rect x="452.2" y="75.5" width="1" height="1" fill="#62b576"/><rect x="452.2" y="75.4" width="1" height="1" fill="#62b576"/><rect x="464.0" y="63.0" width="1" height="1" fill="#62b576"/><rect x="451.7" y="74.8" width="1" height="1" fill="#62b576"/><rect x="451.4" y="75.2" width="1" height="1" fill="#62b576"/><rect x="463.2" y="63.5" width="1" height="1" fill="#62b576"/><rect x="464.5" y="62.9" width="1" height="1" fill="#62b576"/><rect x="463.9" y="62.6" width="1" height="1" fill="#62b576"/><rect x="463.2" y="62.7" width="1" height="1" fill="#62b576"/><rect x="463.8" y="62.6" width="1" height="1" fill="#62b576"/><rect x="463.8" y="63.0" width="1" height="1" fill="#62b576"/><rect x="451.4" y="74.4" width="1" height="1" fill="#62b576"/><rect x="452.3" y="75.3" width="1" height="1" fill="#62b576"/><rect x="452.2" y="74.3" width="1" height="1" fill="#62b576"/><rect x="463.5" y="62.5" width="1" height="1" fill="#62b576"/><rect x="463.7" y="62.5" width="1" height="1" fill="#62b576"/><rect x="451.8" y="66.1" width="1" height="1" fill="#62b575"/><rect x="451.2" y="65.4" width="1" height="1" fill="#62b575"/><rect x="452.4" y="66.2" width="1" height="1" fill="#62b575"/><rect x="451.7" y="65.2" width="1" height="1" fill="#62b575"/><rect x="451.5" y="65.8" width="1" height="1" fill="#62b575"/><rect x="452.2" y="66.2" width="1" height="1" fill="#62b575"/><rect x="452.1" y="65.8" width="1" height="1" fill="#62b575"/><rect x="451.6" y="65.8" width="1" height="1" fill="#62b575"/><rect x="451.6" y="65.1" width="1" height="1" fill="#62b575"/><rect x="452.3" y="65.4" width="1" height="1" fill="#62b575"/><rect x="452.5" y="66.3" width="1" height="1" fill="#62b575"/><rect x="451.7" y="65.6" width="1" height="1" fill="#62b575"/><rect x="454.6" y="63.8" width="1" height="1" fill="#63b672"/><rect x="454.2" y="64.2" width="1" height="1" fill="#63b672"/><rect x="455.0" y="64.7" width="1" height="1" fill="#63b672"/><rect x="455.6" y="63.7" width="1" height="1" fill="#63b672"/><rect x="455.0" y="64.6" width="1" height="1" fill="#63b672"/><rect x="455.5" y="65.0" width="1" height="1" fill="#63b672"/><rect x="454.9" y="64.1" width="1" height="1" fill="#63b672"/><rect x="454.8" y="63.8" width="1" height="1" fill="#63b672"/><rect x="455.4" y="64.4" width="1" height="1" fill="#63b672"/><rect x="455.3" y="63.8" width="1" height="1" fill="#63b672"/><rect x="454.6" y="64.5" width="1" height="1" fill="#63b672"/><rect x="454.7" y="63.8" width="1" height="1" fill="#63b672"/><rect x="456.5" y="64.9" width="1" height="1" fill="#63b672"/><rect x="456.1" y="64.3" width="1" height="1" fill="#63b672"/><rect x="456.6" y="64.1" width="1" height="1" fill="#63b672"/><rect x="456.9" y="64.2" width="1" height="1" fill="#63b672"/><rect x="457.0" y="64.7" width="1" height="1" fill="#63b672"/><rect x="456.5" y="65.1" width="1" height="1" fill="#63b672"/><rect x="456.5" y="64.8" width="1" height="1" fill="#63b672"/><rect x="456.5" y="64.6" width="1" height="1" fill="#63b672"/><rect x="450.0" y="75.4" width="1" height="1" fill="#65b76f"/><rect x="450.0" y="75.3" width="1" height="1" fill="#65b76f"/><rect x="450.8" y="75.6" width="1" height="1" fill="#65b76f"/><rect x="450.7" y="74.7" width="1" height="1" fill="#65b76f"/><rect x="450.1" y="75.1" width="1" height="1" fill="#65b76f"/><rect x="450.7" y="74.4" width="1" height="1" fill="#65b76f"/><rect x="450.7" y="75.2" width="1" height="1" fill="#65b76f"/><rect x="450.0" y="74.8" width="1" height="1" fill="#65b76f"/><rect x="458.1" y="71.2" width="1" height="1" fill="#65b76e"/><rect x="458.0" y="72.6" width="1" height="1" fill="#65b76e"/><rect x="457.8" y="71.6" width="1" height="1" fill="#65b76e"/><rect x="457.2" y="71.2" width="1" height="1" fill="#65b76e"/><rect x="458.1" y="72.0" width="1" height="1" fill="#65b76e"/><rect x="458.3" y="72.6" width="1" height="1" fill="#65b76e"/><rect x="447.9" y="66.7" width="1" height="1" fill="#65b86e"/><rect x="446.8" y="67.4" width="1" height="1" fill="#65b86e"/><rect x="447.1" y="66.7" width="1" height="1" fill="#65b86e"/><rect x="447.5" y="67.5" width="1" height="1" fill="#65b86e"/><rect x="447.3" y="67.5" width="1" height="1" fill="#65b86e"/><rect x="447.1" y="67.9" width="1" height="1" fill="#65b86e"/><rect x="448.0" y="66.8" width="1" height="1" fill="#65b86e"/><rect x="447.7" y="67.5" width="1" height="1" fill="#65b86e"/><rect x="447.4" y="67.5" width="1" height="1" fill="#65b86e"/><rect x="447.4" y="67.4" width="1" height="1" fill="#65b86e"/><rect x="460.0" y="69.9" width="1" height="1" fill="#66b86c"/><rect x="458.9" y="70.8" width="1" height="1" fill="#66b86c"/><rect x="459.0" y="70.5" width="1" height="1" fill="#66b86c"/><rect x="459.6" y="69.9" width="1" height="1" fill="#66b86c"/><rect x="459.5" y="70.4" width="1" height="1" fill="#66b86c"/><rect x="459.8" y="71.0" width="1" height="1" fill="#66b86c"/><rect x="458.7" y="70.7" width="1" height="1" fill="#66b86c"/><rect x="460.1" y="70.3" width="1" height="1" fill="#66b86c"/><rect x="460.0" y="69.9" width="1" height="1" fill="#66b86c"/><rect x="465.5" y="64.2" width="1" height="1" fill="#66b86b"/><rect x="465.3" y="65.0" width="1" height="1" fill="#66b86b"/><rect x="465.4" y="64.0" width="1" height="1" fill="#66b86b"/><rect x="464.9" y="64.4" width="1" height="1" fill="#66b86b"/><rect x="465.3" y="65.1" width="1" height="1" fill="#66b86b"/><rect x="465.9" y="64.5" width="1" height="1" fill="#66b86b"/><rect x="464.7" y="64.4" width="1" height="1" fill="#66b86b"/><rect x="465.2" y="64.9" width="1" height="1" fill="#66b86b"/><rect x="465.3" y="64.8" width="1" height="1" fill="#66b86b"/><rect x="466.1" y="63.8" width="1" height="1" fill="#66b86b"/><rect x="465.7" y="64.7" width="1" height="1" fill="#66b86b"/><rect x="458.0" y="64.7" width="1" height="1" fill="#67b96a"/><rect x="458.5" y="64.6" width="1" height="1" fill="#67b96a"/><rect x="457.4" y="63.9" width="1" height="1" fill="#67b96a"/><rect x="457.6" y="64.9" width="1" height="1" fill="#67b96a"/><rect x="458.6" y="64.0" width="1" height="1" fill="#67b96a"/><rect x="458.5" y="65.0" width="1" height="1" fill="#67b96a"/><rect x="458.5" y="64.6" width="1" height="1" fill="#67b96a"/><rect x="457.8" y="64.1" width="1" height="1" fill="#67b96a"/><rect x="457.9" y="64.8" width="1" height="1" fill="#67b96a"/><rect x="463.9" y="65.7" width="1" height="1" fill="#67b968"/><rect x="463.6" y="65.4" width="1" height="1" fill="#67b968"/><rect x="464.3" y="66.4" width="1" height="1" fill="#67b968"/><rect x="464.4" y="65.8" width="1" height="1" fill="#67b968"/><rect x="448.6" y="74.7" width="1" height="1" fill="#69ba64"/><rect x="448.5" y="74.6" width="1" height="1" fill="#69ba64"/><rect x="448.2" y="75.1" width="1" height="1" fill="#69ba64"/><rect x="449.4" y="74.2" width="1" height="1" fill="#69ba64"/><rect x="449.1" y="75.6" width="1" height="1" fill="#69ba64"/><rect x="448.9" y="75.0" width="1" height="1" fill="#69ba64"/><rect x="449.1" y="74.4" width="1" height="1" fill="#69ba64"/><rect x="449.2" y="74.6" width="1" height="1" fill="#69ba64"/><rect x="448.7" y="75.1" width="1" height="1" fill="#69ba64"/><rect x="448.5" y="74.4" width="1" height="1" fill="#69ba64"/><rect x="449.1" y="74.7" width="1" height="1" fill="#69ba64"/><rect x="463.9" y="64.5" width="1" height="1" fill="#6abb62"/><rect x="463.4" y="64.9" width="1" height="1" fill="#6abb62"/><rect x="463.8" y="64.9" width="1" height="1" fill="#6abb62"/><rect x="463.8" y="63.7" width="1" height="1" fill="#6abb62"/><rect x="463.6" y="64.2" width="1" height="1" fill="#6abb62"/><rect x="464.2" y="64.9" width="1" height="1" fill="#6abb62"/><rect x="463.2" y="65.0" width="1" height="1" fill="#6abb62"/><rect x="464.4" y="63.7" width="1" height="1" fill="#6abb62"/><rect x="464.4" y="64.6" width="1" height="1" fill="#6abb62"/><rect x="463.8" y="64.6" width="1" height="1" fill="#6abb62"/><rect x="452.6" y="66.5" width="1" height="1" fill="#6abb61"/><rect x="453.1" y="66.2" width="1" height="1" fill="#6abb61"/><rect x="453.1" y="66.2" width="1" height="1" fill="#6abb61"/><rect x="452.6" y="65.7" width="1" height="1" fill="#6abb61"/><rect x="453.0" y="66.1" width="1" height="1" fill="#6abb61"/><rect x="453.6" y="65.4" width="1" height="1" fill="#6abb61"/><rect x="453.2" y="65.4" width="1" height="1" fill="#6abb61"/><rect x="453.5" y="66.5" width="1" height="1" fill="#6abb61"/><rect x="453.8" y="65.5" width="1" height="1" fill="#6abb61"/><rect x="454.1" y="65.5" width="1" height="1" fill="#6abb61"/><rect x="460.1" y="68.8" width="1" height="1" fill="#6bbb61"/><rect x="460.9" y="69.4" width="1" height="1" fill="#6bbb61"/><rect x="460.7" y="68.6" width="1" height="1" fill="#6bbb61"/><rect x="460.7" y="69.0" width="1" height="1" fill="#6bbb61"/><rect x="460.3" y="69.2" width="1" height="1" fill="#6bbb61"/><rect x="460.5" y="69.2" width="1" height="1" fill="#6bbb61"/><rect x="461.3" y="68.7" width="1" height="1" fill="#6bbb61"/><rect x="460.4" y="69.6" width="1" height="1" fill="#6bbb61"/><rect x="443.5" y="77.1" width="1" height="1" fill="#6bbc5f"/><rect x="442.4" y="77.5" width="1" height="1" fill="#6bbc5f"/><rect x="442.9" y="77.9" width="1" height="1" fill="#6bbc5f"/><rect x="443.0" y="77.4" width="1" height="1" fill="#6bbc5f"/><rect x="442.3" y="77.5" width="1" height="1" fill="#6bbc5f"/><rect x="442.2" y="77.7" width="1" height="1" fill="#6bbc5f"/><rect x="449.5" y="66.8" width="1" height="1" fill="#6cbd5d"/><rect x="449.0" y="67.8" width="1" height="1" fill="#6cbd5d"/><rect x="449.3" y="67.5" width="1" height="1" fill="#6cbd5d"/><rect x="449.3" y="66.8" width="1" height="1" fill="#6cbd5d"/><rect x="448.9" y="67.8" width="1" height="1" fill="#6cbd5d"/><rect x="448.1" y="66.9" width="1" height="1" fill="#6cbd5d"/><rect x="448.5" y="67.7" width="1" height="1" fill="#6cbd5d"/><rect x="449.0" y="68.0" width="1" height="1" fill="#6cbd5d"/><rect x="449.5" y="66.9" width="1" height="1" fill="#6cbd5d"/><rect x="449.5" y="67.8" width="1" height="1" fill="#6cbd5d"/><rect x="449.2" y="67.9" width="1" height="1" fill="#6cbd5d"/><rect x="449.0" y="67.2" width="1" height="1" fill="#6cbd5d"/><rect x="449.3" y="66.6" width="1" height="1" fill="#6cbd5d"/><rect x="455.1" y="65.9" width="1" height="1" fill="#6cbd5c"/><rect x="454.9" y="66.2" width="1" height="1" fill="#6cbd5c"/><rect x="455.4" y="65.4" width="1" height="1" fill="#6cbd5c"/><rect x="454.7" y="66.3" width="1" height="1" fill="#6cbd5c"/><rect x="454.4" y="65.8" width="1" height="1" fill="#6cbd5c"/><rect x="454.5" y="65.2" width="1" height="1" fill="#6cbd5c"/><rect x="454.7" y="66.5" width="1" height="1" fill="#6cbd5c"/><rect x="454.3" y="66.3" width="1" height="1" fill="#6cbd5c"/><rect x="454.4" y="66.1" width="1" height="1" fill="#6cbd5c"/><rect x="455.5" y="65.9" width="1" height="1" fill="#6cbd5c"/><rect x="454.6" y="66.4" width="1" height="1" fill="#6cbd5c"/><rect x="455.3" y="65.2" width="1" height="1" fill="#6cbd5c"/><rect x="454.3" y="66.1" width="1" height="1" fill="#6cbd5c"/><rect x="456.5" y="65.7" width="1" height="1" fill="#6dbd5c"/><rect x="456.2" y="65.8" width="1" height="1" fill="#6dbd5c"/><rect x="457.0" y="66.3" width="1" height="1" fill="#6dbd5c"/><rect x="455.8" y="65.2" width="1" height="1" fill="#6dbd5c"/><rect x="456.3" y="66.5" width="1" height="1" fill="#6dbd5c"/><rect x="457.0" y="65.8" width="1" height="1" fill="#6dbd5c"/><rect x="456.4" y="66.5" width="1" height="1" fill="#6dbd5c"/><rect x="455.7" y="65.2" width="1" height="1" fill="#6dbd5c"/><rect x="454.3" y="73.9" width="1" height="1" fill="#6dbd5b"/><rect x="454.6" y="73.6" width="1" height="1" fill="#6dbd5b"/><rect x="455.0" y="73.5" width="1" height="1" fill="#6dbd5b"/><rect x="454.3" y="74.0" width="1" height="1" fill="#6dbd5b"/><rect x="454.5" y="73.8" width="1" height="1" fill="#6dbd5b"/><rect x="454.5" y="74.0" width="1" height="1" fill="#6dbd5b"/><rect x="455.1" y="73.2" width="1" height="1" fill="#6dbd5b"/><rect x="454.4" y="73.2" width="1" height="1" fill="#6dbd5b"/><rect x="454.5" y="73.5" width="1" height="1" fill="#6dbd5b"/><rect x="454.6" y="72.9" width="1" height="1" fill="#6dbd5b"/><rect x="455.4" y="73.1" width="1" height="1" fill="#6dbd5b"/><rect x="454.9" y="74.0" width="1" height="1" fill="#6dbd5b"/><rect x="463.0" y="68.0" width="1" height="1" fill="#6dbd5b"/><rect x="461.9" y="67.6" width="1" height="1" fill="#6dbd5b"/><rect x="462.8" y="68.1" width="1" height="1" fill="#6dbd5b"/><rect x="462.5" y="67.0" width="1" height="1" fill="#6dbd5b"/><rect x="462.4" y="67.3" width="1" height="1" fill="#6dbd5b"/><rect x="462.7" y="67.8" width="1" height="1" fill="#6dbd5b"/><rect x="461.6" y="67.5" width="1" height="1" fill="#6dbd5b"/><rect x="461.6" y="67.3" width="1" height="1" fill="#6dbd5b"/><rect x="462.9" y="67.1" width="1" height="1" fill="#6dbd5b"/><rect x="462.0" y="67.7" width="1" height="1" fill="#6dbd5b"/><rect x="444.9" y="68.8" width="1" height="1" fill="#6ebe59"/><rect x="444.8" y="68.7" width="1" height="1" fill="#6ebe59"/><rect x="443.9" y="69.0" width="1" height="1" fill="#6ebe59"/><rect x="443.9" y="69.1" width="1" height="1" fill="#6ebe59"/><rect x="445.0" y="69.2" width="1" height="1" fill="#6ebe59"/><rect x="444.6" y="69.0" width="1" height="1" fill="#6ebe59"/><rect x="444.9" y="68.9" width="1" height="1" fill="#6ebe59"/><rect x="443.8" y="69.3" width="1" height="1" fill="#6ebe59"/><rect x="459.2" y="64.2" width="1" height="1" fill="#6fbe59"/><rect x="460.0" y="64.6" width="1" height="1" fill="#6fbe59"/><rect x="458.7" y="65.0" width="1" height="1" fill="#6fbe59"/><rect x="459.1" y="64.5" width="1" height="1" fill="#6fbe59"/><rect x="459.1" y="64.9" width="1" height="1" fill="#6fbe59"/><rect x="459.9" y="64.6" width="1" height="1" fill="#6fbe59"/><rect x="459.2" y="64.2" width="1" height="1" fill="#6fbe59"/><rect x="458.9" y="63.9" width="1" height="1" fill="#6fbe59"/><rect x="459.1" y="64.1" width="1" height="1" fill="#6fbe59"/><rect x="459.3" y="63.9" width="1" height="1" fill="#6fbe59"/><rect x="462.9" y="64.6" width="1" height="1" fill="#70be58"/><rect x="462.5" y="64.0" width="1" height="1" fill="#70be58"/><rect x="462.6" y="64.3" width="1" height="1" fill="#70be58"/><rect x="462.8" y="64.9" width="1" height="1" fill="#70be58"/><rect x="462.8" y="64.2" width="1" height="1" fill="#70be58"/><rect x="462.3" y="63.9" width="1" height="1" fill="#70be58"/><rect x="462.3" y="64.1" width="1" height="1" fill="#70be58"/><rect x="462.5" y="64.5" width="1" height="1" fill="#70be58"/><rect x="462.7" y="65.1" width="1" height="1" fill="#70be58"/><rect x="461.7" y="64.6" width="1" height="1" fill="#70be58"/><rect x="458.3" y="70.8" width="1" height="1" fill="#71be58"/><rect x="457.2" y="70.3" width="1" height="1" fill="#71be58"/><rect x="450.3" y="66.7" width="1" height="1" fill="#71be58"/><rect x="458.1" y="71.0" width="1" height="1" fill="#71be58"/><rect x="458.2" y="70.5" width="1" height="1" fill="#71be58"/><rect x="450.9" y="67.7" width="1" height="1" fill="#71be58"/><rect x="451.0" y="67.1" width="1" height="1" fill="#71be58"/><rect x="457.5" y="71.0" width="1" height="1" fill="#71be58"/><rect x="450.8" y="66.8" width="1" height="1" fill="#71be58"/><rect x="450.6" y="67.1" width="1" height="1" fill="#71be58"/><rect x="458.3" y="70.4" width="1" height="1" fill="#71be58"/><rect x="450.3" y="67.5" width="1" height="1" fill="#71be58"/><rect x="457.2" y="70.1" width="1" height="1" fill="#71be58"/><rect x="458.5" y="70.1" width="1" height="1" fill="#71be58"/><rect x="458.3" y="69.8" width="1" height="1" fill="#71be58"/><rect x="459.3" y="69.6" width="1" height="1" fill="#74be57"/><rect x="459.4" y="69.3" width="1" height="1" fill="#74be57"/><rect x="458.7" y="69.6" width="1" height="1" fill="#74be57"/><rect x="459.9" y="68.4" width="1" height="1" fill="#74be57"/><rect x="460.0" y="68.6" width="1" height="1" fill="#74be57"/><rect x="459.1" y="69.3" width="1" height="1" fill="#74be57"/><rect x="459.5" y="68.5" width="1" height="1" fill="#74be57"/><rect x="458.9" y="69.0" width="1" height="1" fill="#74be57"/><rect x="460.0" y="68.9" width="1" height="1" fill="#74be57"/><rect x="459.9" y="69.0" width="1" height="1" fill="#74be57"/><rect x="459.2" y="69.1" width="1" height="1" fill="#74be57"/><rect x="460.7" y="64.7" width="1" height="1" fill="#76be56"/><rect x="460.5" y="65.0" width="1" height="1" fill="#76be56"/><rect x="460.5" y="64.3" width="1" height="1" fill="#76be56"/><rect x="461.6" y="65.1" width="1" height="1" fill="#76be56"/><rect x="460.7" y="63.8" width="1" height="1" fill="#76be56"/><rect x="461.2" y="64.6" width="1" height="1" fill="#76be56"/><rect x="461.0" y="64.8" width="1" height="1" fill="#76be56"/><rect x="461.3" y="64.6" width="1" height="1" fill="#76be56"/><rect x="460.5" y="64.1" width="1" height="1" fill="#76be56"/><rect x="455.9" y="68.0" width="1" height="1" fill="#76be56"/><rect x="455.7" y="68.0" width="1" height="1" fill="#76be56"/><rect x="456.1" y="66.8" width="1" height="1" fill="#76be56"/><rect x="453.6" y="73.2" width="1" height="1" fill="#76be56"/><rect x="452.6" y="73.6" width="1" height="1" fill="#76be56"/><rect x="453.8" y="72.6" width="1" height="1" fill="#76be56"/><rect x="456.8" y="67.9" width="1" height="1" fill="#76be56"/><rect x="453.9" y="73.9" width="1" height="1" fill="#76be56"/><rect x="452.8" y="73.3" width="1" height="1" fill="#76be56"/><rect x="456.4" y="67.4" width="1" height="1" fill="#76be56"/><rect x="453.6" y="73.1" width="1" height="1" fill="#76be56"/><rect x="453.0" y="73.0" width="1" height="1" fill="#76be56"/><rect x="457.0" y="67.0" width="1" height="1" fill="#76be56"/><rect x="453.9" y="73.0" width="1" height="1" fill="#76be56"/><rect x="452.6" y="72.9" width="1" height="1" fill="#76be56"/><rect x="441.3" y="71.7" width="1" height="1" fill="#77be56"/><rect x="442.0" y="71.1" width="1" height="1" fill="#77be56"/><rect x="440.9" y="72.3" width="1" height="1" fill="#77be56"/><rect x="442.0" y="71.2" width="1" height="1" fill="#77be56"/><rect x="442.1" y="72.3" width="1" height="1" fill="#77be56"/><rect x="441.2" y="72.5" width="1" height="1" fill="#77be56"/><rect x="440.9" y="72.6" width="1" height="1" fill="#77be56"/><rect x="441.8" y="72.0" width="1" height="1" fill="#77be56"/><rect x="441.9" y="71.8" width="1" height="1" fill="#77be56"/><rect x="439.2" y="78.0" width="1" height="1" fill="#79bf55"/><rect x="440.4" y="77.9" width="1" height="1" fill="#79bf55"/><rect x="439.9" y="78.1" width="1" height="1" fill="#79bf55"/><rect x="439.7" y="77.3" width="1" height="1" fill="#79bf55"/><rect x="440.5" y="77.2" width="1" height="1" fill="#79bf55"/><rect x="439.9" y="78.4" width="1" height="1" fill="#79bf55"/><rect x="440.5" y="77.2" width="1" height="1" fill="#79bf55"/><rect x="440.2" y="77.5" width="1" height="1" fill="#79bf55"/><rect x="439.7" y="77.7" width="1" height="1" fill="#79bf55"/><rect x="440.5" y="78.3" width="1" height="1" fill="#79bf55"/><rect x="440.4" y="78.3" width="1" height="1" fill="#79bf55"/><rect x="440.1" y="77.1" width="1" height="1" fill="#79bf55"/><rect x="440.6" y="77.8" width="1" height="1" fill="#79bf55"/><rect x="439.8" y="77.8" width="1" height="1" fill="#79bf55"/><rect x="440.2" y="78.1" width="1" height="1" fill="#79bf55"/><rect x="440.4" y="78.3" width="1" height="1" fill="#79bf55"/><rect x="458.6" y="68.6" width="1" height="1" fill="#7abf55"/><rect x="457.9" y="68.4" width="1" height="1" fill="#7abf55"/><rect x="457.5" y="68.3" width="1" height="1" fill="#7abf55"/><rect x="458.6" y="68.3" width="1" height="1" fill="#7abf55"/><rect x="458.5" y="68.5" width="1" height="1" fill="#7abf55"/><rect x="457.5" y="69.4" width="1" height="1" fill="#7abf55"/><rect x="457.4" y="69.1" width="1" height="1" fill="#7abf55"/><rect x="457.1" y="65.7" width="1" height="1" fill="#7bbf54"/><rect x="457.3" y="65.4" width="1" height="1" fill="#7bbf54"/><rect x="457.5" y="66.2" width="1" height="1" fill="#7bbf54"/><rect x="457.9" y="65.4" width="1" height="1" fill="#7bbf54"/><rect x="458.2" y="66.4" width="1" height="1" fill="#7bbf54"/><rect x="457.6" y="65.8" width="1" height="1" fill="#7bbf54"/><rect x="457.1" y="66.2" width="1" height="1" fill="#7bbf54"/><rect x="457.3" y="65.4" width="1" height="1" fill="#7bbf54"/><rect x="457.2" y="65.2" width="1" height="1" fill="#7bbf54"/><rect x="457.8" y="66.2" width="1" height="1" fill="#7bbf54"/><rect x="457.3" y="65.9" width="1" height="1" fill="#7bbf54"/><rect x="457.4" y="66.3" width="1" height="1" fill="#7bbf54"/><rect x="451.6" y="67.6" width="1" height="1" fill="#7bbf54"/><rect x="451.9" y="66.6" width="1" height="1" fill="#7bbf54"/><rect x="452.1" y="67.4" width="1" height="1" fill="#7bbf54"/><rect x="451.3" y="67.8" width="1" height="1" fill="#7bbf54"/><rect x="451.9" y="67.2" width="1" height="1" fill="#7bbf54"/><rect x="451.2" y="67.0" width="1" height="1" fill="#7bbf54"/><rect x="451.5" y="67.6" width="1" height="1" fill="#7bbf54"/><rect x="452.2" y="68.1" width="1" height="1" fill="#7bbf54"/><rect x="451.8" y="67.1" width="1" height="1" fill="#7bbf54"/><rect x="451.5" y="66.9" width="1" height="1" fill="#7bbf54"/><rect x="456.1" y="71.6" width="1" height="1" fill="#7cbf54"/><rect x="456.9" y="71.7" width="1" height="1" fill="#7cbf54"/><rect x="457.1" y="72.4" width="1" height="1" fill="#7cbf54"/><rect x="456.3" y="72.4" width="1" height="1" fill="#7cbf54"/><rect x="456.0" y="71.3" width="1" height="1" fill="#7cbf54"/><rect x="456.9" y="72.4" width="1" height="1" fill="#7cbf54"/><rect x="455.8" y="72.3" width="1" height="1" fill="#7cbf54"/><rect x="456.7" y="72.0" width="1" height="1" fill="#7cbf54"/><rect x="456.8" y="72.5" width="1" height="1" fill="#7cbf54"/><rect x="456.5" y="71.5" width="1" height="1" fill="#7cbf54"/><rect x="455.7" y="71.5" width="1" height="1" fill="#7cbf54"/><rect x="456.8" y="71.3" width="1" height="1" fill="#7cbf54"/><rect x="455.7" y="71.3" width="1" height="1" fill="#7cbf54"/><rect x="454.3" y="67.8" width="1" height="1" fill="#7dbf54"/><rect x="454.1" y="67.5" width="1" height="1" fill="#7dbf54"/><rect x="454.6" y="67.2" width="1" height="1" fill="#7dbf54"/><rect x="454.5" y="67.8" width="1" height="1" fill="#7dbf54"/><rect x="454.6" y="67.0" width="1" height="1" fill="#7dbf54"/><rect x="454.3" y="67.1" width="1" height="1" fill="#7dbf54"/><rect x="454.5" y="67.9" width="1" height="1" fill="#7dbf54"/><rect x="455.0" y="67.9" width="1" height="1" fill="#7dbf54"/><rect x="455.4" y="67.5" width="1" height="1" fill="#7dbf54"/><rect x="451.8" y="72.9" width="1" height="1" fill="#7ebf53"/><rect x="452.6" y="72.6" width="1" height="1" fill="#7ebf53"/><rect x="452.6" y="73.5" width="1" height="1" fill="#7ebf53"/><rect x="452.3" y="73.3" width="1" height="1" fill="#7ebf53"/><rect x="451.7" y="73.0" width="1" height="1" fill="#7ebf53"/><rect x="451.8" y="73.0" width="1" height="1" fill="#7ebf53"/><rect x="451.3" y="73.0" width="1" height="1" fill="#7ebf53"/><rect x="451.1" y="73.4" width="1" height="1" fill="#7ebf53"/><rect x="451.7" y="72.9" width="1" height="1" fill="#7ebf53"/><rect x="452.0" y="74.0" width="1" height="1" fill="#7ebf53"/><rect x="451.9" y="73.3" width="1" height="1" fill="#7ebf53"/><rect x="451.5" y="73.1" width="1" height="1" fill="#7ebf53"/><rect x="451.2" y="73.5" width="1" height="1" fill="#7ebf53"/><rect x="452.0" y="73.2" width="1" height="1" fill="#7ebf53"/><rect x="440.3" y="75.1" width="1" height="1" fill="#7ebf53"/><rect x="440.5" y="74.5" width="1" height="1" fill="#7ebf53"/><rect x="439.3" y="75.0" width="1" height="1" fill="#7ebf53"/><rect x="439.1" y="74.6" width="1" height="1" fill="#7ebf53"/><rect x="439.9" y="74.4" width="1" height="1" fill="#7ebf53"/><rect x="440.3" y="75.4" width="1" height="1" fill="#7ebf53"/><rect x="439.5" y="74.4" width="1" height="1" fill="#7ebf53"/><rect x="439.4" y="74.4" width="1" height="1" fill="#7ebf53"/><rect x="439.5" y="75.5" width="1" height="1" fill="#7ebf53"/><rect x="439.2" y="75.0" width="1" height="1" fill="#7ebf53"/><rect x="440.0" y="75.1" width="1" height="1" fill="#7ebf53"/><rect x="440.5" y="75.2" width="1" height="1" fill="#7ebf53"/><rect x="440.5" y="74.1" width="1" height="1" fill="#7ebf53"/><rect x="462.1" y="66.2" width="1" height="1" fill="#7fbf53"/><rect x="462.4" y="65.8" width="1" height="1" fill="#7fbf53"/><rect x="462.9" y="66.1" width="1" height="1" fill="#7fbf53"/><rect x="462.6" y="66.0" width="1" height="1" fill="#7fbf53"/><rect x="462.3" y="65.6" width="1" height="1" fill="#7fbf53"/><rect x="463.0" y="65.8" width="1" height="1" fill="#7fbf53"/><rect x="462.9" y="65.3" width="1" height="1" fill="#7fbf53"/><rect x="463.0" y="65.7" width="1" height="1" fill="#7fbf53"/><rect x="462.5" y="65.9" width="1" height="1" fill="#7fbf53"/><rect x="461.7" y="66.2" width="1" height="1" fill="#7fbf53"/><rect x="462.6" y="66.3" width="1" height="1" fill="#7fbf53"/><rect x="461.8" y="65.8" width="1" height="1" fill="#7fbf53"/><rect x="462.2" y="65.2" width="1" height="1" fill="#7fbf53"/><rect x="461.7" y="65.4" width="1" height="1" fill="#7fbf53"/><rect x="462.1" y="65.2" width="1" height="1" fill="#7fbf53"/><rect x="462.8" y="65.5" width="1" height="1" fill="#7fbf53"/><rect x="462.8" y="66.4" width="1" height="1" fill="#7fbf53"/><rect x="462.5" y="65.3" width="1" height="1" fill="#7fbf53"/><rect x="457.8" y="68.1" width="1" height="1" fill="#80bf53"/><rect x="458.5" y="67.8" width="1" height="1" fill="#80bf53"/><rect x="458.1" y="68.0" width="1" height="1" fill="#80bf53"/><rect x="457.9" y="66.9" width="1" height="1" fill="#80bf53"/><rect x="458.1" y="66.7" width="1" height="1" fill="#80bf53"/><rect x="458.5" y="67.8" width="1" height="1" fill="#80bf53"/><rect x="457.5" y="67.5" width="1" height="1" fill="#80bf53"/><rect x="457.3" y="67.6" width="1" height="1" fill="#80bf53"/><rect x="458.5" y="67.1" width="1" height="1" fill="#80bf53"/><rect x="458.4" y="67.6" width="1" height="1" fill="#80bf53"/><rect x="458.4" y="67.0" width="1" height="1" fill="#80bf53"/><rect x="441.2" y="77.8" width="1" height="1" fill="#80bf53"/><rect x="442.1" y="77.1" width="1" height="1" fill="#80bf53"/><rect x="441.8" y="77.2" width="1" height="1" fill="#80bf53"/><rect x="441.2" y="78.5" width="1" height="1" fill="#80bf53"/><rect x="441.1" y="77.9" width="1" height="1" fill="#80bf53"/><rect x="441.8" y="77.3" width="1" height="1" fill="#80bf53"/><rect x="441.5" y="77.2" width="1" height="1" fill="#80bf53"/><rect x="441.8" y="78.0" width="1" height="1" fill="#80bf53"/><rect x="441.1" y="77.7" width="1" height="1" fill="#80bf53"/><rect x="442.1" y="77.2" width="1" height="1" fill="#80bf53"/><rect x="441.3" y="78.2" width="1" height="1" fill="#80bf53"/><rect x="441.7" y="77.5" width="1" height="1" fill="#80bf53"/><rect x="445.7" y="76.6" width="1" height="1" fill="#81bf52"/><rect x="445.4" y="76.0" width="1" height="1" fill="#81bf52"/><rect x="446.2" y="76.4" width="1" height="1" fill="#81bf52"/><rect x="446.0" y="76.4" width="1" height="1" fill="#81bf52"/><rect x="445.3" y="76.0" width="1" height="1" fill="#81bf52"/><rect x="446.3" y="76.1" width="1" height="1" fill="#81bf52"/><rect x="446.5" y="76.5" width="1" height="1" fill="#81bf52"/><rect x="445.8" y="76.5" width="1" height="1" fill="#81bf52"/><rect x="445.6" y="76.2" width="1" height="1" fill="#81bf52"/><rect x="445.2" y="76.5" width="1" height="1" fill="#81bf52"/><rect x="446.2" y="76.1" width="1" height="1" fill="#81bf52"/><rect x="446.1" y="75.9" width="1" height="1" fill="#81bf52"/><rect x="446.0" y="75.8" width="1" height="1" fill="#81bf52"/><rect x="445.6" y="76.0" width="1" height="1" fill="#81bf52"/><rect x="453.2" y="67.9" width="1" height="1" fill="#83c051"/><rect x="453.2" y="67.8" width="1" height="1" fill="#83c051"/><rect x="454.1" y="67.1" width="1" height="1" fill="#83c051"/><rect x="452.8" y="67.7" width="1" height="1" fill="#83c051"/><rect x="453.0" y="68.0" width="1" height="1" fill="#83c051"/><rect x="453.7" y="68.0" width="1" height="1" fill="#83c051"/><rect x="452.8" y="67.8" width="1" height="1" fill="#83c051"/><rect x="454.1" y="67.4" width="1" height="1" fill="#83c051"/><rect x="453.8" y="67.6" width="1" height="1" fill="#83c051"/><rect x="453.8" y="66.7" width="1" height="1" fill="#83c051"/><rect x="450.5" y="72.7" width="1" height="1" fill="#84c051"/><rect x="451.1" y="72.9" width="1" height="1" fill="#84c051"/><rect x="450.3" y="72.9" width="1" height="1" fill="#84c051"/><rect x="449.7" y="73.3" width="1" height="1" fill="#84c051"/><rect x="449.6" y="73.6" width="1" height="1" fill="#84c051"/><rect x="451.0" y="72.8" width="1" height="1" fill="#84c051"/><rect x="451.0" y="74.0" width="1" height="1" fill="#84c051"/><rect x="450.9" y="72.8" width="1" height="1" fill="#84c051"/><rect x="450.3" y="73.3" width="1" height="1" fill="#84c051"/><rect x="449.7" y="73.8" width="1" height="1" fill="#84c051"/><rect x="450.1" y="73.7" width="1" height="1" fill="#84c051"/><rect x="450.1" y="73.2" width="1" height="1" fill="#84c051"/><rect x="450.6" y="72.6" width="1" height="1" fill="#84c051"/><rect x="456.3" y="68.9" width="1" height="1" fill="#85c050"/><rect x="456.1" y="69.1" width="1" height="1" fill="#85c050"/><rect x="456.2" y="68.4" width="1" height="1" fill="#85c050"/><rect x="455.9" y="68.3" width="1" height="1" fill="#85c050"/><rect x="456.1" y="68.9" width="1" height="1" fill="#85c050"/><rect x="456.3" y="69.3" width="1" height="1" fill="#85c050"/><rect x="456.2" y="68.5" width="1" height="1" fill="#85c050"/><rect x="455.9" y="68.7" width="1" height="1" fill="#85c050"/><rect x="457.0" y="69.3" width="1" height="1" fill="#85c050"/><rect x="456.2" y="69.5" width="1" height="1" fill="#85c050"/><rect x="456.2" y="68.6" width="1" height="1" fill="#85c050"/><rect x="456.7" y="68.3" width="1" height="1" fill="#85c050"/><rect x="455.8" y="68.3" width="1" height="1" fill="#85c050"/><rect x="457.0" y="69.2" width="1" height="1" fill="#85c050"/><rect x="452.5" y="71.7" width="1" height="1" fill="#86c050"/><rect x="451.7" y="71.7" width="1" height="1" fill="#86c050"/><rect x="452.0" y="72.3" width="1" height="1" fill="#86c050"/><rect x="451.2" y="72.3" width="1" height="1" fill="#86c050"/><rect x="451.8" y="71.5" width="1" height="1" fill="#86c050"/><rect x="451.7" y="71.2" width="1" height="1" fill="#86c050"/><rect x="452.4" y="71.6" width="1" height="1" fill="#86c050"/><rect x="452.1" y="72.0" width="1" height="1" fill="#86c050"/><rect x="451.5" y="71.7" width="1" height="1" fill="#86c050"/><rect x="452.5" y="71.9" width="1" height="1" fill="#86c050"/><rect x="452.5" y="71.5" width="1" height="1" fill="#86c050"/><rect x="452.4" y="72.4" width="1" height="1" fill="#86c050"/><rect x="451.9" y="72.2" width="1" height="1" fill="#86c050"/><rect x="460.3" y="67.2" width="1" height="1" fill="#89c04f"/><rect x="453.1" y="71.8" width="1" height="1" fill="#89c04f"/><rect x="461.1" y="67.2" width="1" height="1" fill="#89c04f"/><rect x="460.8" y="67.1" width="1" height="1" fill="#89c04f"/><rect x="452.7" y="72.5" width="1" height="1" fill="#89c04f"/><rect x="460.7" y="66.9" width="1" height="1" fill="#89c04f"/><rect x="460.8" y="68.1" width="1" height="1" fill="#89c04f"/><rect x="461.1" y="67.4" width="1" height="1" fill="#89c04f"/><rect x="453.4" y="71.1" width="1" height="1" fill="#89c04f"/><rect x="460.6" y="67.9" width="1" height="1" fill="#89c04f"/><rect x="453.1" y="71.2" width="1" height="1" fill="#89c04f"/><rect x="453.8" y="71.4" width="1" height="1" fill="#89c04f"/><rect x="461.3" y="67.6" width="1" height="1" fill="#89c04f"/><rect x="452.8" y="72.6" width="1" height="1" fill="#89c04f"/><rect x="453.7" y="71.1" width="1" height="1" fill="#89c04f"/><rect x="460.1" y="67.6" width="1" height="1" fill="#89c04f"/><rect x="461.4" y="67.4" width="1" height="1" fill="#89c04f"/><rect x="453.6" y="71.5" width="1" height="1" fill="#89c04f"/><rect x="453.3" y="71.3" width="1" height="1" fill="#89c04f"/><rect x="452.6" y="70.1" width="1" height="1" fill="#89c04f"/><rect x="452.5" y="71.1" width="1" height="1" fill="#89c04f"/><rect x="451.2" y="70.8" width="1" height="1" fill="#89c04f"/><rect x="452.6" y="70.4" width="1" height="1" fill="#89c04f"/><rect x="451.2" y="70.6" width="1" height="1" fill="#89c04f"/><rect x="452.1" y="70.1" width="1" height="1" fill="#89c04f"/><rect x="451.3" y="71.0" width="1" height="1" fill="#89c04f"/><rect x="451.7" y="69.9" width="1" height="1" fill="#89c04f"/><rect x="451.9" y="70.7" width="1" height="1" fill="#89c04f"/><rect x="450.3" y="69.1" width="1" height="1" fill="#8ac04f"/><rect x="451.0" y="68.2" width="1" height="1" fill="#8ac04f"/><rect x="450.9" y="68.7" width="1" height="1" fill="#8ac04f"/><rect x="451.1" y="68.6" width="1" height="1" fill="#8ac04f"/><rect x="449.7" y="69.3" width="1" height="1" fill="#8ac04f"/><rect x="451.0" y="69.6" width="1" height="1" fill="#8ac04f"/><rect x="449.7" y="68.9" width="1" height="1" fill="#8ac04f"/><rect x="449.6" y="68.1" width="1" height="1" fill="#8ac04f"/><rect x="451.0" y="69.3" width="1" height="1" fill="#8ac04f"/><rect x="449.7" y="68.9" width="1" height="1" fill="#8ac04f"/><rect x="450.5" y="68.2" width="1" height="1" fill="#8ac04f"/><rect x="449.7" y="69.0" width="1" height="1" fill="#8ac04f"/><rect x="447.6" y="75.1" width="1" height="1" fill="#8bc04e"/><rect x="447.2" y="75.3" width="1" height="1" fill="#8bc04e"/><rect x="446.6" y="75.2" width="1" height="1" fill="#8bc04e"/><rect x="447.2" y="74.7" width="1" height="1" fill="#8bc04e"/><rect x="447.3" y="74.5" width="1" height="1" fill="#8bc04e"/><rect x="446.9" y="75.3" width="1" height="1" fill="#8bc04e"/><rect x="447.4" y="75.5" width="1" height="1" fill="#8bc04e"/><rect x="447.1" y="74.5" width="1" height="1" fill="#8bc04e"/><rect x="452.1" y="69.2" width="1" height="1" fill="#8bc04e"/><rect x="452.2" y="69.6" width="1" height="1" fill="#8bc04e"/><rect x="451.3" y="69.0" width="1" height="1" fill="#8bc04e"/><rect x="442.8" y="70.8" width="1" height="1" fill="#8bc04e"/><rect x="451.4" y="68.5" width="1" height="1" fill="#8bc04e"/><rect x="443.2" y="70.9" width="1" height="1" fill="#8bc04e"/><rect x="442.8" y="69.7" width="1" height="1" fill="#8bc04e"/><rect x="452.3" y="69.3" width="1" height="1" fill="#8bc04e"/><rect x="451.7" y="69.1" width="1" height="1" fill="#8bc04e"/><rect x="451.7" y="68.8" width="1" height="1" fill="#8bc04e"/><rect x="451.8" y="69.5" width="1" height="1" fill="#8bc04e"/><rect x="451.6" y="69.0" width="1" height="1" fill="#8bc04e"/><rect x="451.3" y="68.9" width="1" height="1" fill="#8bc04e"/><rect x="451.9" y="69.4" width="1" height="1" fill="#8bc04e"/><rect x="443.5" y="70.0" width="1" height="1" fill="#8bc04e"/><rect x="451.4" y="69.0" width="1" height="1" fill="#8bc04e"/><rect x="443.1" y="70.6" width="1" height="1" fill="#8bc04e"/><rect x="452.0" y="69.3" width="1" height="1" fill="#8bc04e"/><rect x="442.6" y="69.9" width="1" height="1" fill="#8bc04e"/><rect x="454.2" y="72.1" width="1" height="1" fill="#8bc04e"/><rect x="454.6" y="72.1" width="1" height="1" fill="#8bc04e"/><rect x="454.3" y="71.4" width="1" height="1" fill="#8bc04e"/><rect x="454.3" y="71.6" width="1" height="1" fill="#8bc04e"/><rect x="455.1" y="71.4" width="1" height="1" fill="#8bc04e"/><rect x="455.3" y="71.9" width="1" height="1" fill="#8bc04e"/><rect x="454.4" y="71.7" width="1" height="1" fill="#8bc04e"/><rect x="455.2" y="71.7" width="1" height="1" fill="#8bc04e"/><rect x="455.4" y="72.3" width="1" height="1" fill="#8bc04e"/><rect x="455.2" y="72.1" width="1" height="1" fill="#8bc04e"/><rect x="456.6" y="70.5" width="1" height="1" fill="#8cc04e"/><rect x="455.6" y="70.0" width="1" height="1" fill="#8cc04e"/><rect x="456.7" y="69.7" width="1" height="1" fill="#8cc04e"/><rect x="456.0" y="69.9" width="1" height="1" fill="#8cc04e"/><rect x="456.7" y="70.6" width="1" height="1" fill="#8cc04e"/><rect x="456.3" y="70.2" width="1" height="1" fill="#8cc04e"/><rect x="456.2" y="70.0" width="1" height="1" fill="#8cc04e"/><rect x="456.3" y="70.4" width="1" height="1" fill="#8cc04e"/><rect x="456.9" y="70.3" width="1" height="1" fill="#8cc04e"/><rect x="456.7" y="71.1" width="1" height="1" fill="#8cc04e"/><rect x="456.4" y="70.2" width="1" height="1" fill="#8cc04e"/><rect x="455.8" y="69.8" width="1" height="1" fill="#8cc04e"/><rect x="455.6" y="70.6" width="1" height="1" fill="#8cc04e"/><rect x="456.4" y="70.6" width="1" height="1" fill="#8cc04e"/><rect x="450.9" y="69.7" width="1" height="1" fill="#8dc04e"/><rect x="449.7" y="69.7" width="1" height="1" fill="#8dc04e"/><rect x="449.7" y="69.7" width="1" height="1" fill="#8dc04e"/><rect x="449.8" y="70.4" width="1" height="1" fill="#8dc04e"/><rect x="450.4" y="70.0" width="1" height="1" fill="#8dc04e"/><rect x="449.9" y="69.8" width="1" height="1" fill="#8dc04e"/><rect x="451.1" y="71.0" width="1" height="1" fill="#8dc04e"/><rect x="450.3" y="69.8" width="1" height="1" fill="#8dc04e"/><rect x="450.1" y="70.7" width="1" height="1" fill="#8dc04e"/><rect x="449.6" y="70.4" width="1" height="1" fill="#8dc04e"/><rect x="450.4" y="71.5" width="1" height="1" fill="#8dc14d"/><rect x="450.7" y="72.1" width="1" height="1" fill="#8dc14d"/><rect x="450.8" y="71.5" width="1" height="1" fill="#8dc14d"/><rect x="449.9" y="72.1" width="1" height="1" fill="#8dc14d"/><rect x="449.7" y="71.6" width="1" height="1" fill="#8dc14d"/><rect x="450.9" y="71.4" width="1" height="1" fill="#8dc14d"/><rect x="450.9" y="71.5" width="1" height="1" fill="#8dc14d"/><rect x="450.3" y="71.5" width="1" height="1" fill="#8dc14d"/><rect x="458.7" y="66.6" width="1" height="1" fill="#8dc14d"/><rect x="458.9" y="67.0" width="1" height="1" fill="#8dc14d"/><rect x="458.8" y="67.8" width="1" height="1" fill="#8dc14d"/><rect x="458.6" y="67.5" width="1" height="1" fill="#8dc14d"/><rect x="459.7" y="66.8" width="1" height="1" fill="#8dc14d"/><rect x="459.9" y="67.2" width="1" height="1" fill="#8dc14d"/><rect x="459.8" y="68.0" width="1" height="1" fill="#8dc14d"/><rect x="460.1" y="67.5" width="1" height="1" fill="#8dc14d"/><rect x="458.9" y="66.6" width="1" height="1" fill="#8dc14d"/><rect x="459.8" y="67.2" width="1" height="1" fill="#8dc14d"/><rect x="459.0" y="66.8" width="1" height="1" fill="#8dc14d"/><rect x="459.4" y="67.0" width="1" height="1" fill="#8dc14d"/><rect x="458.8" y="66.7" width="1" height="1" fill="#8dc14d"/><rect x="460.0" y="66.9" width="1" height="1" fill="#8dc14d"/><rect x="458.6" y="66.0" width="1" height="1" fill="#90c14c"/><rect x="459.3" y="65.4" width="1" height="1" fill="#90c14c"/><rect x="459.1" y="65.1" width="1" height="1" fill="#90c14c"/><rect x="459.1" y="66.0" width="1" height="1" fill="#90c14c"/><rect x="458.7" y="65.7" width="1" height="1" fill="#90c14c"/><rect x="459.1" y="65.3" width="1" height="1" fill="#90c14c"/><rect x="458.8" y="65.5" width="1" height="1" fill="#90c14c"/><rect x="459.9" y="65.9" width="1" height="1" fill="#90c14c"/><rect x="458.8" y="66.4" width="1" height="1" fill="#90c14c"/><rect x="460.0" y="65.2" width="1" height="1" fill="#90c14c"/><rect x="459.1" y="66.1" width="1" height="1" fill="#90c14c"/><rect x="459.3" y="65.5" width="1" height="1" fill="#90c14c"/><rect x="459.6" y="66.5" width="1" height="1" fill="#90c14c"/><rect x="459.5" y="66.2" width="1" height="1" fill="#90c14c"/><rect x="459.6" y="66.3" width="1" height="1" fill="#90c14c"/><rect x="454.3" y="69.5" width="1" height="1" fill="#92c14c"/><rect x="454.6" y="68.8" width="1" height="1" fill="#92c14c"/><rect x="454.6" y="68.1" width="1" height="1" fill="#92c14c"/><rect x="454.1" y="69.1" width="1" height="1" fill="#92c14c"/><rect x="455.1" y="69.5" width="1" height="1" fill="#92c14c"/><rect x="454.4" y="69.6" width="1" height="1" fill="#92c14c"/><rect x="454.8" y="69.3" width="1" height="1" fill="#92c14c"/><rect x="455.0" y="69.0" width="1" height="1" fill="#92c14c"/><rect x="455.3" y="69.1" width="1" height="1" fill="#92c14c"/><rect x="454.6" y="69.5" width="1" height="1" fill="#92c14c"/><rect x="454.0" y="70.9" width="1" height="1" fill="#94c14b"/><rect x="452.7" y="69.9" width="1" height="1" fill="#94c14b"/><rect x="453.5" y="69.7" width="1" height="1" fill="#94c14b"/><rect x="452.8" y="70.0" width="1" height="1" fill="#94c14b"/><rect x="454.0" y="69.8" width="1" height="1" fill="#94c14b"/><rect x="453.2" y="71.1" width="1" height="1" fill="#94c14b"/><rect x="453.8" y="70.5" width="1" height="1" fill="#94c14b"/><rect x="453.4" y="70.3" width="1" height="1" fill="#94c14b"/><rect x="452.7" y="70.8" width="1" height="1" fill="#94c14b"/><rect x="453.4" y="70.1" width="1" height="1" fill="#94c14b"/><rect x="452.8" y="68.7" width="1" height="1" fill="#94c14b"/><rect x="452.8" y="68.5" width="1" height="1" fill="#94c14b"/><rect x="453.7" y="68.6" width="1" height="1" fill="#94c14b"/><rect x="453.6" y="69.1" width="1" height="1" fill="#94c14b"/><rect x="453.6" y="68.4" width="1" height="1" fill="#94c14b"/><rect x="453.6" y="68.1" width="1" height="1" fill="#94c14b"/><rect x="453.8" y="68.5" width="1" height="1" fill="#94c14b"/><rect x="453.9" y="69.0" width="1" height="1" fill="#94c14b"/><rect x="453.0" y="68.2" width="1" height="1" fill="#94c14b"/><rect x="453.8" y="68.2" width="1" height="1" fill="#94c14b"/><rect x="453.0" y="68.7" width="1" height="1" fill="#94c14b"/><rect x="454.0" y="68.7" width="1" height="1" fill="#94c14b"/><rect x="453.5" y="68.8" width="1" height="1" fill="#94c14b"/><rect x="453.1" y="69.2" width="1" height="1" fill="#94c14b"/><rect x="453.9" y="68.3" width="1" height="1" fill="#94c14b"/><rect x="453.0" y="68.4" width="1" height="1" fill="#94c14b"/><rect x="440.5" y="76.0" width="1" height="1" fill="#94c14b"/><rect x="439.6" y="76.4" width="1" height="1" fill="#94c14b"/><rect x="439.6" y="76.6" width="1" height="1" fill="#94c14b"/><rect x="440.5" y="75.6" width="1" height="1" fill="#94c14b"/><rect x="440.2" y="76.8" width="1" height="1" fill="#94c14b"/><rect x="439.9" y="75.8" width="1" height="1" fill="#94c14b"/><rect x="439.4" y="76.5" width="1" height="1" fill="#94c14b"/><rect x="439.4" y="76.7" width="1" height="1" fill="#94c14b"/><rect x="439.3" y="75.8" width="1" height="1" fill="#94c14b"/><rect x="440.5" y="77.0" width="1" height="1" fill="#94c14b"/><rect x="439.6" y="76.1" width="1" height="1" fill="#94c14b"/><rect x="439.6" y="76.6" width="1" height="1" fill="#94c14b"/><rect x="440.4" y="76.0" width="1" height="1" fill="#94c14b"/><rect x="440.5" y="75.8" width="1" height="1" fill="#94c14b"/><rect x="439.6" y="75.7" width="1" height="1" fill="#94c14b"/><rect x="440.4" y="76.9" width="1" height="1" fill="#94c14b"/><rect x="440.4" y="76.9" width="1" height="1" fill="#94c14b"/><rect x="440.0" y="76.2" width="1" height="1" fill="#94c14b"/><rect x="449.1" y="73.7" width="1" height="1" fill="#94c14b"/><rect x="448.6" y="73.9" width="1" height="1" fill="#94c14b"/><rect x="449.4" y="73.6" width="1" height="1" fill="#94c14b"/><rect x="449.5" y="73.3" width="1" height="1" fill="#94c14b"/><rect x="448.7" y="73.1" width="1" height="1" fill="#94c14b"/><rect x="449.2" y="73.7" width="1" height="1" fill="#94c14b"/><rect x="448.2" y="72.9" width="1" height="1" fill="#94c14b"/><rect x="448.3" y="72.7" width="1" height="1" fill="#94c14b"/><rect x="448.2" y="73.1" width="1" height="1" fill="#94c14b"/><rect x="448.6" y="73.4" width="1" height="1" fill="#94c14b"/><rect x="448.1" y="73.8" width="1" height="1" fill="#94c14b"/><rect x="449.5" y="73.5" width="1" height="1" fill="#94c14b"/><rect x="449.4" y="73.6" width="1" height="1" fill="#94c14b"/><rect x="448.4" y="73.8" width="1" height="1" fill="#94c14b"/><rect x="460.8" y="65.2" width="1" height="1" fill="#94c14b"/><rect x="460.8" y="65.8" width="1" height="1" fill="#94c14b"/><rect x="460.3" y="66.0" width="1" height="1" fill="#94c14b"/><rect x="461.6" y="66.1" width="1" height="1" fill="#94c14b"/><rect x="461.1" y="65.6" width="1" height="1" fill="#94c14b"/><rect x="460.6" y="65.2" width="1" height="1" fill="#94c14b"/><rect x="461.1" y="65.5" width="1" height="1" fill="#94c14b"/><rect x="461.6" y="66.1" width="1" height="1" fill="#94c14b"/><rect x="461.2" y="65.4" width="1" height="1" fill="#94c14b"/><rect x="460.8" y="66.1" width="1" height="1" fill="#94c14b"/><rect x="460.9" y="66.3" width="1" height="1" fill="#94c14b"/><rect x="461.5" y="66.5" width="1" height="1" fill="#94c14b"/><rect x="460.9" y="66.5" width="1" height="1" fill="#94c14b"/><rect x="461.1" y="66.3" width="1" height="1" fill="#94c14b"/><rect x="455.6" y="70.4" width="1" height="1" fill="#9ac249"/><rect x="454.4" y="71.0" width="1" height="1" fill="#9ac249"/><rect x="454.8" y="70.3" width="1" height="1" fill="#9ac249"/><rect x="455.3" y="70.2" width="1" height="1" fill="#9ac249"/><rect x="454.4" y="71.1" width="1" height="1" fill="#9ac249"/><rect x="454.3" y="70.3" width="1" height="1" fill="#9ac249"/><rect x="454.3" y="70.4" width="1" height="1" fill="#9ac249"/><rect x="455.1" y="70.2" width="1" height="1" fill="#9ac249"/><rect x="455.4" y="70.2" width="1" height="1" fill="#9ac249"/><rect x="454.7" y="69.7" width="1" height="1" fill="#9ac249"/><rect x="454.1" y="70.7" width="1" height="1" fill="#9ac249"/><rect x="454.5" y="69.7" width="1" height="1" fill="#9ac249"/><rect x="455.0" y="70.8" width="1" height="1" fill="#9ac249"/><rect x="454.2" y="70.7" width="1" height="1" fill="#9ac249"/><rect x="454.6" y="70.5" width="1" height="1" fill="#9ac249"/><rect x="455.4" y="69.7" width="1" height="1" fill="#9ac249"/><rect x="449.4" y="68.7" width="1" height="1" fill="#9cc248"/><rect x="448.5" y="68.2" width="1" height="1" fill="#9cc248"/><rect x="449.0" y="69.5" width="1" height="1" fill="#9cc248"/><rect x="448.2" y="69.5" width="1" height="1" fill="#9cc248"/><rect x="449.6" y="69.6" width="1" height="1" fill="#9cc248"/><rect x="449.2" y="68.8" width="1" height="1" fill="#9cc248"/><rect x="449.2" y="69.2" width="1" height="1" fill="#9cc248"/><rect x="448.5" y="68.8" width="1" height="1" fill="#9cc248"/><rect x="448.5" y="68.7" width="1" height="1" fill="#9cc248"/><rect x="448.5" y="69.0" width="1" height="1" fill="#9cc248"/><rect x="449.6" y="68.6" width="1" height="1" fill="#9cc248"/><rect x="448.6" y="68.3" width="1" height="1" fill="#9cc248"/><rect x="449.2" y="68.2" width="1" height="1" fill="#9cc248"/><rect x="449.3" y="68.4" width="1" height="1" fill="#9cc248"/><rect x="448.9" y="69.5" width="1" height="1" fill="#9cc248"/><rect x="446.5" y="68.9" width="1" height="1" fill="#9ec247"/><rect x="446.0" y="69.1" width="1" height="1" fill="#9ec247"/><rect x="445.5" y="68.5" width="1" height="1" fill="#9ec247"/><rect x="445.6" y="69.2" width="1" height="1" fill="#9ec247"/><rect x="445.3" y="68.3" width="1" height="1" fill="#9ec247"/><rect x="445.1" y="69.4" width="1" height="1" fill="#9ec247"/><rect x="446.0" y="69.4" width="1" height="1" fill="#9ec247"/><rect x="445.2" y="68.4" width="1" height="1" fill="#9ec247"/><rect x="446.5" y="68.8" width="1" height="1" fill="#9ec247"/><rect x="445.9" y="69.4" width="1" height="1" fill="#9ec247"/><rect x="446.4" y="69.4" width="1" height="1" fill="#9ec247"/><rect x="445.2" y="68.9" width="1" height="1" fill="#9ec247"/><rect x="446.2" y="68.6" width="1" height="1" fill="#9ec247"/><rect x="445.6" y="68.8" width="1" height="1" fill="#9ec247"/><rect x="445.9" y="69.2" width="1" height="1" fill="#9ec247"/><rect x="445.4" y="69.4" width="1" height="1" fill="#9ec247"/><rect x="448.3" y="71.8" width="1" height="1" fill="#acc342"/><rect x="449.3" y="71.2" width="1" height="1" fill="#acc342"/><rect x="448.6" y="72.4" width="1" height="1" fill="#acc342"/><rect x="449.3" y="72.0" width="1" height="1" fill="#acc342"/><rect x="448.6" y="72.1" width="1" height="1" fill="#acc342"/><rect x="448.5" y="71.3" width="1" height="1" fill="#acc342"/><rect x="448.4" y="72.3" width="1" height="1" fill="#acc342"/><rect x="449.5" y="72.0" width="1" height="1" fill="#acc342"/><rect x="449.5" y="71.4" width="1" height="1" fill="#acc342"/><rect x="448.4" y="71.9" width="1" height="1" fill="#acc342"/><rect x="448.5" y="72.1" width="1" height="1" fill="#acc342"/><rect x="447.4" y="68.8" width="1" height="1" fill="#acc342"/><rect x="447.0" y="68.3" width="1" height="1" fill="#acc342"/><rect x="447.6" y="69.2" width="1" height="1" fill="#acc342"/><rect x="447.3" y="69.5" width="1" height="1" fill="#acc342"/><rect x="447.0" y="69.6" width="1" height="1" fill="#acc342"/><rect x="446.7" y="68.1" width="1" height="1" fill="#acc342"/><rect x="446.7" y="69.1" width="1" height="1" fill="#acc342"/><rect x="446.8" y="68.4" width="1" height="1" fill="#acc342"/><rect x="446.9" y="68.2" width="1" height="1" fill="#acc342"/><rect x="447.6" y="68.1" width="1" height="1" fill="#acc342"/><rect x="441.3" y="73.9" width="1" height="1" fill="#aec441"/><rect x="441.2" y="74.0" width="1" height="1" fill="#aec441"/><rect x="442.0" y="74.1" width="1" height="1" fill="#aec441"/><rect x="440.6" y="72.8" width="1" height="1" fill="#aec441"/><rect x="441.7" y="73.4" width="1" height="1" fill="#aec441"/><rect x="440.8" y="73.0" width="1" height="1" fill="#aec441"/><rect x="441.8" y="74.0" width="1" height="1" fill="#aec441"/><rect x="441.3" y="73.1" width="1" height="1" fill="#aec441"/><rect x="441.2" y="73.0" width="1" height="1" fill="#aec441"/><rect x="441.2" y="72.9" width="1" height="1" fill="#aec441"/><rect x="441.0" y="74.0" width="1" height="1" fill="#aec441"/><rect x="448.2" y="70.2" width="1" height="1" fill="#afc440"/><rect x="449.0" y="69.8" width="1" height="1" fill="#afc440"/><rect x="448.1" y="70.5" width="1" height="1" fill="#afc440"/><rect x="449.5" y="69.7" width="1" height="1" fill="#afc440"/><rect x="449.0" y="69.9" width="1" height="1" fill="#afc440"/><rect x="448.9" y="70.6" width="1" height="1" fill="#afc440"/><rect x="449.1" y="70.0" width="1" height="1" fill="#afc440"/><rect x="448.7" y="70.2" width="1" height="1" fill="#afc440"/><rect x="448.3" y="70.7" width="1" height="1" fill="#afc440"/><rect x="443.6" y="75.6" width="1" height="1" fill="#b1c440"/><rect x="444.5" y="76.5" width="1" height="1" fill="#b1c440"/><rect x="444.2" y="75.7" width="1" height="1" fill="#b1c440"/><rect x="444.3" y="77.0" width="1" height="1" fill="#b1c440"/><rect x="443.8" y="75.9" width="1" height="1" fill="#b1c440"/><rect x="444.4" y="76.7" width="1" height="1" fill="#b1c440"/><rect x="444.9" y="76.6" width="1" height="1" fill="#b1c440"/><rect x="443.7" y="75.8" width="1" height="1" fill="#b1c440"/><rect x="444.5" y="76.0" width="1" height="1" fill="#b1c440"/><rect x="444.8" y="76.0" width="1" height="1" fill="#b1c440"/><rect x="444.8" y="75.8" width="1" height="1" fill="#b1c440"/><rect x="444.7" y="76.5" width="1" height="1" fill="#b1c440"/><rect x="443.9" y="76.7" width="1" height="1" fill="#b1c440"/><rect x="444.3" y="75.8" width="1" height="1" fill="#b1c440"/><rect x="444.8" y="75.8" width="1" height="1" fill="#b1c440"/><rect x="442.1" y="76.1" width="1" height="1" fill="#bfc53a"/><rect x="441.0" y="76.9" width="1" height="1" fill="#bfc53a"/><rect x="440.8" y="76.9" width="1" height="1" fill="#bfc53a"/><rect x="441.2" y="75.7" width="1" height="1" fill="#bfc53a"/><rect x="441.7" y="75.8" width="1" height="1" fill="#bfc53a"/><rect x="442.0" y="76.0" width="1" height="1" fill="#bfc53a"/><rect x="441.8" y="75.8" width="1" height="1" fill="#bfc53a"/><rect x="441.8" y="76.6" width="1" height="1" fill="#bfc53a"/><rect x="441.3" y="77.1" width="1" height="1" fill="#bfc53a"/><rect x="441.5" y="76.1" width="1" height="1" fill="#bfc53a"/><rect x="441.8" y="76.3" width="1" height="1" fill="#bfc53a"/><rect x="441.9" y="76.8" width="1" height="1" fill="#bfc53a"/><rect x="442.1" y="76.8" width="1" height="1" fill="#bfc53a"/><rect x="447.6" y="72.9" width="1" height="1" fill="#c4c639"/><rect x="448.1" y="72.9" width="1" height="1" fill="#c4c639"/><rect x="447.9" y="73.8" width="1" height="1" fill="#c4c639"/><rect x="447.5" y="73.6" width="1" height="1" fill="#c4c639"/><rect x="446.7" y="72.7" width="1" height="1" fill="#c4c639"/><rect x="447.8" y="73.8" width="1" height="1" fill="#c4c639"/><rect x="447.7" y="73.9" width="1" height="1" fill="#c4c639"/><rect x="447.1" y="73.1" width="1" height="1" fill="#c4c639"/><rect x="442.7" y="75.7" width="1" height="1" fill="#c6c638"/><rect x="443.2" y="76.3" width="1" height="1" fill="#c6c638"/><rect x="443.0" y="76.4" width="1" height="1" fill="#c6c638"/><rect x="443.4" y="76.4" width="1" height="1" fill="#c6c638"/><rect x="442.3" y="76.1" width="1" height="1" fill="#c6c638"/><rect x="443.2" y="77.0" width="1" height="1" fill="#c6c638"/><rect x="442.2" y="75.9" width="1" height="1" fill="#c6c638"/><rect x="442.1" y="76.9" width="1" height="1" fill="#c6c638"/><rect x="442.7" y="76.6" width="1" height="1" fill="#c6c638"/><rect x="443.4" y="75.7" width="1" height="1" fill="#c6c638"/><rect x="443.5" y="76.8" width="1" height="1" fill="#c6c638"/><rect x="443.1" y="75.6" width="1" height="1" fill="#c6c638"/><rect x="442.3" y="77.0" width="1" height="1" fill="#c6c638"/><rect x="442.2" y="76.4" width="1" height="1" fill="#c6c638"/><rect x="442.3" y="76.5" width="1" height="1" fill="#c6c638"/><rect x="442.7" y="75.7" width="1" height="1" fill="#c6c638"/><rect x="443.4" y="76.1" width="1" height="1" fill="#c6c638"/><rect x="442.6" y="76.2" width="1" height="1" fill="#c6c638"/><rect x="442.7" y="76.6" width="1" height="1" fill="#c6c638"/><rect x="442.9" y="75.8" width="1" height="1" fill="#c6c638"/><rect x="442.2" y="76.3" width="1" height="1" fill="#c6c638"/><rect x="441.9" y="75.3" width="1" height="1" fill="#ccc636"/><rect x="441.9" y="75.5" width="1" height="1" fill="#ccc636"/><rect x="441.0" y="74.9" width="1" height="1" fill="#ccc636"/><rect x="441.2" y="75.0" width="1" height="1" fill="#ccc636"/><rect x="441.3" y="75.1" width="1" height="1" fill="#ccc636"/><rect x="441.5" y="75.3" width="1" height="1" fill="#ccc636"/><rect x="441.9" y="74.4" width="1" height="1" fill="#ccc636"/><rect x="441.6" y="74.7" width="1" height="1" fill="#ccc636"/><rect x="442.1" y="74.2" width="1" height="1" fill="#ccc636"/><rect x="441.5" y="74.3" width="1" height="1" fill="#ccc636"/><rect x="441.3" y="74.1" width="1" height="1" fill="#ccc636"/><rect x="441.7" y="75.3" width="1" height="1" fill="#ccc636"/><rect x="440.9" y="74.9" width="1" height="1" fill="#ccc636"/><rect x="441.8" y="75.3" width="1" height="1" fill="#ccc636"/><rect x="441.9" y="75.4" width="1" height="1" fill="#ccc636"/><rect x="441.3" y="74.6" width="1" height="1" fill="#ccc636"/><rect x="446.3" y="74.6" width="1" height="1" fill="#d0c734"/><rect x="446.0" y="74.5" width="1" height="1" fill="#d0c734"/><rect x="446.0" y="74.2" width="1" height="1" fill="#d0c734"/><rect x="445.7" y="74.8" width="1" height="1" fill="#d0c734"/><rect x="446.1" y="74.2" width="1" height="1" fill="#d0c734"/><rect x="445.5" y="74.3" width="1" height="1" fill="#d0c734"/><rect x="445.2" y="74.7" width="1" height="1" fill="#d0c734"/><rect x="446.3" y="74.3" width="1" height="1" fill="#d0c734"/><rect x="446.1" y="75.4" width="1" height="1" fill="#d0c734"/><rect x="445.6" y="74.4" width="1" height="1" fill="#d0c734"/><rect x="445.4" y="74.3" width="1" height="1" fill="#d0c734"/><rect x="445.8" y="75.3" width="1" height="1" fill="#d0c734"/><rect x="445.9" y="75.4" width="1" height="1" fill="#d0c734"/><rect x="445.5" y="75.1" width="1" height="1" fill="#d0c734"/><rect x="443.7" y="70.4" width="1" height="1" fill="#d1c734"/><rect x="444.9" y="71.1" width="1" height="1" fill="#d1c734"/><rect x="444.9" y="69.9" width="1" height="1" fill="#d1c734"/><rect x="444.3" y="70.6" width="1" height="1" fill="#d1c734"/><rect x="445.0" y="69.7" width="1" height="1" fill="#d1c734"/><rect x="445.1" y="69.7" width="1" height="1" fill="#d1c734"/><rect x="444.8" y="70.9" width="1" height="1" fill="#d1c734"/><rect x="444.1" y="69.9" width="1" height="1" fill="#d1c734"/><rect x="444.4" y="70.9" width="1" height="1" fill="#d1c734"/><rect x="444.4" y="69.6" width="1" height="1" fill="#d1c734"/><rect x="444.3" y="70.8" width="1" height="1" fill="#d1c734"/><rect x="444.9" y="70.2" width="1" height="1" fill="#d1c734"/><rect x="444.3" y="70.8" width="1" height="1" fill="#d1c734"/><rect x="444.3" y="70.3" width="1" height="1" fill="#d1c734"/><rect x="443.8" y="70.0" width="1" height="1" fill="#d1c734"/><rect x="447.4" y="70.1" width="1" height="1" fill="#d8c230"/><rect x="447.4" y="70.0" width="1" height="1" fill="#d8c230"/><rect x="446.6" y="70.9" width="1" height="1" fill="#d8c230"/><rect x="447.5" y="69.8" width="1" height="1" fill="#d8c230"/><rect x="447.3" y="70.2" width="1" height="1" fill="#d8c230"/><rect x="447.7" y="69.9" width="1" height="1" fill="#d8c230"/><rect x="447.5" y="70.2" width="1" height="1" fill="#d8c230"/><rect x="446.8" y="69.7" width="1" height="1" fill="#d8c230"/><rect x="447.2" y="70.7" width="1" height="1" fill="#d8c230"/><rect x="447.2" y="70.3" width="1" height="1" fill="#d8c230"/><rect x="447.2" y="70.2" width="1" height="1" fill="#d8c230"/><rect x="447.7" y="70.4" width="1" height="1" fill="#d8c230"/><rect x="446.8" y="71.1" width="1" height="1" fill="#d8c230"/><rect x="446.7" y="70.9" width="1" height="1" fill="#d8c230"/><rect x="446.7" y="70.1" width="1" height="1" fill="#d8c230"/><rect x="447.1" y="69.9" width="1" height="1" fill="#d8c230"/><rect x="448.1" y="70.6" width="1" height="1" fill="#d8c230"/><rect x="447.3" y="70.0" width="1" height="1" fill="#d8c230"/><rect x="447.4" y="69.8" width="1" height="1" fill="#d8c230"/><rect x="447.6" y="70.8" width="1" height="1" fill="#d8c230"/><rect x="447.2" y="70.7" width="1" height="1" fill="#d8c230"/><rect x="446.6" y="70.5" width="1" height="1" fill="#d8c230"/><rect x="447.4" y="70.8" width="1" height="1" fill="#d8c230"/><rect x="447.9" y="70.2" width="1" height="1" fill="#d8c230"/><rect x="447.8" y="71.8" width="1" height="1" fill="#d9bf2f"/><rect x="447.7" y="72.6" width="1" height="1" fill="#d9bf2f"/><rect x="447.0" y="71.9" width="1" height="1" fill="#d9bf2f"/><rect x="447.9" y="71.3" width="1" height="1" fill="#d9bf2f"/><rect x="447.6" y="71.2" width="1" height="1" fill="#d9bf2f"/><rect x="447.5" y="72.0" width="1" height="1" fill="#d9bf2f"/><rect x="447.2" y="72.2" width="1" height="1" fill="#d9bf2f"/><rect x="447.7" y="72.3" width="1" height="1" fill="#d9bf2f"/><rect x="447.2" y="72.1" width="1" height="1" fill="#d9bf2f"/><rect x="447.8" y="71.3" width="1" height="1" fill="#d9bf2f"/><rect x="447.1" y="71.9" width="1" height="1" fill="#d9bf2f"/><rect x="447.9" y="71.2" width="1" height="1" fill="#d9bf2f"/><rect x="447.4" y="72.0" width="1" height="1" fill="#d9bf2f"/><rect x="447.5" y="71.7" width="1" height="1" fill="#d9bf2f"/><rect x="446.8" y="71.7" width="1" height="1" fill="#d9bf2f"/><rect x="446.8" y="71.2" width="1" height="1" fill="#d9bf2f"/><rect x="447.7" y="71.6" width="1" height="1" fill="#d9bf2f"/><rect x="447.0" y="72.1" width="1" height="1" fill="#d9bf2f"/><rect x="442.2" y="71.4" width="1" height="1" fill="#d9be2e"/><rect x="443.1" y="72.2" width="1" height="1" fill="#d9be2e"/><rect x="442.3" y="71.5" width="1" height="1" fill="#d9be2e"/><rect x="442.7" y="72.5" width="1" height="1" fill="#d9be2e"/><rect x="443.1" y="71.5" width="1" height="1" fill="#d9be2e"/><rect x="442.7" y="71.9" width="1" height="1" fill="#d9be2e"/><rect x="442.8" y="71.5" width="1" height="1" fill="#d9be2e"/><rect x="442.7" y="72.1" width="1" height="1" fill="#d9be2e"/><rect x="443.5" y="71.9" width="1" height="1" fill="#d9be2e"/><rect x="442.5" y="71.2" width="1" height="1" fill="#d9be2e"/><rect x="443.5" y="71.7" width="1" height="1" fill="#d9be2e"/><rect x="443.5" y="71.4" width="1" height="1" fill="#d9be2e"/><rect x="442.2" y="72.1" width="1" height="1" fill="#d9be2e"/><rect x="442.9" y="72.5" width="1" height="1" fill="#d9be2e"/><rect x="443.5" y="72.1" width="1" height="1" fill="#d9be2e"/><rect x="442.6" y="71.4" width="1" height="1" fill="#d9be2e"/><rect x="442.9" y="72.5" width="1" height="1" fill="#d9be2e"/><rect x="442.9" y="71.8" width="1" height="1" fill="#d9be2e"/><rect x="442.7" y="71.1" width="1" height="1" fill="#d9be2e"/><rect x="443.3" y="72.4" width="1" height="1" fill="#d9be2e"/><rect x="443.4" y="71.3" width="1" height="1" fill="#d9be2e"/><rect x="443.0" y="71.8" width="1" height="1" fill="#d9be2e"/><rect x="443.4" y="71.9" width="1" height="1" fill="#d9be2e"/><rect x="442.4" y="72.2" width="1" height="1" fill="#d9be2e"/><rect x="443.5" y="71.2" width="1" height="1" fill="#d9be2e"/><rect x="442.2" y="71.2" width="1" height="1" fill="#d9be2e"/><rect x="445.8" y="71.0" width="1" height="1" fill="#dbb72c"/><rect x="446.1" y="71.0" width="1" height="1" fill="#dbb72c"/><rect x="446.4" y="69.9" width="1" height="1" fill="#dbb72c"/><rect x="445.9" y="70.2" width="1" height="1" fill="#dbb72c"/><rect x="446.6" y="70.2" width="1" height="1" fill="#dbb72c"/><rect x="446.4" y="71.1" width="1" height="1" fill="#dbb72c"/><rect x="445.5" y="70.8" width="1" height="1" fill="#dbb72c"/><rect x="446.6" y="69.8" width="1" height="1" fill="#dbb72c"/><rect x="445.2" y="70.1" width="1" height="1" fill="#dbb72c"/><rect x="446.0" y="71.0" width="1" height="1" fill="#dbb72c"/><rect x="446.3" y="70.3" width="1" height="1" fill="#dbb72c"/><rect x="446.6" y="70.1" width="1" height="1" fill="#dbb72c"/><rect x="445.9" y="70.1" width="1" height="1" fill="#dbb72c"/><rect x="445.7" y="70.7" width="1" height="1" fill="#dbb72c"/><rect x="445.7" y="70.1" width="1" height="1" fill="#dbb72c"/><rect x="445.8" y="69.9" width="1" height="1" fill="#dbb72c"/><rect x="445.4" y="70.4" width="1" height="1" fill="#dbb72c"/><rect x="446.3" y="70.2" width="1" height="1" fill="#dbb72c"/><rect x="445.1" y="70.7" width="1" height="1" fill="#dbb72c"/><rect x="446.6" y="71.1" width="1" height="1" fill="#dbb72c"/><rect x="446.4" y="70.5" width="1" height="1" fill="#dbb72c"/><rect x="443.4" y="74.9" width="1" height="1" fill="#deac28"/><rect x="442.6" y="75.2" width="1" height="1" fill="#deac28"/><rect x="442.7" y="74.3" width="1" height="1" fill="#deac28"/><rect x="442.8" y="74.9" width="1" height="1" fill="#deac28"/><rect x="443.1" y="74.5" width="1" height="1" fill="#deac28"/><rect x="442.9" y="74.7" width="1" height="1" fill="#deac28"/><rect x="443.5" y="74.1" width="1" height="1" fill="#deac28"/><rect x="443.0" y="75.1" width="1" height="1" fill="#deac28"/><rect x="442.7" y="74.3" width="1" height="1" fill="#deac28"/><rect x="443.4" y="74.8" width="1" height="1" fill="#deac28"/><rect x="443.0" y="74.4" width="1" height="1" fill="#deac28"/><rect x="443.0" y="74.5" width="1" height="1" fill="#deac28"/><rect x="442.2" y="75.1" width="1" height="1" fill="#deac28"/><rect x="442.8" y="75.6" width="1" height="1" fill="#deac28"/><rect x="442.9" y="75.4" width="1" height="1" fill="#deac28"/><rect x="442.7" y="74.3" width="1" height="1" fill="#deac28"/><rect x="442.4" y="75.3" width="1" height="1" fill="#deac28"/><rect x="443.6" y="75.3" width="1" height="1" fill="#deac28"/><rect x="443.2" y="75.1" width="1" height="1" fill="#deac28"/><rect x="442.9" y="74.9" width="1" height="1" fill="#deac28"/><rect x="443.2" y="74.2" width="1" height="1" fill="#deac28"/><rect x="443.7" y="75.4" width="1" height="1" fill="#dfaa28"/><rect x="444.9" y="75.1" width="1" height="1" fill="#dfaa28"/><rect x="444.4" y="74.9" width="1" height="1" fill="#dfaa28"/><rect x="444.1" y="74.4" width="1" height="1" fill="#dfaa28"/><rect x="443.8" y="74.3" width="1" height="1" fill="#dfaa28"/><rect x="445.0" y="74.8" width="1" height="1" fill="#dfaa28"/><rect x="444.7" y="75.2" width="1" height="1" fill="#dfaa28"/><rect x="444.3" y="75.1" width="1" height="1" fill="#dfaa28"/><rect x="444.3" y="74.6" width="1" height="1" fill="#dfaa28"/><rect x="444.3" y="74.3" width="1" height="1" fill="#dfaa28"/><rect x="444.0" y="74.6" width="1" height="1" fill="#dfaa28"/><rect x="444.8" y="74.5" width="1" height="1" fill="#dfaa28"/><rect x="446.2" y="73.1" width="1" height="1" fill="#e0a626"/><rect x="445.9" y="72.9" width="1" height="1" fill="#e0a626"/><rect x="445.6" y="74.0" width="1" height="1" fill="#e0a626"/><rect x="445.8" y="73.0" width="1" height="1" fill="#e0a626"/><rect x="445.2" y="73.6" width="1" height="1" fill="#e0a626"/><rect x="446.0" y="72.9" width="1" height="1" fill="#e0a626"/><rect x="446.4" y="72.8" width="1" height="1" fill="#e0a626"/><rect x="445.7" y="72.9" width="1" height="1" fill="#e0a626"/><rect x="446.1" y="74.0" width="1" height="1" fill="#e0a626"/><rect x="445.2" y="72.7" width="1" height="1" fill="#e0a626"/><rect x="445.4" y="73.1" width="1" height="1" fill="#e0a626"/><rect x="445.6" y="73.5" width="1" height="1" fill="#e0a626"/><rect x="445.8" y="73.6" width="1" height="1" fill="#e0a626"/><rect x="445.5" y="73.6" width="1" height="1" fill="#e0a626"/><rect x="445.3" y="74.0" width="1" height="1" fill="#e0a626"/><rect x="445.6" y="74.1" width="1" height="1" fill="#e0a626"/><rect x="446.3" y="72.8" width="1" height="1" fill="#e0a626"/><rect x="445.3" y="73.5" width="1" height="1" fill="#e0a626"/><rect x="445.1" y="72.7" width="1" height="1" fill="#e0a626"/><rect x="445.9" y="72.6" width="1" height="1" fill="#e0a626"/><rect x="445.4" y="73.8" width="1" height="1" fill="#e0a626"/><rect x="445.3" y="73.1" width="1" height="1" fill="#e0a626"/><rect x="445.8" y="73.8" width="1" height="1" fill="#e0a626"/><rect x="445.5" y="72.9" width="1" height="1" fill="#e0a626"/><rect x="442.3" y="73.9" width="1" height="1" fill="#e1a225"/><rect x="443.2" y="73.6" width="1" height="1" fill="#e1a225"/><rect x="443.5" y="74.0" width="1" height="1" fill="#e1a225"/><rect x="443.0" y="73.5" width="1" height="1" fill="#e1a225"/><rect x="443.1" y="73.8" width="1" height="1" fill="#e1a225"/><rect x="443.5" y="74.0" width="1" height="1" fill="#e1a225"/><rect x="442.5" y="73.0" width="1" height="1" fill="#e1a225"/><rect x="442.3" y="73.3" width="1" height="1" fill="#e1a225"/><rect x="442.8" y="73.2" width="1" height="1" fill="#e1a225"/><rect x="442.4" y="73.1" width="1" height="1" fill="#e1a225"/><rect x="443.3" y="73.4" width="1" height="1" fill="#e1a225"/><rect x="442.6" y="73.7" width="1" height="1" fill="#e1a225"/><rect x="443.2" y="72.8" width="1" height="1" fill="#e1a225"/><rect x="443.0" y="73.4" width="1" height="1" fill="#e1a225"/><rect x="443.2" y="73.3" width="1" height="1" fill="#e1a225"/><rect x="442.5" y="73.3" width="1" height="1" fill="#e1a225"/><rect x="443.6" y="73.9" width="1" height="1" fill="#e1a225"/><rect x="443.6" y="73.4" width="1" height="1" fill="#e1a225"/><rect x="443.3" y="73.4" width="1" height="1" fill="#e1a225"/><rect x="443.5" y="73.6" width="1" height="1" fill="#e1a225"/><rect x="446.2" y="72.3" width="1" height="1" fill="#e29d23"/><rect x="446.2" y="71.5" width="1" height="1" fill="#e29d23"/><rect x="445.9" y="71.2" width="1" height="1" fill="#e29d23"/><rect x="445.6" y="72.0" width="1" height="1" fill="#e29d23"/><rect x="446.3" y="72.4" width="1" height="1" fill="#e29d23"/><rect x="445.9" y="71.4" width="1" height="1" fill="#e29d23"/><rect x="446.0" y="72.2" width="1" height="1" fill="#e29d23"/><rect x="445.3" y="72.4" width="1" height="1" fill="#e29d23"/><rect x="446.4" y="71.2" width="1" height="1" fill="#e29d23"/><rect x="445.7" y="71.2" width="1" height="1" fill="#e29d23"/><rect x="445.4" y="72.5" width="1" height="1" fill="#e29d23"/><rect x="445.2" y="71.8" width="1" height="1" fill="#e29d23"/><rect x="445.6" y="71.8" width="1" height="1" fill="#e29d23"/><rect x="445.7" y="72.5" width="1" height="1" fill="#e29d23"/><rect x="446.4" y="72.2" width="1" height="1" fill="#e29d23"/><rect x="446.2" y="71.1" width="1" height="1" fill="#e29d23"/><rect x="446.2" y="71.5" width="1" height="1" fill="#e29d23"/><rect x="443.9" y="72.1" width="1" height="1" fill="#e49822"/><rect x="445.1" y="72.6" width="1" height="1" fill="#e49822"/><rect x="444.3" y="71.7" width="1" height="1" fill="#e49822"/><rect x="444.9" y="71.5" width="1" height="1" fill="#e49822"/><rect x="444.8" y="71.7" width="1" height="1" fill="#e49822"/><rect x="444.0" y="72.3" width="1" height="1" fill="#e49822"/><rect x="445.0" y="72.0" width="1" height="1" fill="#e49822"/><rect x="445.1" y="71.3" width="1" height="1" fill="#e49822"/><rect x="444.0" y="71.8" width="1" height="1" fill="#e49822"/><rect x="445.1" y="71.8" width="1" height="1" fill="#e49822"/><rect x="444.7" y="72.5" width="1" height="1" fill="#e49822"/><rect x="444.7" y="72.5" width="1" height="1" fill="#e49822"/><rect x="444.8" y="72.6" width="1" height="1" fill="#e49822"/><rect x="444.7" y="71.9" width="1" height="1" fill="#e49822"/><rect x="443.7" y="72.5" width="1" height="1" fill="#e49822"/><rect x="444.7" y="71.8" width="1" height="1" fill="#e49822"/><rect x="444.0" y="72.1" width="1" height="1" fill="#e49822"/><rect x="444.9" y="71.6" width="1" height="1" fill="#e49822"/><rect x="445.1" y="72.2" width="1" height="1" fill="#e49822"/><rect x="444.6" y="72.5" width="1" height="1" fill="#e49822"/><rect x="444.0" y="71.6" width="1" height="1" fill="#e49822"/><rect x="444.0" y="73.5" width="1" height="1" fill="#e88c1e"/><rect x="444.6" y="73.1" width="1" height="1" fill="#e88c1e"/><rect x="444.0" y="73.6" width="1" height="1" fill="#e88c1e"/><rect x="443.9" y="72.9" width="1" height="1" fill="#e88c1e"/><rect x="444.9" y="72.8" width="1" height="1" fill="#e88c1e"/><rect x="443.7" y="73.1" width="1" height="1" fill="#e88c1e"/><rect x="444.3" y="73.8" width="1" height="1" fill="#e88c1e"/><rect x="444.5" y="73.3" width="1" height="1" fill="#e88c1e"/><rect x="444.8" y="73.3" width="1" height="1" fill="#e88c1e"/><rect x="444.5" y="72.7" width="1" height="1" fill="#e88c1e"/><rect x="444.1" y="73.1" width="1" height="1" fill="#e88c1e"/><rect x="445.0" y="73.7" width="1" height="1" fill="#e88c1e"/><rect x="445.1" y="73.2" width="1" height="1" fill="#e88c1e"/><rect x="443.7" y="73.5" width="1" height="1" fill="#e88c1e"/><rect x="444.3" y="73.2" width="1" height="1" fill="#e88c1e"/><rect x="443.7" y="73.6" width="1" height="1" fill="#e88c1e"/><rect x="444.6" y="72.8" width="1" height="1" fill="#e88c1e"/><rect x="444.3" y="72.9" width="1" height="1" fill="#e88c1e"/><rect x="444.6" y="73.0" width="1" height="1" fill="#e88c1e"/><rect x="444.5" y="73.0" width="1" height="1" fill="#e88c1e"/><rect x="444.5" y="72.7" width="1" height="1" fill="#e88c1e"/><rect x="444.4" y="73.1" width="1" height="1" fill="#e88c1e"/><rect x="443.7" y="72.8" width="1" height="1" fill="#e88c1e"/><rect x="444.6" y="73.2" width="1" height="1" fill="#e88c1e"/><rect x="444.1" y="73.4" width="1" height="1" fill="#e88c1e"/><rect x="445.0" y="73.7" width="1" height="1" fill="#e88c1e"/><rect x="444.2" y="72.6" width="1" height="1" fill="#e88c1e"/><rect x="445.0" y="72.9" width="1" height="1" fill="#e88c1e"/><rect x="444.9" y="72.7" width="1" height="1" fill="#e88c1e"/><rect x="443.9" y="73.7" width="1" height="1" fill="#e88c1e"/><rect x="444.2" y="72.7" width="1" height="1" fill="#e88c1e"/><rect x="445.0" y="74.1" width="1" height="1" fill="#e88c1e"/><rect x="444.3" y="73.9" width="1" height="1" fill="#e88c1e"/><rect x="444.9" y="73.3" width="1" height="1" fill="#e88c1e"/><rect x="444.6" y="73.4" width="1" height="1" fill="#e88c1e"/></g>
<polygon points="429.8,26.4 436.4,14.8 445.7,12.9 457.9,14.1 468.1,19.2 468.3,45.6 438.5,70.2 431.6,70.4" fill="none" stroke="#333" stroke-width="0.9"/>
<path d="M404.6,22.4 H407.6 M404.6,47.2 H407.6 M404.6,76.2 H407.6 M404.6,93.2 H407.6 M404.6,110 H407.6 M406.2,29.5 H407.6 M406.2,33.5 H407.6 M406.2,36 H407.6 M406.2,38 H407.6 M406.2,40 H407.6 M406.2,41.5 H407.6 M406.2,43 H407.6 M406.2,44.5 H407.6 M406.2,54.5 H407.6 M406.2,58.5 H407.6 M406.2,61 H407.6 M406.2,63 H407.6 M406.2,65 H407.6 M406.2,66.5 H407.6 M406.2,68 H407.6 M406.2,69.5 H407.6 M406.2,71 H407.6 M406.2,72.5 H407.6 M406.2,74 H407.6 M406.2,88 H407.6 M406.2,89.5 H407.6 M406.2,91 H407.6 M406.2,92 H407.6 M406.2,94.5 H407.6 M406.2,96 H407.6 M406.2,97.5 H407.6 M406.2,99 H407.6 M406.2,103 H407.6 M406.2,106 H407.6 M416.7,117.6 v3 M433.5,117.6 v3 M451,117.6 v3 M480,117.6 v3 M507,117.6 v3 M425,117.6 v1.8 M428,117.6 v1.8 M430,117.6 v1.8 M431.5,117.6 v1.8 M432.5,117.6 v1.8 M434.5,117.6 v1.8 M435.5,117.6 v1.8 M437,117.6 v1.8 M439,117.6 v1.8 M442,117.6 v1.8 M460,117.6 v1.8 M464,117.6 v1.8 M467,117.6 v1.8 M469.5,117.6 v1.8 M471.5,117.6 v1.8 M473.5,117.6 v1.8 M475,117.6 v1.8 M476.5,117.6 v1.8 M478,117.6 v1.8 M489,117.6 v1.8 M493,117.6 v1.8 M496,117.6 v1.8 M498.5,117.6 v1.8 M500.5,117.6 v1.8 M502.5,117.6 v1.8 M504,117.6 v1.8 M505.5,117.6 v1.8" stroke="#222" stroke-width="0.6"/>
<text x="403.6" y="24.2" font-family="Liberation Sans" font-size="4.2" text-anchor="end" fill="#222" stroke="#222" stroke-width="0.2">10<tspan font-size="2.8" dy="-1.5">5</tspan></text>
<text x="403.6" y="49.0" font-family="Liberation Sans" font-size="4.2" text-anchor="end" fill="#222" stroke="#222" stroke-width="0.2">10<tspan font-size="2.8" dy="-1.5">4</tspan></text>
<text x="403.6" y="78.0" font-family="Liberation Sans" font-size="4.2" text-anchor="end" fill="#222" stroke="#222" stroke-width="0.2">10<tspan font-size="2.8" dy="-1.5">3</tspan></text>
<text x="403.6" y="94.39999999999999" font-family="Liberation Sans" font-size="4.2" text-anchor="end" fill="#222" stroke="#222" stroke-width="0.2">0</text>
<text x="403.6" y="111.8" font-family="Liberation Sans" font-size="4.2" text-anchor="end" fill="#222" stroke="#222" stroke-width="0.2">-10<tspan font-size="2.8" dy="-1.5">3</tspan></text>
<text x="417" y="128.2" font-family="Liberation Sans" font-size="4.2" text-anchor="middle" fill="#222" stroke="#222" stroke-width="0.2">-10<tspan font-size="2.8" dy="-1.5">3</tspan></text>
<text x="433.6" y="128.2" font-family="Liberation Sans" font-size="4.2" text-anchor="middle" fill="#222" stroke="#222" stroke-width="0.2">0</text>
<text x="451.5" y="128.2" font-family="Liberation Sans" font-size="4.2" text-anchor="middle" fill="#222" stroke="#222" stroke-width="0.2">10<tspan font-size="2.8" dy="-1.5">3</tspan></text>
<text x="481" y="128.2" font-family="Liberation Sans" font-size="4.2" text-anchor="middle" fill="#222" stroke="#222" stroke-width="0.2">10<tspan font-size="2.8" dy="-1.5">4</tspan></text>
<text x="506" y="128.2" font-family="Liberation Sans" font-size="4.2" text-anchor="middle" fill="#222" stroke="#222" stroke-width="0.2">10<tspan font-size="2.8" dy="-1.5">5</tspan></text>
<rect x="404.8" y="90" width="2.8" height="5.2" fill="#111"/>
<rect x="428.3" y="117.6" width="5.3" height="1.6" fill="#111"/>
<text x="409.7" y="107" font-family="Liberation Sans" font-size="4.8" fill="#222">CD14<tspan font-size="3" dy="-1.6">+</tspan><tspan dy="1.6"> CD86</tspan><tspan font-size="3" dy="-1.6">+</tspan></text>
<text x="424.6" y="112.4" font-family="Liberation Sans" font-size="4.8" text-anchor="middle" fill="#222">10.9</text>
<path d="M392.5,103.5 V131.1 H415.3" fill="none" stroke="#111" stroke-width="1.4"/>
<path d="M389.2,107.6 L392.5,103.1 L395.8,107.6 M411.6,127.6 L416,131.1 L411.6,134.6" fill="none" stroke="#111" stroke-width="1.4" stroke-linejoin="miter"/>
<text x="0" y="0" font-family="Liberation Sans" font-size="6.6" text-anchor="middle" fill="#111" transform="translate(389.2,118.6) rotate(-90)">CD86</text>
<text x="404.5" y="141.2" font-family="Liberation Sans" font-size="6.6" text-anchor="middle" fill="#111">CD14</text>
<path d="M48.75,181.85 V275.75 H121" fill="none" stroke="#111" stroke-width="1.2"/>
<text x="43.6" y="278.35" font-family="Liberation Sans" font-weight="bold" stroke="#111" stroke-width="0.22" font-size="8.0" text-anchor="end" fill="#111" >0</text>
<text x="43.6" y="254.875" font-family="Liberation Sans" font-weight="bold" stroke="#111" stroke-width="0.22" font-size="8.0" text-anchor="end" fill="#111" >10</text>
<text x="43.6" y="231.4" font-family="Liberation Sans" font-weight="bold" stroke="#111" stroke-width="0.22" font-size="8.0" text-anchor="end" fill="#111" >20</text>
<text x="43.6" y="207.92499999999998" font-family="Liberation Sans" font-weight="bold" stroke="#111" stroke-width="0.22" font-size="8.0" text-anchor="end" fill="#111" >30</text>
<text x="43.6" y="184.45" font-family="Liberation Sans" font-weight="bold" stroke="#111" stroke-width="0.22" font-size="8.0" text-anchor="end" fill="#111" >40</text>
<path d="M45.2,275.75 H48.75 M45.2,252.28 H48.75 M45.2,228.80 H48.75 M45.2,205.32 H48.75 M45.2,181.85 H48.75 M69.5,275.75 v3 M100.3,275.75 v3" stroke="#111" stroke-width="1"/>
<text x="0" y="0" font-family="Liberation Sans" font-weight="bold" stroke="#111" stroke-width="0.22" font-size="9" text-anchor="middle" fill="#111" transform="translate(30.6,229.2) rotate(-90)">%CD14<tspan font-size="5.6" dy="-3.1">−</tspan><tspan dy="3.1"> CD86</tspan><tspan font-size="5.6" dy="-3.1">+</tspan></text>
<line x1="73.4" y1="187.8" x2="95.9" y2="187.8" stroke="#111" stroke-width="1.7"/>
<polygon points="77.4,178.7 78.1,180.0 79.6,180.3 78.5,181.4 78.8,182.9 77.4,182.2 76.0,182.9 76.3,181.4 75.2,180.3 76.7,180.0" fill="#111"/>
<polygon points="82.3,178.7 83.0,180.0 84.5,180.3 83.4,181.4 83.7,182.9 82.3,182.2 80.9,182.9 81.2,181.4 80.1,180.3 81.6,180.0" fill="#111"/>
<polygon points="87.2,178.7 87.9,180.0 89.4,180.3 88.3,181.4 88.6,182.9 87.2,182.2 85.8,182.9 86.1,181.4 85.0,180.3 86.5,180.0" fill="#111"/>
<polygon points="92.1,178.7 92.8,180.0 94.3,180.3 93.2,181.4 93.5,182.9 92.1,182.2 90.7,182.9 91.0,181.4 89.9,180.3 91.4,180.0" fill="#111"/>
<circle cx="69.30" cy="218.60" r="1.65" fill="#111"/>
<circle cx="66.50" cy="235.80" r="1.65" fill="#111"/>
<circle cx="72.60" cy="235.80" r="1.65" fill="#111"/>
<circle cx="69.90" cy="240.60" r="1.65" fill="#111"/>
<circle cx="66.50" cy="248.20" r="1.65" fill="#111"/>
<circle cx="73.10" cy="248.20" r="1.65" fill="#111"/>
<circle cx="69.30" cy="253.00" r="1.65" fill="#111"/>
<circle cx="69.30" cy="256.80" r="1.65" fill="#111"/>
<circle cx="69.30" cy="261.60" r="1.65" fill="#111"/>
<circle cx="69.30" cy="266.30" r="1.65" fill="#111"/>
<path d="M59.2,246.3 H79.8 M69.4,240.6 V251 M65.5,240.6 H73.3 M65.5,251 H73.3" stroke="#111" stroke-width="1"/>
<rect x="95.20" y="195.80" width="3.4" height="3.4" fill="#7a35a8" stroke="none" stroke-width="0"/>
<rect x="102.30" y="194.30" width="3.4" height="3.4" fill="#7a35a8" stroke="none" stroke-width="0"/>
<rect x="98.30" y="201.70" width="3.4" height="3.4" fill="#7a35a8" stroke="none" stroke-width="0"/>
<rect x="98.60" y="222.10" width="3.4" height="3.4" fill="#7a35a8" stroke="none" stroke-width="0"/>
<rect x="94.90" y="227.80" width="3.4" height="3.4" fill="#7a35a8" stroke="none" stroke-width="0"/>
<rect x="102.00" y="227.80" width="3.4" height="3.4" fill="#7a35a8" stroke="none" stroke-width="0"/>
<rect x="98.60" y="232.20" width="3.4" height="3.4" fill="#7a35a8" stroke="none" stroke-width="0"/>
<rect x="98.60" y="236.60" width="3.4" height="3.4" fill="#7a35a8" stroke="none" stroke-width="0"/>
<rect x="95.30" y="247.50" width="3.4" height="3.4" fill="#7a35a8" stroke="none" stroke-width="0"/>
<rect x="102.00" y="246.80" width="3.4" height="3.4" fill="#7a35a8" stroke="none" stroke-width="0"/>
<path d="M90.3,225 H109.4 M100.4,218.8 V230 M95.5,218.8 H105.6 M95.5,230 H105.6" stroke="#7a35a8" stroke-width="1"/>
<text x="0" y="0" font-family="Liberation Sans" font-weight="bold" stroke="#111" stroke-width="0.22" font-size="8.2" text-anchor="end" fill="#111" transform="translate(72.2,287.3) rotate(-45)">Untreated</text>
<text x="0" y="0" font-family="Liberation Sans" font-weight="bold" stroke="#111" stroke-width="0.22" font-size="7.9" text-anchor="end" fill="#111" transform="translate(97.8,289.6) rotate(-45)">+ICs</text>
<text x="0" y="0" font-family="Liberation Sans" font-weight="bold" stroke="#111" stroke-width="0.22" font-size="7.9" text-anchor="end" fill="#111" transform="translate(112,291.8) rotate(-45)">(200 μg/mL)</text>
<path d="M209,179.39999999999998 V276.9 H306" fill="none" stroke="#111" stroke-width="1.2"/>
<text x="204.0" y="181.99999999999997" font-family="Liberation Sans" font-weight="bold" stroke="#111" stroke-width="0.22" font-size="7.5" text-anchor="end" fill="#111" >20</text>
<text x="204.0" y="201.49999999999997" font-family="Liberation Sans" font-weight="bold" stroke="#111" stroke-width="0.22" font-size="7.5" text-anchor="end" fill="#111" >15</text>
<text x="204.0" y="220.99999999999997" font-family="Liberation Sans" font-weight="bold" stroke="#111" stroke-width="0.22" font-size="7.5" text-anchor="end" fill="#111" >10</text>
<text x="204.0" y="240.49999999999997" font-family="Liberation Sans" font-weight="bold" stroke="#111" stroke-width="0.22" font-size="7.5" text-anchor="end" fill="#111" >5</text>
<text x="204.0" y="260.0" font-family="Liberation Sans" font-weight="bold" stroke="#111" stroke-width="0.22" font-size="7.5" text-anchor="end" fill="#111" >0</text>
<text x="204.0" y="279.5" font-family="Liberation Sans" font-weight="bold" stroke="#111" stroke-width="0.22" font-size="7.5" text-anchor="end" fill="#111" >-5</text>
<path d="M205.5,179.40 H209 M205.5,198.90 H209 M205.5,218.40 H209 M205.5,237.90 H209 M205.5,257.40 H209 M205.5,276.90 H209 M224.2,276.9 v3 M246.3,276.9 v3 M268.7,276.9 v3 M291.3,276.9 v3" stroke="#111" stroke-width="1"/>
<line x1="209" y1="257.4" x2="306" y2="257.4" stroke="#222" stroke-width="0.9" stroke-dasharray="1.3,1.6"/>
<text x="0" y="0" font-family="Liberation Sans" font-weight="bold" stroke="#111" stroke-width="0.22" font-size="8.25" text-anchor="middle" fill="#111" transform="translate(182.1,227.2) rotate(-90)">%CD14<tspan font-size="5.2" dy="-2.8">−</tspan><tspan dy="2.8"> CD86</tspan><tspan font-size="5.2" dy="-2.8">+</tspan></text>
<text x="0" y="0" font-family="Liberation Sans" font-weight="bold" stroke="#111" stroke-width="0.22" font-size="8.25" text-anchor="middle" fill="#111" transform="translate(190.8,228.1) rotate(-90)">(change over untreated)</text>
<path d="M223.8,178.4 H244.6 M272,178.4 H292" stroke="#111" stroke-width="1.6"/>
<polygon points="232.3,170.8 232.9,171.9 234.2,172.1 233.2,173.0 233.4,174.3 232.3,173.7 231.2,174.3 231.4,173.0 230.4,172.1 231.7,171.9" fill="#111"/>
<polygon points="236.2,170.8 236.8,171.9 238.1,172.1 237.1,173.0 237.3,174.3 236.2,173.7 235.1,174.3 235.3,173.0 234.3,172.1 235.6,171.9" fill="#111"/>
<polygon points="277.6,170.8 278.2,171.9 279.5,172.1 278.5,173.0 278.7,174.3 277.6,173.7 276.5,174.3 276.7,173.0 275.7,172.1 277.0,171.9" fill="#111"/>
<polygon points="281.5,170.8 282.1,171.9 283.4,172.1 282.4,173.0 282.6,174.3 281.5,173.7 280.4,174.3 280.6,173.0 279.6,172.1 280.9,171.9" fill="#111"/>
<polygon points="285.4,170.8 286.0,171.9 287.3,172.1 286.3,173.0 286.5,174.3 285.4,173.7 284.3,174.3 284.5,173.0 283.5,172.1 284.8,171.9" fill="#111"/>
<rect x="222.40" y="240.20" width="3.6" height="3.6" fill="#fff" stroke="#8a8a8a" stroke-width="0.95"/>
<rect x="222.40" y="247.50" width="3.6" height="3.6" fill="#fff" stroke="#8a8a8a" stroke-width="0.95"/>
<rect x="222.40" y="253.10" width="3.6" height="3.6" fill="#fff" stroke="#8a8a8a" stroke-width="0.95"/>
<rect x="216.70" y="255.60" width="3.6" height="3.6" fill="#fff" stroke="#8a8a8a" stroke-width="0.95"/>
<rect x="222.40" y="255.60" width="3.6" height="3.6" fill="#fff" stroke="#8a8a8a" stroke-width="0.95"/>
<rect x="227.60" y="255.60" width="3.6" height="3.6" fill="#fff" stroke="#8a8a8a" stroke-width="0.95"/>
<rect x="222.40" y="258.50" width="3.6" height="3.6" fill="#fff" stroke="#8a8a8a" stroke-width="0.95"/>
<rect x="222.40" y="261.70" width="3.6" height="3.6" fill="#fff" stroke="#8a8a8a" stroke-width="0.95"/>
<rect x="216.70" y="264.90" width="3.6" height="3.6" fill="#fff" stroke="#8a8a8a" stroke-width="0.95"/>
<rect x="216.70" y="269.30" width="3.6" height="3.6" fill="#fff" stroke="#8a8a8a" stroke-width="0.95"/>
<rect x="222.40" y="267.70" width="3.6" height="3.6" fill="#fff" stroke="#8a8a8a" stroke-width="0.95"/>
<rect x="227.20" y="268.50" width="3.6" height="3.6" fill="#fff" stroke="#8a8a8a" stroke-width="0.95"/>
<path d="M219,257 H229.5" stroke="#8a8a8a" stroke-width="1"/>
<rect x="244.50" y="185.40" width="3.6" height="3.6" fill="#2c3f8c" stroke="none" stroke-width="0"/>
<rect x="244.50" y="209.00" width="3.6" height="3.6" fill="#2c3f8c" stroke="none" stroke-width="0"/>
<rect x="244.50" y="226.40" width="3.6" height="3.6" fill="#2c3f8c" stroke="none" stroke-width="0"/>
<rect x="244.50" y="231.30" width="3.6" height="3.6" fill="#2c3f8c" stroke="none" stroke-width="0"/>
<rect x="244.40" y="239.50" width="3.6" height="3.6" fill="#2c3f8c" stroke="none" stroke-width="0"/>
<rect x="239.30" y="246.40" width="3.6" height="3.6" fill="#2c3f8c" stroke="none" stroke-width="0"/>
<rect x="243.10" y="246.40" width="3.6" height="3.6" fill="#2c3f8c" stroke="none" stroke-width="0"/>
<rect x="246.70" y="246.40" width="3.6" height="3.6" fill="#2c3f8c" stroke="none" stroke-width="0"/>
<rect x="250.20" y="246.40" width="3.6" height="3.6" fill="#2c3f8c" stroke="none" stroke-width="0"/>
<rect x="244.20" y="256.70" width="3.6" height="3.6" fill="#2c3f8c" stroke="none" stroke-width="0"/>
<path d="M239.5,235.2 H253.6 M246.2,227.5 V242 M244,227.5 H248.4 M244,242 H248.4" stroke="#2c3f8c" stroke-width="1"/>
<polygon points="263.0,236.1 261.1,232.7 264.9,232.7" fill="#fff" stroke="#777" stroke-width="0.8" stroke-linejoin="round"/>
<polygon points="274.1,236.1 272.2,232.7 276.1,232.7" fill="#fff" stroke="#777" stroke-width="0.8" stroke-linejoin="round"/>
<polygon points="262.6,257.1 260.7,253.7 264.6,253.7" fill="#fff" stroke="#777" stroke-width="0.8" stroke-linejoin="round"/>
<polygon points="265.5,257.1 263.6,253.7 267.4,253.7" fill="#fff" stroke="#777" stroke-width="0.8" stroke-linejoin="round"/>
<polygon points="269.3,257.1 267.4,253.7 271.2,253.7" fill="#fff" stroke="#777" stroke-width="0.8" stroke-linejoin="round"/>
<polygon points="272.2,257.1 270.2,253.7 274.1,253.7" fill="#fff" stroke="#777" stroke-width="0.8" stroke-linejoin="round"/>
<polygon points="275.0,257.1 273.1,253.7 276.9,253.7" fill="#fff" stroke="#777" stroke-width="0.8" stroke-linejoin="round"/>
<polygon points="262.6,262.8 260.7,259.4 264.6,259.4" fill="#fff" stroke="#777" stroke-width="0.8" stroke-linejoin="round"/>
<polygon points="263.0,273.9 261.1,270.5 264.9,270.5" fill="#fff" stroke="#777" stroke-width="0.8" stroke-linejoin="round"/>
<polygon points="268.7,272.3 266.8,268.9 270.6,268.9" fill="#fff" stroke="#777" stroke-width="0.8" stroke-linejoin="round"/>
<polygon points="273.7,269.5 271.8,266.1 275.6,266.1" fill="#fff" stroke="#777" stroke-width="0.8" stroke-linejoin="round"/>
<polygon points="273.7,273.9 271.8,270.5 275.6,270.5" fill="#fff" stroke="#777" stroke-width="0.8" stroke-linejoin="round"/>
<path d="M261,258 H276 M268.7,253.5 V262.5 M265.5,262.5 H272" stroke="#777" stroke-width="0.8"/>
<polygon points="291.0,193.3 289.0,189.8 293.0,189.8" fill="#d42a35" stroke="none" stroke-width="0" stroke-linejoin="round"/>
<polygon points="291.3,219.4 289.3,215.9 293.3,215.9" fill="#d42a35" stroke="none" stroke-width="0" stroke-linejoin="round"/>
<polygon points="285.5,227.0 283.5,223.5 287.5,223.5" fill="#d42a35" stroke="none" stroke-width="0" stroke-linejoin="round"/>
<polygon points="296.6,227.0 294.6,223.5 298.6,223.5" fill="#d42a35" stroke="none" stroke-width="0" stroke-linejoin="round"/>
<polygon points="285.5,234.3 283.5,230.8 287.5,230.8" fill="#d42a35" stroke="none" stroke-width="0" stroke-linejoin="round"/>
<polygon points="291.3,234.3 289.3,230.8 293.3,230.8" fill="#d42a35" stroke="none" stroke-width="0" stroke-linejoin="round"/>
<polygon points="296.6,236.2 294.6,232.7 298.6,232.7" fill="#d42a35" stroke="none" stroke-width="0" stroke-linejoin="round"/>
<polygon points="285.5,240.4 283.5,236.9 287.5,236.9" fill="#d42a35" stroke="none" stroke-width="0" stroke-linejoin="round"/>
<polygon points="291.3,248.0 289.3,244.5 293.3,244.5" fill="#d42a35" stroke="none" stroke-width="0" stroke-linejoin="round"/>
<polygon points="285.5,256.2 283.5,252.7 287.5,252.7" fill="#d42a35" stroke="none" stroke-width="0" stroke-linejoin="round"/>
<polygon points="296.6,256.2 294.6,252.7 298.6,252.7" fill="#d42a35" stroke="none" stroke-width="0" stroke-linejoin="round"/>
<path d="M284.6,232.6 H297.9 M291.3,226.8 V238.3 M288,226.8 H295 M288,238.3 H295" stroke="#d42a35" stroke-width="1"/>
<text x="0" y="0" font-family="Liberation Sans" font-weight="bold" stroke="#111" stroke-width="0.22" font-size="7.35" text-anchor="end" fill="#111" transform="translate(226.4,289.7) rotate(-45)">IgG Control (N297A)</text>
<text x="0" y="0" font-family="Liberation Sans" font-weight="bold" stroke="#111" stroke-width="0.22" font-size="7.35" text-anchor="end" fill="#111" transform="translate(248.5,289.7) rotate(-45)">NVS32b2_N297A</text>
<text x="0" y="0" font-family="Liberation Sans" font-weight="bold" stroke="#111" stroke-width="0.22" font-size="7.35" text-anchor="end" fill="#111" transform="translate(270.9,289.7) rotate(-45)">IgG Control (Afuc)</text>
<text x="0" y="0" font-family="Liberation Sans" font-weight="bold" stroke="#111" stroke-width="0.22" font-size="7.35" text-anchor="end" fill="#111" transform="translate(294.0,289.7) rotate(-45)">NVS32b2_Fc_Afuc</text>
<path d="M395.8,178.89999999999998 V277.4 H507.7" fill="none" stroke="#111" stroke-width="1.2"/>
<text x="390.9" y="280.09999999999997" font-family="Liberation Sans" font-weight="bold" stroke="#111" stroke-width="0.22" font-size="7.6" text-anchor="end" fill="#111" >0</text>
<text x="390.9" y="260.4" font-family="Liberation Sans" font-weight="bold" stroke="#111" stroke-width="0.22" font-size="7.6" text-anchor="end" fill="#111" >5</text>
<text x="390.9" y="240.69999999999996" font-family="Liberation Sans" font-weight="bold" stroke="#111" stroke-width="0.22" font-size="7.6" text-anchor="end" fill="#111" >10</text>
<text x="390.9" y="220.99999999999997" font-family="Liberation Sans" font-weight="bold" stroke="#111" stroke-width="0.22" font-size="7.6" text-anchor="end" fill="#111" >15</text>
<text x="390.9" y="201.29999999999995" font-family="Liberation Sans" font-weight="bold" stroke="#111" stroke-width="0.22" font-size="7.6" text-anchor="end" fill="#111" >20</text>
<text x="390.9" y="181.59999999999997" font-family="Liberation Sans" font-weight="bold" stroke="#111" stroke-width="0.22" font-size="7.6" text-anchor="end" fill="#111" >25</text>
<text x="396.3" y="290.2" font-family="Liberation Sans" font-weight="bold" stroke="#111" stroke-width="0.22" font-size="7.4" text-anchor="middle" fill="#111" >0</text>
<text x="433.6" y="290.2" font-family="Liberation Sans" font-weight="bold" stroke="#111" stroke-width="0.22" font-size="7.4" text-anchor="middle" fill="#111" >4,000</text>
<text x="470.9" y="290.2" font-family="Liberation Sans" font-weight="bold" stroke="#111" stroke-width="0.22" font-size="7.4" text-anchor="middle" fill="#111" >8,000</text>
<text x="508.2" y="290.2" font-family="Liberation Sans" font-weight="bold" stroke="#111" stroke-width="0.22" font-size="7.4" text-anchor="middle" fill="#111" >12,000</text>
<path d="M392.3,277.40 H395.8 M392.3,257.70 H395.8 M392.3,238.00 H395.8 M392.3,218.30 H395.8 M392.3,198.60 H395.8 M392.3,178.90 H395.8 M395.80,277.4 v4 M433.10,277.4 v4 M470.40,277.4 v4 M507.70,277.4 v4" stroke="#111" stroke-width="1"/>
<text x="453.1" y="302.3" font-family="Liberation Sans" font-weight="bold" stroke="#111" stroke-width="0.22" font-size="8.35" text-anchor="middle" fill="#111">Baseline CD32a MFI</text>
<text x="0" y="0" font-family="Liberation Sans" font-weight="bold" stroke="#111" stroke-width="0.22" font-size="8.35" text-anchor="middle" fill="#111" transform="translate(368.0,227.8) rotate(-90)">Increase in% CD14<tspan font-size="5" dy="-2.8">−</tspan><tspan dy="2.8"> CD86</tspan><tspan font-size="5" dy="-2.8">+</tspan></text>
<text x="0" y="0" font-family="Liberation Sans" font-weight="bold" stroke="#111" stroke-width="0.22" font-size="8.35" text-anchor="middle" fill="#111" transform="translate(377.2,228.7) rotate(-90)">(over isotype control)</text>
<line x1="412" y1="258.75" x2="494.5" y2="224.5" stroke="#d98a8a" stroke-width="0.9"/>
<circle cx="412.00" cy="256.25" r="2.0" fill="#111"/>
<circle cx="414.50" cy="248.75" r="2.0" fill="#111"/>
<circle cx="449.25" cy="259.25" r="2.0" fill="#111"/>
<circle cx="453.75" cy="257.00" r="2.0" fill="#111"/>
<circle cx="451.25" cy="242.50" r="2.0" fill="#111"/>
<circle cx="459.25" cy="238.75" r="2.0" fill="#111"/>
<circle cx="468.75" cy="251.75" r="2.0" fill="#111"/>
<circle cx="478.75" cy="233.25" r="2.0" fill="#111"/>
<circle cx="494.50" cy="223.75" r="2.0" fill="#111"/>
<circle cx="472.50" cy="198.25" r="2.0" fill="#111"/>
<text x="466.1" y="182.3" font-family="Liberation Sans" font-size="7.6" text-anchor="end" fill="#c84c4c">Pearson <tspan font-style="italic">r</tspan> = 0.583</text>
<text x="466.1" y="190.8" font-family="Liberation Sans" font-size="7.6" text-anchor="end" fill="#c84c4c">Spearman <tspan font-style="italic">r</tspan> = 0.721</text>
</svg></body></html>
